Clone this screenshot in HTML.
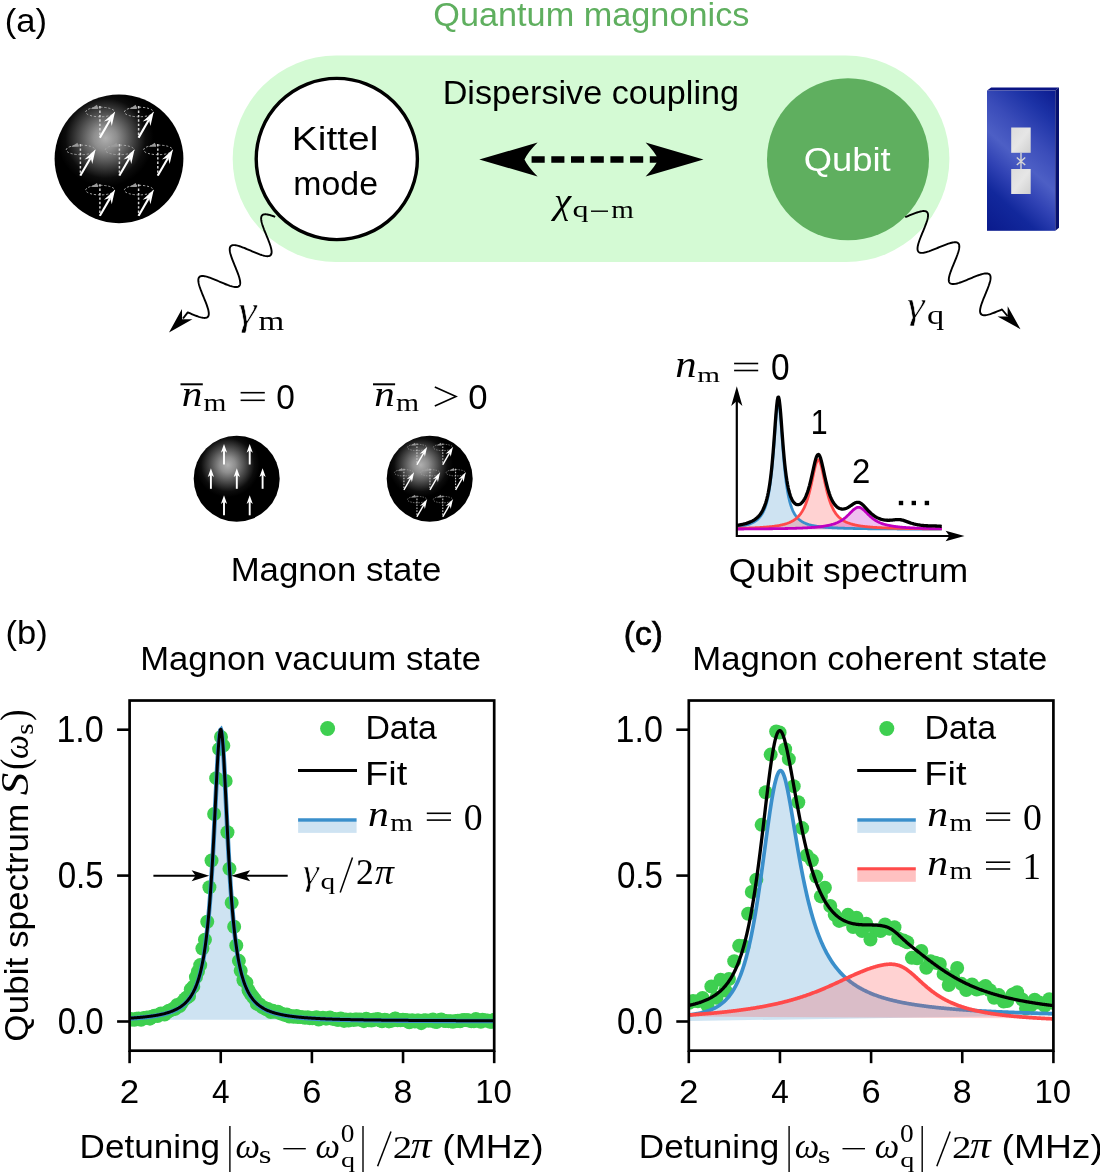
<!DOCTYPE html><html><head><meta charset="utf-8"><title>Quantum magnonics figure</title><style>html,body{margin:0;padding:0;background:#fff;overflow:hidden}svg{display:block}text{font-kerning:none}</style></head><body><svg width="1100" height="1172" viewBox="0 0 1100 1172"><defs><radialGradient id="sph" cx="0.395" cy="0.34" r="0.5" fx="0.395" fy="0.34"><stop offset="0" stop-color="#b0b0b0"/><stop offset="0.18" stop-color="#8e8e8e"/><stop offset="0.42" stop-color="#464646"/><stop offset="0.62" stop-color="#0c0c0c"/><stop offset="0.75" stop-color="#000"/><stop offset="1" stop-color="#000"/></radialGradient><linearGradient id="chip" gradientUnits="userSpaceOnUse" x1="969.6" y1="215.3" x2="1069.7" y2="103.7"><stop offset="0" stop-color="#0a1a8c"/><stop offset="0.22" stop-color="#12289c"/><stop offset="0.36" stop-color="#3042b4"/><stop offset="0.5" stop-color="#4d5fc5"/><stop offset="0.66" stop-color="#3a4cb9"/><stop offset="0.84" stop-color="#1c32a6"/><stop offset="1" stop-color="#0c1c90"/></linearGradient><linearGradient id="pad" x1="0" y1="0" x2="1" y2="1"><stop offset="0" stop-color="#dcdcdc"/><stop offset="0.5" stop-color="#e6e6e6"/><stop offset="1" stop-color="#cfcfcf"/></linearGradient><clipPath id="clipb"><rect x="129.60" y="700.52" width="364.60" height="350.16"/></clipPath><clipPath id="clipc"><rect x="688.80" y="700.52" width="364.60" height="350.16"/></clipPath></defs><rect width="1100" height="1172" fill="#fff"/><rect x="232.7" y="55.6" width="716.7" height="206.4" rx="103.2" ry="103.2" fill="#d4fad4"/>
<circle cx="336.8" cy="159" r="80.6" fill="#fff" stroke="#000" stroke-width="3.4"/>
<circle cx="848" cy="159.3" r="81" fill="#5faf5f"/>
<g><circle cx="119" cy="158.8" r="64.4" fill="url(#sph)"/><ellipse cx="100.20" cy="112.00" rx="14.5" ry="4.8" fill="none" stroke="#a6a6a6" stroke-width="1" stroke-dasharray="2.2 1.8"/><path d="M90.70,108.90 L97.00,104.80 L98.30,108.90 Z" fill="#9a9a9a"/><line x1="99.90" y1="106.10" x2="99.90" y2="137.60" stroke="#d4d4d4" stroke-width="1.5" stroke-dasharray="2.4 2"/><line x1="99.90" y1="137.60" x2="110.08" y2="120.05" stroke="#fff" stroke-width="2.1"/><path d="M115.10,111.40 L103.98,121.60 L110.19,119.87 L111.77,126.11 Z" fill="#fff"/><ellipse cx="138.90" cy="112.00" rx="14.5" ry="4.8" fill="none" stroke="#a6a6a6" stroke-width="1" stroke-dasharray="2.2 1.8"/><path d="M129.40,108.90 L135.70,104.80 L137.00,108.90 Z" fill="#9a9a9a"/><line x1="138.60" y1="106.10" x2="138.60" y2="137.60" stroke="#d4d4d4" stroke-width="1.5" stroke-dasharray="2.4 2"/><line x1="138.60" y1="137.60" x2="148.78" y2="120.05" stroke="#fff" stroke-width="2.1"/><path d="M153.80,111.40 L142.68,121.60 L148.89,119.87 L150.47,126.11 Z" fill="#fff"/><ellipse cx="80.70" cy="149.90" rx="14.5" ry="4.8" fill="none" stroke="#a6a6a6" stroke-width="1" stroke-dasharray="2.2 1.8"/><path d="M71.20,146.80 L77.50,142.70 L78.80,146.80 Z" fill="#9a9a9a"/><line x1="80.40" y1="144.00" x2="80.40" y2="175.50" stroke="#d4d4d4" stroke-width="1.5" stroke-dasharray="2.4 2"/><line x1="80.40" y1="175.50" x2="90.58" y2="157.95" stroke="#fff" stroke-width="2.1"/><path d="M95.60,149.30 L84.48,159.50 L90.69,157.77 L92.27,164.01 Z" fill="#fff"/><ellipse cx="119.70" cy="149.90" rx="14.5" ry="4.8" fill="none" stroke="#a6a6a6" stroke-width="1" stroke-dasharray="2.2 1.8"/><path d="M110.20,146.80 L116.50,142.70 L117.80,146.80 Z" fill="#9a9a9a"/><line x1="119.40" y1="144.00" x2="119.40" y2="175.50" stroke="#d4d4d4" stroke-width="1.5" stroke-dasharray="2.4 2"/><line x1="119.40" y1="175.50" x2="129.58" y2="157.95" stroke="#fff" stroke-width="2.1"/><path d="M134.60,149.30 L123.48,159.50 L129.69,157.77 L131.27,164.01 Z" fill="#fff"/><ellipse cx="158.10" cy="149.90" rx="14.5" ry="4.8" fill="none" stroke="#a6a6a6" stroke-width="1" stroke-dasharray="2.2 1.8"/><path d="M148.60,146.80 L154.90,142.70 L156.20,146.80 Z" fill="#9a9a9a"/><line x1="157.80" y1="144.00" x2="157.80" y2="175.50" stroke="#d4d4d4" stroke-width="1.5" stroke-dasharray="2.4 2"/><line x1="157.80" y1="175.50" x2="167.98" y2="157.95" stroke="#fff" stroke-width="2.1"/><path d="M173.00,149.30 L161.88,159.50 L168.09,157.77 L169.67,164.01 Z" fill="#fff"/><ellipse cx="100.20" cy="190.10" rx="14.5" ry="4.8" fill="none" stroke="#a6a6a6" stroke-width="1" stroke-dasharray="2.2 1.8"/><path d="M90.70,187.00 L97.00,182.90 L98.30,187.00 Z" fill="#9a9a9a"/><line x1="99.90" y1="184.20" x2="99.90" y2="215.70" stroke="#d4d4d4" stroke-width="1.5" stroke-dasharray="2.4 2"/><line x1="99.90" y1="215.70" x2="110.08" y2="198.15" stroke="#fff" stroke-width="2.1"/><path d="M115.10,189.50 L103.98,199.70 L110.19,197.97 L111.77,204.21 Z" fill="#fff"/><ellipse cx="138.90" cy="190.10" rx="14.5" ry="4.8" fill="none" stroke="#a6a6a6" stroke-width="1" stroke-dasharray="2.2 1.8"/><path d="M129.40,187.00 L135.70,182.90 L137.00,187.00 Z" fill="#9a9a9a"/><line x1="138.60" y1="184.20" x2="138.60" y2="215.70" stroke="#d4d4d4" stroke-width="1.5" stroke-dasharray="2.4 2"/><line x1="138.60" y1="215.70" x2="148.78" y2="198.15" stroke="#fff" stroke-width="2.1"/><path d="M153.80,189.50 L142.68,199.70 L148.89,197.97 L150.47,204.21 Z" fill="#fff"/></g>
<g transform="translate(429.7,478.7) scale(0.6677) translate(-119,-158.8)"><circle cx="119" cy="158.8" r="64.4" fill="url(#sph)"/><ellipse cx="100.20" cy="112.00" rx="14.5" ry="4.8" fill="none" stroke="#a6a6a6" stroke-width="1" stroke-dasharray="2.2 1.8"/><path d="M90.70,108.90 L97.00,104.80 L98.30,108.90 Z" fill="#9a9a9a"/><line x1="99.90" y1="106.10" x2="99.90" y2="137.60" stroke="#d4d4d4" stroke-width="1.5" stroke-dasharray="2.4 2"/><line x1="99.90" y1="137.60" x2="110.08" y2="120.05" stroke="#fff" stroke-width="2.1"/><path d="M115.10,111.40 L103.98,121.60 L110.19,119.87 L111.77,126.11 Z" fill="#fff"/><ellipse cx="138.90" cy="112.00" rx="14.5" ry="4.8" fill="none" stroke="#a6a6a6" stroke-width="1" stroke-dasharray="2.2 1.8"/><path d="M129.40,108.90 L135.70,104.80 L137.00,108.90 Z" fill="#9a9a9a"/><line x1="138.60" y1="106.10" x2="138.60" y2="137.60" stroke="#d4d4d4" stroke-width="1.5" stroke-dasharray="2.4 2"/><line x1="138.60" y1="137.60" x2="148.78" y2="120.05" stroke="#fff" stroke-width="2.1"/><path d="M153.80,111.40 L142.68,121.60 L148.89,119.87 L150.47,126.11 Z" fill="#fff"/><ellipse cx="80.70" cy="149.90" rx="14.5" ry="4.8" fill="none" stroke="#a6a6a6" stroke-width="1" stroke-dasharray="2.2 1.8"/><path d="M71.20,146.80 L77.50,142.70 L78.80,146.80 Z" fill="#9a9a9a"/><line x1="80.40" y1="144.00" x2="80.40" y2="175.50" stroke="#d4d4d4" stroke-width="1.5" stroke-dasharray="2.4 2"/><line x1="80.40" y1="175.50" x2="90.58" y2="157.95" stroke="#fff" stroke-width="2.1"/><path d="M95.60,149.30 L84.48,159.50 L90.69,157.77 L92.27,164.01 Z" fill="#fff"/><ellipse cx="119.70" cy="149.90" rx="14.5" ry="4.8" fill="none" stroke="#a6a6a6" stroke-width="1" stroke-dasharray="2.2 1.8"/><path d="M110.20,146.80 L116.50,142.70 L117.80,146.80 Z" fill="#9a9a9a"/><line x1="119.40" y1="144.00" x2="119.40" y2="175.50" stroke="#d4d4d4" stroke-width="1.5" stroke-dasharray="2.4 2"/><line x1="119.40" y1="175.50" x2="129.58" y2="157.95" stroke="#fff" stroke-width="2.1"/><path d="M134.60,149.30 L123.48,159.50 L129.69,157.77 L131.27,164.01 Z" fill="#fff"/><ellipse cx="158.10" cy="149.90" rx="14.5" ry="4.8" fill="none" stroke="#a6a6a6" stroke-width="1" stroke-dasharray="2.2 1.8"/><path d="M148.60,146.80 L154.90,142.70 L156.20,146.80 Z" fill="#9a9a9a"/><line x1="157.80" y1="144.00" x2="157.80" y2="175.50" stroke="#d4d4d4" stroke-width="1.5" stroke-dasharray="2.4 2"/><line x1="157.80" y1="175.50" x2="167.98" y2="157.95" stroke="#fff" stroke-width="2.1"/><path d="M173.00,149.30 L161.88,159.50 L168.09,157.77 L169.67,164.01 Z" fill="#fff"/><ellipse cx="100.20" cy="190.10" rx="14.5" ry="4.8" fill="none" stroke="#a6a6a6" stroke-width="1" stroke-dasharray="2.2 1.8"/><path d="M90.70,187.00 L97.00,182.90 L98.30,187.00 Z" fill="#9a9a9a"/><line x1="99.90" y1="184.20" x2="99.90" y2="215.70" stroke="#d4d4d4" stroke-width="1.5" stroke-dasharray="2.4 2"/><line x1="99.90" y1="215.70" x2="110.08" y2="198.15" stroke="#fff" stroke-width="2.1"/><path d="M115.10,189.50 L103.98,199.70 L110.19,197.97 L111.77,204.21 Z" fill="#fff"/><ellipse cx="138.90" cy="190.10" rx="14.5" ry="4.8" fill="none" stroke="#a6a6a6" stroke-width="1" stroke-dasharray="2.2 1.8"/><path d="M129.40,187.00 L135.70,182.90 L137.00,187.00 Z" fill="#9a9a9a"/><line x1="138.60" y1="184.20" x2="138.60" y2="215.70" stroke="#d4d4d4" stroke-width="1.5" stroke-dasharray="2.4 2"/><line x1="138.60" y1="215.70" x2="148.78" y2="198.15" stroke="#fff" stroke-width="2.1"/><path d="M153.80,189.50 L142.68,199.70 L148.89,197.97 L150.47,204.21 Z" fill="#fff"/></g>
<circle cx="236.7" cy="478.7" r="43" fill="url(#sph)"/>
<line x1="224" y1="464.5" x2="224" y2="450" stroke="#fff" stroke-width="1.9"/>
<path d="M224.00,444.00 L220.90,452.80 L224.00,450.34 L227.10,452.80 Z" fill="#fff"/>
<line x1="249.7" y1="464.5" x2="249.7" y2="450" stroke="#fff" stroke-width="1.9"/>
<path d="M249.70,444.00 L246.60,452.80 L249.70,450.34 L252.80,452.80 Z" fill="#fff"/>
<line x1="210.9" y1="488.8" x2="210.9" y2="474.3" stroke="#fff" stroke-width="1.9"/>
<path d="M210.90,468.30 L207.80,477.10 L210.90,474.64 L214.00,477.10 Z" fill="#fff"/>
<line x1="236.8" y1="488.8" x2="236.8" y2="474.3" stroke="#fff" stroke-width="1.9"/>
<path d="M236.80,468.30 L233.70,477.10 L236.80,474.64 L239.90,477.10 Z" fill="#fff"/>
<line x1="262.6" y1="488.8" x2="262.6" y2="474.3" stroke="#fff" stroke-width="1.9"/>
<path d="M262.60,468.30 L259.50,477.10 L262.60,474.64 L265.70,477.10 Z" fill="#fff"/>
<line x1="224" y1="515.3" x2="224" y2="501.2" stroke="#fff" stroke-width="1.9"/>
<path d="M224.00,495.20 L220.90,504.00 L224.00,501.54 L227.10,504.00 Z" fill="#fff"/>
<line x1="249.7" y1="515.3" x2="249.7" y2="501.2" stroke="#fff" stroke-width="1.9"/>
<path d="M249.70,495.20 L246.60,504.00 L249.70,501.54 L252.80,504.00 Z" fill="#fff"/>
<rect x="987" y="90.6" width="68.3" height="140.2" fill="url(#chip)"/>
<path d="M987,90.6 L991.1,87.4 L1059,87.4 L1055.3,90.6 Z" fill="#0a1484"/>
<path d="M1055.3,90.6 L1059,87.4 L1059,227.8 L1055.3,230.8 Z" fill="#06106e"/>
<rect x="1011.2" y="127.5" width="19.5" height="25.3" fill="url(#pad)"/>
<rect x="1011.2" y="169" width="19.5" height="25" fill="url(#pad)"/>
<path d="M1021,152.8 V169 M1016.8,157.4 L1025.2,165 M1025.2,157.4 L1016.8,165" stroke="#d6d6d6" stroke-width="1.4" fill="none"/>
<line x1="531.6" y1="159.5" x2="660" y2="159.5" stroke="#000" stroke-width="6.5" stroke-dasharray="13.1 6.6"/>
<path d="M479.3,159.5 L537.6,142.5 Q528,152 524.5,159.5 Q528,167 537.6,176.4 Z" fill="#000"/>
<path d="M703.5,159.5 L645.6,142.5 Q655,152 658.2,159.5 Q655,167 645.6,176.4 Z" fill="#000"/>
<path d="M275.19,216.92 L273.97,216.45 L272.78,216.01 L271.63,215.61 L270.53,215.26 L269.47,214.95 L268.46,214.70 L267.51,214.50 L266.61,214.36 L265.78,214.28 L265.01,214.27 L264.30,214.33 L263.67,214.45 L263.10,214.65 L262.61,214.92 L262.19,215.26 L261.84,215.67 L261.56,216.16 L261.35,216.72 L261.21,217.35 L261.14,218.05 L261.14,218.82 L261.20,219.65 L261.32,220.55 L261.50,221.50 L261.73,222.51 L262.02,223.58 L262.35,224.69 L262.73,225.84 L263.15,227.04 L263.60,228.27 L264.07,229.53 L264.58,230.81 L265.10,232.11 L265.63,233.43 L266.17,234.75 L266.72,236.07 L267.26,237.39 L267.79,238.71 L268.30,240.00 L268.80,241.28 L269.27,242.53 L269.71,243.75 L270.12,244.94 L270.49,246.08 L270.81,247.18 L271.08,248.23 L271.30,249.23 L271.47,250.17 L271.58,251.05 L271.62,251.86 L271.60,252.61 L271.51,253.30 L271.35,253.91 L271.13,254.45 L270.83,254.92 L270.46,255.31 L270.02,255.64 L269.50,255.89 L268.92,256.06 L268.27,256.17 L267.55,256.21 L266.76,256.18 L265.91,256.09 L265.00,255.93 L264.03,255.72 L263.01,255.45 L261.94,255.13 L260.82,254.76 L259.66,254.36 L258.46,253.91 L257.23,253.43 L255.98,252.92 L254.70,252.39 L253.40,251.84 L252.09,251.28 L250.78,250.72 L249.46,250.15 L248.15,249.59 L246.85,249.04 L245.57,248.50 L244.31,247.99 L243.08,247.51 L241.87,247.05 L240.71,246.64 L239.58,246.26 L238.50,245.94 L237.47,245.66 L236.49,245.44 L235.57,245.27 L234.71,245.17 L233.92,245.13 L233.18,245.16 L232.52,245.25 L231.93,245.42 L231.40,245.66 L230.95,245.97 L230.57,246.35 L230.26,246.81 L230.02,247.34 L229.85,247.94 L229.75,248.61 L229.72,249.35 L229.75,250.15 L229.85,251.02 L230.01,251.95 L230.22,252.94 L230.48,253.98 L230.80,255.07 L231.16,256.21 L231.56,257.39 L232.00,258.61 L232.46,259.85 L232.96,261.13 L233.47,262.42 L234.00,263.73 L234.54,265.05 L235.08,266.38 L235.62,267.70 L236.16,269.02 L236.68,270.32 L237.19,271.61 L237.67,272.87 L238.12,274.10 L238.55,275.30 L238.93,276.47 L239.27,277.59 L239.57,278.66 L239.81,279.68 L240.00,280.64 L240.13,281.55 L240.20,282.39 L240.21,283.17 L240.15,283.88 L240.02,284.52 L239.82,285.09 L239.55,285.59 L239.22,286.02 L238.80,286.37 L238.32,286.65 L237.77,286.86 L237.14,287.00 L236.45,287.06 L235.69,287.06 L234.87,287.00 L233.99,286.87 L233.04,286.68 L232.04,286.43 L230.99,286.13 L229.89,285.79 L228.75,285.39 L227.56,284.96 L226.35,284.49 L225.10,284.00 L223.83,283.48 L222.54,282.93 L221.24,282.38 L219.92,281.82 L218.61,281.25 L217.30,280.68 L215.99,280.13 L214.70,279.59 L213.43,279.07 L212.18,278.57 L210.97,278.10 L209.78,277.67 L208.64,277.28 L207.54,276.93 L206.49,276.63 L205.49,276.38 L204.54,276.20 L203.66,276.07 L202.84,276.00 L202.08,276.00 L201.38,276.07 L200.76,276.20 L200.21,276.41 L199.72,276.69 L199.31,277.04 L198.97,277.47 L198.70,277.97 L198.51,278.54 L198.38,279.18 L198.32,279.89 L198.32,280.67 L198.39,281.51 L198.53,282.42 L198.71,283.38 L198.96,284.40 L199.25,285.47 L199.59,286.59 L199.98,287.75 L200.40,288.95 L200.85,290.19 L201.34,291.45 L201.84,292.73 L202.37,294.04 L202.90,295.36 L203.44,296.68 L203.99,298.00 L204.52,299.32 L205.05,300.63 L205.57,301.93 L206.06,303.20 L206.53,304.45 L206.96,305.66 L207.36,306.84 L207.72,307.98 L208.04,309.07 L208.31,310.11 L208.52,311.10 L208.67,312.03 L208.77,312.90 L208.80,313.71 L208.77,314.45 L208.67,315.12 L208.51,315.72 L208.27,316.25 L207.96,316.71 L207.58,317.09 L207.13,317.40 L206.60,317.64 L206.01,317.81 L205.34,317.90 L204.61,317.93 L203.82,317.89 L202.96,317.79 L202.04,317.63 L201.06,317.40 L200.03,317.13 L198.95,316.80 L197.83,316.43 L196.66,316.01 L195.46,315.56 L194.22,315.07 L192.96,314.56 L191.68,314.03 L190.38,313.48 L189.07,312.91 L187.75,312.35 L183,318.5" fill="none" stroke="#000" stroke-width="1.9" stroke-linejoin="round"/>
<path d="M169.00,332.40 L192.45,319.32 L182.10,319.22 L181.95,308.88 Z" fill="#000"/>
<path d="M905.25,217.16 L906.60,216.59 L907.95,216.03 L909.30,215.47 L910.64,214.91 L911.97,214.38 L913.27,213.86 L914.55,213.37 L915.80,212.92 L917.00,212.50 L918.16,212.13 L919.28,211.81 L920.34,211.53 L921.34,211.32 L922.29,211.16 L923.17,211.07 L923.98,211.05 L924.72,211.10 L925.39,211.22 L925.99,211.42 L926.51,211.69 L926.96,212.03 L927.32,212.45 L927.62,212.95 L927.83,213.53 L927.98,214.18 L928.05,214.90 L928.05,215.69 L927.98,216.55 L927.84,217.48 L927.65,218.47 L927.40,219.51 L927.09,220.61 L926.73,221.76 L926.33,222.96 L925.89,224.19 L925.41,225.46 L924.91,226.76 L924.38,228.08 L923.83,229.42 L923.28,230.77 L922.72,232.12 L922.15,233.48 L921.60,234.83 L921.06,236.16 L920.54,237.48 L920.04,238.77 L919.57,240.03 L919.14,241.26 L918.75,242.44 L918.40,243.58 L918.11,244.67 L917.87,245.70 L917.69,246.67 L917.57,247.58 L917.52,248.43 L917.53,249.20 L917.62,249.91 L917.78,250.54 L918.02,251.09 L918.33,251.57 L918.72,251.98 L919.18,252.30 L919.72,252.56 L920.33,252.73 L921.02,252.83 L921.78,252.87 L922.61,252.83 L923.51,252.72 L924.47,252.55 L925.48,252.32 L926.56,252.04 L927.69,251.70 L928.86,251.32 L930.07,250.89 L931.33,250.43 L932.61,249.93 L933.92,249.41 L935.25,248.87 L936.60,248.31 L937.95,247.75 L939.30,247.18 L940.65,246.62 L941.99,246.07 L943.32,245.54 L944.62,245.02 L945.90,244.54 L947.14,244.08 L948.34,243.67 L949.50,243.30 L950.61,242.98 L951.67,242.71 L952.67,242.50 L953.61,242.35 L954.49,242.26 L955.29,242.25 L956.03,242.30 L956.70,242.42 L957.29,242.62 L957.81,242.90 L958.25,243.25 L958.61,243.67 L958.90,244.18 L959.11,244.76 L959.25,245.41 L959.31,246.14 L959.31,246.93 L959.24,247.80 L959.10,248.73 L958.90,249.72 L958.64,250.77 L958.33,251.87 L957.97,253.03 L957.57,254.22 L957.12,255.46 L956.65,256.73 L956.14,258.03 L955.61,259.36 L955.07,260.69 L954.51,262.05 L953.95,263.40 L953.38,264.76 L952.83,266.10 L952.29,267.44 L951.77,268.75 L951.27,270.04 L950.81,271.30 L950.38,272.52 L949.99,273.71 L949.65,274.84 L949.35,275.92 L949.12,276.95 L948.94,277.92 L948.83,278.83 L948.78,279.67 L948.80,280.44 L948.89,281.14 L949.06,281.77 L949.30,282.32 L949.62,282.79 L950.01,283.19 L950.48,283.51 L951.02,283.76 L951.64,283.93 L952.33,284.03 L953.10,284.06 L953.93,284.01 L954.83,283.90 L955.79,283.73 L956.82,283.50 L957.89,283.21 L959.02,282.87 L960.20,282.48 L961.42,282.05 L962.67,281.59 L963.96,281.09 L965.27,280.57 L966.60,280.03 L967.95,279.47 L969.30,278.91 L970.65,278.34 L972.00,277.78 L973.34,277.23 L974.67,276.69 L975.97,276.18 L977.24,275.70 L978.48,275.25 L979.68,274.84 L980.84,274.47 L981.94,274.15 L983.00,273.89 L984.00,273.68 L984.93,273.53 L985.80,273.45 L986.61,273.44 L987.34,273.50 L988.00,273.62 L988.59,273.83 L989.10,274.11 L989.54,274.46 L989.90,274.90 L990.18,275.40 L990.39,275.99 L990.52,276.65 L990.58,277.38 L990.57,278.18 L990.50,279.05 L990.35,279.98 L990.15,280.98 L989.89,282.03 L989.58,283.14 L989.21,284.29 L988.81,285.49 L988.36,286.73 L987.88,288.00 L987.37,289.31 L986.84,290.63 L986.30,291.97 L985.74,293.32 L985.18,294.68 L984.62,296.03 L984.06,297.38 L983.52,298.71 L983.00,300.02 L982.51,301.31 L982.04,302.57 L981.62,303.79 L981.23,304.97 L980.89,306.10 L980.60,307.18 L980.37,308.21 L980.20,309.17 L980.09,310.08 L980.04,310.91 L980.07,311.68 L980.17,312.37 L980.34,312.99 L980.58,313.54 L980.90,314.01 L981.30,314.41 L981.77,314.72 L982.32,314.96 L982.95,315.13 L983.64,315.23 L984.41,315.25 L985.25,315.20 L986.15,315.09 L987.12,314.91 L988.15,314.67 L989.23,314.38 L990.36,314.04 L991.54,313.65 L992.76,313.22 L994.02,312.75 L995.31,312.25 L996.62,311.73 L997.95,311.18 L999.30,310.63 L1000.65,310.06 L1002.00,309.50 L1007.5,316" fill="none" stroke="#000" stroke-width="1.9" stroke-linejoin="round"/>
<path d="M1020.50,329.20 L1007.68,306.29 L1007.61,316.38 L997.52,316.51 Z" fill="#000"/>
<text x="4.85" y="32.00" font-family='"Liberation Sans", sans-serif' font-size="33" textLength="42.29" lengthAdjust="spacingAndGlyphs">(a)</text>
<text x="433.28" y="25.80" font-family='"Liberation Sans", sans-serif' font-size="34" textLength="316.16" lengthAdjust="spacingAndGlyphs" fill="#5faf5f">Quantum magnonics</text>
<text x="442.70" y="104.00" font-family='"Liberation Sans", sans-serif' font-size="34" textLength="296.31" lengthAdjust="spacingAndGlyphs">Dispersive coupling</text>
<text x="291.81" y="150.00" font-family='"Liberation Sans", sans-serif' font-size="34" textLength="86.49" lengthAdjust="spacingAndGlyphs">Kittel</text>
<text x="293.35" y="195.00" font-family='"Liberation Sans", sans-serif' font-size="34" textLength="84.65" lengthAdjust="spacingAndGlyphs">mode</text>
<text x="803.67" y="170.90" font-family='"Liberation Sans", sans-serif' font-size="34" textLength="87.09" lengthAdjust="spacingAndGlyphs" fill="#fff">Qubit</text>
<text x="554.11" y="212.55" font-family='"Liberation Serif", serif' font-style="italic" font-size="34.98" textLength="17.09" lengthAdjust="spacingAndGlyphs">χ</text>
<text x="572.43" y="217.44" font-family='"Liberation Serif", serif' font-size="23.78" textLength="16.05" lengthAdjust="spacingAndGlyphs">q</text>
<line x1="591" y1="211.2" x2="608" y2="211.2" stroke="#000" stroke-width="1.4"/>
<text x="611.39" y="217.50" font-family='"Liberation Serif", serif' font-size="24.41" textLength="22.56" lengthAdjust="spacingAndGlyphs">m</text>
<text x="238.22" y="324.04" font-family='"Liberation Serif", serif' font-style="italic" font-size="40.19" textLength="18.21" lengthAdjust="spacingAndGlyphs" stroke="#fff" stroke-width="0.5">γ</text>
<text x="258.51" y="329.60" font-family='"Liberation Serif", serif' font-size="27.8" textLength="25.71" lengthAdjust="spacingAndGlyphs">m</text>
<text x="907.00" y="318.33" font-family='"Liberation Serif", serif' font-style="italic" font-size="38.85" textLength="17.60" lengthAdjust="spacingAndGlyphs" stroke="#fff" stroke-width="0.5">γ</text>
<text x="926.96" y="323.94" font-family='"Liberation Serif", serif' font-size="27.53" textLength="17.16" lengthAdjust="spacingAndGlyphs">q</text>
<line x1="180.5" y1="384.3" x2="202.8" y2="384.3" stroke="#000" stroke-width="2.0"/>
<text x="181.71" y="405.80" font-family='"Liberation Serif", serif' font-style="italic" font-size="35.87" textLength="20.62" lengthAdjust="spacingAndGlyphs">n</text>
<text x="203.58" y="411.00" font-family='"Liberation Serif", serif' font-size="25.47" textLength="22.88" lengthAdjust="spacingAndGlyphs">m</text>
<line x1="240.6" y1="392.7" x2="264.8" y2="392.7" stroke="#000" stroke-width="1.6"/>
<line x1="240.6" y1="400.3" x2="264.8" y2="400.3" stroke="#000" stroke-width="1.6"/>
<text x="276.19" y="409.15" font-family='"Liberation Sans", sans-serif' font-size="35.59" textLength="18.61" lengthAdjust="spacingAndGlyphs">0</text>
<line x1="373" y1="384.3" x2="395.1" y2="384.3" stroke="#000" stroke-width="2.0"/>
<text x="374.37" y="405.70" font-family='"Liberation Serif", serif' font-style="italic" font-size="35.65" textLength="20.50" lengthAdjust="spacingAndGlyphs">n</text>
<text x="395.98" y="410.80" font-family='"Liberation Serif", serif' font-size="25.04" textLength="23.09" lengthAdjust="spacingAndGlyphs">m</text>
<path d="M434.8,387 L456,396.5 L434.8,406" fill="none" stroke="#000" stroke-width="1.6"/>
<text x="468.24" y="408.95" font-family='"Liberation Sans", sans-serif' font-size="35.45" textLength="19.31" lengthAdjust="spacingAndGlyphs">0</text>
<text x="230.65" y="581.30" font-family='"Liberation Sans", sans-serif' font-size="34" textLength="210.70" lengthAdjust="spacingAndGlyphs">Magnon state</text>
<text x="728.83" y="582.00" font-family='"Liberation Sans", sans-serif' font-size="34" textLength="239.40" lengthAdjust="spacingAndGlyphs">Qubit spectrum</text>
<text x="675.25" y="377.10" font-family='"Liberation Serif", serif' font-style="italic" font-size="37.14" textLength="21.36" lengthAdjust="spacingAndGlyphs">n</text>
<text x="697.31" y="381.50" font-family='"Liberation Serif", serif' font-size="21.65" textLength="22.73" lengthAdjust="spacingAndGlyphs">m</text>
<line x1="734.1" y1="363.5" x2="758.2" y2="363.5" stroke="#000" stroke-width="1.6"/>
<line x1="734.1" y1="370.5" x2="758.2" y2="370.5" stroke="#000" stroke-width="1.6"/>
<text x="770.89" y="380.15" font-family='"Liberation Sans", sans-serif' font-size="36.02" textLength="18.61" lengthAdjust="spacingAndGlyphs">0</text>
<text x="810.79" y="433.50" font-family='"Liberation Sans", sans-serif' font-size="35.76" textLength="16.90" lengthAdjust="spacingAndGlyphs">1</text>
<text x="852.04" y="482.80" font-family='"Liberation Sans", sans-serif' font-size="35.23" textLength="18.31" lengthAdjust="spacingAndGlyphs">2</text>
<rect x="898.8" y="500.8" width="4.4" height="4.4" fill="#000"/>
<rect x="911.5999999999999" y="500.8" width="4.4" height="4.4" fill="#000"/>
<rect x="924.6999999999999" y="500.8" width="4.4" height="4.4" fill="#000"/>
<path d="M736.80,529.3 L736.80,526.68 L737.49,526.59 L738.17,526.50 L738.86,526.41 L739.54,526.30 L740.23,526.20 L740.91,526.09 L741.60,525.97 L742.28,525.84 L742.97,525.71 L743.66,525.57 L744.34,525.42 L745.03,525.27 L745.71,525.10 L746.40,524.93 L747.08,524.74 L747.77,524.54 L748.46,524.33 L749.14,524.10 L749.83,523.86 L750.51,523.60 L751.20,523.32 L751.88,523.02 L752.57,522.70 L753.25,522.35 L753.94,521.98 L754.63,521.57 L755.31,521.14 L756.00,520.66 L756.68,520.14 L757.37,519.58 L758.05,518.97 L758.74,518.29 L759.43,517.55 L760.11,516.74 L760.80,515.84 L761.48,514.85 L762.17,513.75 L762.85,512.52 L763.54,511.15 L764.22,509.62 L764.91,507.90 L765.60,505.96 L766.28,503.76 L766.97,501.28 L767.65,498.45 L768.34,495.23 L769.02,491.54 L769.71,487.33 L770.40,482.51 L771.08,477.00 L771.77,470.74 L772.45,463.66 L773.14,455.75 L773.82,447.07 L774.51,437.82 L775.19,428.34 L775.88,419.21 L776.57,411.17 L777.25,405.09 L777.94,401.77 L778.62,401.67 L779.31,404.82 L779.99,410.75 L780.68,418.70 L781.37,427.79 L782.05,437.27 L782.74,446.54 L783.42,455.26 L784.11,463.22 L784.79,470.35 L785.48,476.66 L786.16,482.21 L786.85,487.07 L787.54,491.31 L788.22,495.02 L788.91,498.27 L789.59,501.12 L790.28,503.63 L790.96,505.83 L791.65,507.79 L792.34,509.52 L793.02,511.06 L793.71,512.44 L794.39,513.68 L795.08,514.79 L795.76,515.79 L796.45,516.69 L797.13,517.51 L797.82,518.25 L798.51,518.93 L799.19,519.55 L799.88,520.11 L800.56,520.63 L801.25,521.11 L801.93,521.55 L802.62,521.96 L803.31,522.33 L803.99,522.68 L804.68,523.00 L805.36,523.30 L806.05,523.58 L806.73,523.84 L807.42,524.09 L808.10,524.31 L808.79,524.53 L809.48,524.73 L810.16,524.92 L810.85,525.09 L811.53,525.26 L812.22,525.42 L812.90,525.56 L813.59,525.70 L814.27,525.84 L814.96,525.96 L815.65,526.08 L816.33,526.19 L817.02,526.30 L817.70,526.40 L818.39,526.50 L819.07,526.59 L819.76,526.67 L820.45,526.76 L821.13,526.84 L821.82,526.91 L822.50,526.98 L823.19,527.05 L823.87,527.12 L824.56,527.18 L825.24,527.24 L825.93,527.30 L826.62,527.36 L827.30,527.41 L827.99,527.46 L828.67,527.51 L829.36,527.56 L830.04,527.60 L830.73,527.65 L831.42,527.69 L832.10,527.73 L832.79,527.77 L833.47,527.80 L834.16,527.84 L834.84,527.87 L835.53,527.91 L836.21,527.94 L836.90,527.97 L837.59,528.00 L838.27,528.03 L838.96,528.06 L839.64,528.09 L840.33,528.11 L841.01,528.14 L841.70,528.16 L842.39,528.19 L843.07,528.21 L843.76,528.23 L844.44,528.26 L845.13,528.28 L845.81,528.30 L846.50,528.32 L847.18,528.34 L847.87,528.35 L848.56,528.37 L849.24,528.39 L849.93,528.41 L850.61,528.42 L851.30,528.44 L851.98,528.46 L852.67,528.47 L853.36,528.49 L854.04,528.50 L854.73,528.52 L855.41,528.53 L856.10,528.54 L856.78,528.56 L857.47,528.57 L858.15,528.58 L858.84,528.59 L859.53,528.61 L860.21,528.62 L860.90,528.63 L861.58,528.64 L862.27,528.65 L862.95,528.66 L863.64,528.67 L864.33,528.68 L865.01,528.69 L865.70,528.70 L866.38,528.71 L867.07,528.72 L867.75,528.73 L868.44,528.74 L869.12,528.74 L869.81,528.75 L870.50,528.76 L871.18,528.77 L871.87,528.78 L872.55,528.78 L873.24,528.79 L873.92,528.80 L874.61,528.81 L875.29,528.81 L875.98,528.82 L876.67,528.83 L877.35,528.83 L878.04,528.84 L878.72,528.84 L879.41,528.85 L880.09,528.86 L880.78,528.86 L881.47,528.87 L882.15,528.87 L882.84,528.88 L883.52,528.89 L884.21,528.89 L884.89,528.90 L885.58,528.90 L886.26,528.91 L886.95,528.91 L887.64,528.92 L888.32,528.92 L889.01,528.93 L889.69,528.93 L890.38,528.93 L891.06,528.94 L891.75,528.94 L892.44,528.95 L893.12,528.95 L893.81,528.96 L894.49,528.96 L895.18,528.96 L895.86,528.97 L896.55,528.97 L897.23,528.98 L897.92,528.98 L898.61,528.98 L899.29,528.99 L899.98,528.99 L900.66,528.99 L901.35,529.00 L902.03,529.00 L902.72,529.00 L903.41,529.01 L904.09,529.01 L904.78,529.01 L905.46,529.02 L906.15,529.02 L906.83,529.02 L907.52,529.02 L908.20,529.03 L908.89,529.03 L909.58,529.03 L910.26,529.04 L910.95,529.04 L911.63,529.04 L912.32,529.04 L913.00,529.05 L913.69,529.05 L914.38,529.05 L915.06,529.05 L915.75,529.06 L916.43,529.06 L917.12,529.06 L917.80,529.06 L918.49,529.07 L919.17,529.07 L919.86,529.07 L920.55,529.07 L921.23,529.07 L921.92,529.08 L922.60,529.08 L923.29,529.08 L923.97,529.08 L924.66,529.09 L925.35,529.09 L926.03,529.09 L926.72,529.09 L927.40,529.09 L928.09,529.09 L928.77,529.10 L929.46,529.10 L930.14,529.10 L930.83,529.10 L931.52,529.10 L932.20,529.11 L932.89,529.11 L933.57,529.11 L934.26,529.11 L934.94,529.11 L935.63,529.11 L936.32,529.12 L937.00,529.12 L937.69,529.12 L938.37,529.12 L939.06,529.12 L939.74,529.12 L940.43,529.12 L941.11,529.13 L941.80,529.13 L941.80,529.3 Z" fill="#3a8fcb" fill-opacity="0.25"/>
<path d="M736.80,529.3 L736.80,528.37 L737.49,528.35 L738.17,528.34 L738.86,528.32 L739.54,528.30 L740.23,528.29 L740.91,528.27 L741.60,528.25 L742.28,528.23 L742.97,528.21 L743.66,528.19 L744.34,528.17 L745.03,528.15 L745.71,528.13 L746.40,528.11 L747.08,528.08 L747.77,528.06 L748.46,528.04 L749.14,528.01 L749.83,527.99 L750.51,527.96 L751.20,527.93 L751.88,527.91 L752.57,527.88 L753.25,527.85 L753.94,527.82 L754.63,527.79 L755.31,527.75 L756.00,527.72 L756.68,527.69 L757.37,527.65 L758.05,527.61 L758.74,527.58 L759.43,527.54 L760.11,527.50 L760.80,527.45 L761.48,527.41 L762.17,527.36 L762.85,527.32 L763.54,527.27 L764.22,527.22 L764.91,527.17 L765.60,527.11 L766.28,527.06 L766.97,527.00 L767.65,526.94 L768.34,526.87 L769.02,526.81 L769.71,526.74 L770.40,526.67 L771.08,526.60 L771.77,526.52 L772.45,526.44 L773.14,526.36 L773.82,526.27 L774.51,526.18 L775.19,526.08 L775.88,525.98 L776.57,525.88 L777.25,525.77 L777.94,525.65 L778.62,525.53 L779.31,525.41 L779.99,525.27 L780.68,525.13 L781.37,524.99 L782.05,524.83 L782.74,524.67 L783.42,524.50 L784.11,524.32 L784.79,524.13 L785.48,523.93 L786.16,523.71 L786.85,523.49 L787.54,523.25 L788.22,523.00 L788.91,522.73 L789.59,522.44 L790.28,522.14 L790.96,521.81 L791.65,521.46 L792.34,521.09 L793.02,520.70 L793.71,520.28 L794.39,519.82 L795.08,519.34 L795.76,518.81 L796.45,518.25 L797.13,517.65 L797.82,516.99 L798.51,516.29 L799.19,515.53 L799.88,514.70 L800.56,513.81 L801.25,512.84 L801.93,511.78 L802.62,510.64 L803.31,509.39 L803.99,508.04 L804.68,506.56 L805.36,504.95 L806.05,503.21 L806.73,501.30 L807.42,499.24 L808.10,497.00 L808.79,494.59 L809.48,491.99 L810.16,489.22 L810.85,486.28 L811.53,483.20 L812.22,480.00 L812.90,476.75 L813.59,473.52 L814.27,470.38 L814.96,467.44 L815.65,464.83 L816.33,462.66 L817.02,461.04 L817.70,460.07 L818.39,459.81 L819.07,460.26 L819.76,461.40 L820.45,463.17 L821.13,465.47 L821.82,468.18 L822.50,471.17 L823.19,474.35 L823.87,477.60 L824.56,480.84 L825.24,484.01 L825.93,487.05 L826.62,489.95 L827.30,492.68 L827.99,495.23 L828.67,497.60 L829.36,499.79 L830.04,501.81 L830.73,503.67 L831.42,505.38 L832.10,506.96 L832.79,508.40 L833.47,509.73 L834.16,510.94 L834.84,512.07 L835.53,513.10 L836.21,514.05 L836.90,514.92 L837.59,515.73 L838.27,516.48 L838.96,517.17 L839.64,517.81 L840.33,518.40 L841.01,518.95 L841.70,519.47 L842.39,519.94 L843.07,520.39 L843.76,520.80 L844.44,521.19 L845.13,521.56 L845.81,521.90 L846.50,522.22 L847.18,522.52 L847.87,522.80 L848.56,523.06 L849.24,523.31 L849.93,523.55 L850.61,523.77 L851.30,523.98 L851.98,524.18 L852.67,524.37 L853.36,524.55 L854.04,524.71 L854.73,524.87 L855.41,525.03 L856.10,525.17 L856.78,525.31 L857.47,525.44 L858.15,525.56 L858.84,525.68 L859.53,525.80 L860.21,525.90 L860.90,526.01 L861.58,526.11 L862.27,526.20 L862.95,526.29 L863.64,526.38 L864.33,526.46 L865.01,526.54 L865.70,526.62 L866.38,526.69 L867.07,526.76 L867.75,526.83 L868.44,526.89 L869.12,526.95 L869.81,527.01 L870.50,527.07 L871.18,527.13 L871.87,527.18 L872.55,527.23 L873.24,527.28 L873.92,527.33 L874.61,527.38 L875.29,527.42 L875.98,527.46 L876.67,527.51 L877.35,527.55 L878.04,527.59 L878.72,527.62 L879.41,527.66 L880.09,527.70 L880.78,527.73 L881.47,527.76 L882.15,527.79 L882.84,527.83 L883.52,527.86 L884.21,527.89 L884.89,527.91 L885.58,527.94 L886.26,527.97 L886.95,527.99 L887.64,528.02 L888.32,528.04 L889.01,528.07 L889.69,528.09 L890.38,528.11 L891.06,528.14 L891.75,528.16 L892.44,528.18 L893.12,528.20 L893.81,528.22 L894.49,528.24 L895.18,528.25 L895.86,528.27 L896.55,528.29 L897.23,528.31 L897.92,528.32 L898.61,528.34 L899.29,528.36 L899.98,528.37 L900.66,528.39 L901.35,528.40 L902.03,528.42 L902.72,528.43 L903.41,528.44 L904.09,528.46 L904.78,528.47 L905.46,528.48 L906.15,528.50 L906.83,528.51 L907.52,528.52 L908.20,528.53 L908.89,528.54 L909.58,528.56 L910.26,528.57 L910.95,528.58 L911.63,528.59 L912.32,528.60 L913.00,528.61 L913.69,528.62 L914.38,528.63 L915.06,528.64 L915.75,528.65 L916.43,528.65 L917.12,528.66 L917.80,528.67 L918.49,528.68 L919.17,528.69 L919.86,528.70 L920.55,528.71 L921.23,528.71 L921.92,528.72 L922.60,528.73 L923.29,528.74 L923.97,528.74 L924.66,528.75 L925.35,528.76 L926.03,528.76 L926.72,528.77 L927.40,528.78 L928.09,528.78 L928.77,528.79 L929.46,528.80 L930.14,528.80 L930.83,528.81 L931.52,528.81 L932.20,528.82 L932.89,528.83 L933.57,528.83 L934.26,528.84 L934.94,528.84 L935.63,528.85 L936.32,528.85 L937.00,528.86 L937.69,528.86 L938.37,528.87 L939.06,528.87 L939.74,528.88 L940.43,528.88 L941.11,528.89 L941.80,528.89 L941.80,529.3 Z" fill="#ff4a4a" fill-opacity="0.25"/>
<path d="M736.80,529.3 L736.80,529.01 L737.49,529.01 L738.17,529.01 L738.86,529.00 L739.54,529.00 L740.23,529.00 L740.91,528.99 L741.60,528.99 L742.28,528.99 L742.97,528.98 L743.66,528.98 L744.34,528.97 L745.03,528.97 L745.71,528.97 L746.40,528.96 L747.08,528.96 L747.77,528.95 L748.46,528.95 L749.14,528.95 L749.83,528.94 L750.51,528.94 L751.20,528.93 L751.88,528.93 L752.57,528.92 L753.25,528.92 L753.94,528.91 L754.63,528.91 L755.31,528.90 L756.00,528.90 L756.68,528.89 L757.37,528.89 L758.05,528.88 L758.74,528.88 L759.43,528.87 L760.11,528.86 L760.80,528.86 L761.48,528.85 L762.17,528.84 L762.85,528.84 L763.54,528.83 L764.22,528.83 L764.91,528.82 L765.60,528.81 L766.28,528.80 L766.97,528.80 L767.65,528.79 L768.34,528.78 L769.02,528.77 L769.71,528.77 L770.40,528.76 L771.08,528.75 L771.77,528.74 L772.45,528.73 L773.14,528.72 L773.82,528.71 L774.51,528.71 L775.19,528.70 L775.88,528.69 L776.57,528.68 L777.25,528.67 L777.94,528.66 L778.62,528.64 L779.31,528.63 L779.99,528.62 L780.68,528.61 L781.37,528.60 L782.05,528.59 L782.74,528.57 L783.42,528.56 L784.11,528.55 L784.79,528.53 L785.48,528.52 L786.16,528.51 L786.85,528.49 L787.54,528.48 L788.22,528.46 L788.91,528.44 L789.59,528.43 L790.28,528.41 L790.96,528.39 L791.65,528.38 L792.34,528.36 L793.02,528.34 L793.71,528.32 L794.39,528.30 L795.08,528.28 L795.76,528.26 L796.45,528.23 L797.13,528.21 L797.82,528.19 L798.51,528.16 L799.19,528.14 L799.88,528.11 L800.56,528.09 L801.25,528.06 L801.93,528.03 L802.62,528.00 L803.31,527.97 L803.99,527.94 L804.68,527.91 L805.36,527.87 L806.05,527.84 L806.73,527.80 L807.42,527.76 L808.10,527.72 L808.79,527.68 L809.48,527.64 L810.16,527.60 L810.85,527.55 L811.53,527.50 L812.22,527.46 L812.90,527.40 L813.59,527.35 L814.27,527.30 L814.96,527.24 L815.65,527.18 L816.33,527.12 L817.02,527.05 L817.70,526.98 L818.39,526.91 L819.07,526.84 L819.76,526.76 L820.45,526.68 L821.13,526.59 L821.82,526.50 L822.50,526.41 L823.19,526.31 L823.87,526.21 L824.56,526.10 L825.24,525.99 L825.93,525.87 L826.62,525.74 L827.30,525.61 L827.99,525.47 L828.67,525.33 L829.36,525.17 L830.04,525.01 L830.73,524.84 L831.42,524.66 L832.10,524.47 L832.79,524.27 L833.47,524.06 L834.16,523.83 L834.84,523.59 L835.53,523.34 L836.21,523.07 L836.90,522.79 L837.59,522.49 L838.27,522.17 L838.96,521.84 L839.64,521.48 L840.33,521.11 L841.01,520.71 L841.70,520.28 L842.39,519.84 L843.07,519.37 L843.76,518.87 L844.44,518.35 L845.13,517.80 L845.81,517.22 L846.50,516.62 L847.18,515.99 L847.87,515.34 L848.56,514.68 L849.24,513.99 L849.93,513.30 L850.61,512.60 L851.30,511.90 L851.98,511.22 L852.67,510.55 L853.36,509.92 L854.04,509.33 L854.73,508.79 L855.41,508.32 L856.10,507.93 L856.78,507.63 L857.47,507.42 L858.15,507.31 L858.84,507.31 L859.53,507.42 L860.21,507.62 L860.90,507.93 L861.58,508.32 L862.27,508.79 L862.95,509.32 L863.64,509.91 L864.33,510.55 L865.01,511.21 L865.70,511.90 L866.38,512.59 L867.07,513.29 L867.75,513.99 L868.44,514.67 L869.12,515.34 L869.81,515.99 L870.50,516.61 L871.18,517.22 L871.87,517.79 L872.55,518.34 L873.24,518.86 L873.92,519.36 L874.61,519.83 L875.29,520.28 L875.98,520.70 L876.67,521.10 L877.35,521.48 L878.04,521.84 L878.72,522.17 L879.41,522.49 L880.09,522.79 L880.78,523.07 L881.47,523.34 L882.15,523.59 L882.84,523.83 L883.52,524.06 L884.21,524.27 L884.89,524.47 L885.58,524.66 L886.26,524.84 L886.95,525.01 L887.64,525.17 L888.32,525.33 L889.01,525.47 L889.69,525.61 L890.38,525.74 L891.06,525.87 L891.75,525.99 L892.44,526.10 L893.12,526.21 L893.81,526.31 L894.49,526.41 L895.18,526.50 L895.86,526.59 L896.55,526.68 L897.23,526.76 L897.92,526.84 L898.61,526.91 L899.29,526.98 L899.98,527.05 L900.66,527.12 L901.35,527.18 L902.03,527.24 L902.72,527.30 L903.41,527.35 L904.09,527.40 L904.78,527.46 L905.46,527.50 L906.15,527.55 L906.83,527.60 L907.52,527.64 L908.20,527.68 L908.89,527.72 L909.58,527.76 L910.26,527.80 L910.95,527.84 L911.63,527.87 L912.32,527.91 L913.00,527.94 L913.69,527.97 L914.38,528.00 L915.06,528.03 L915.75,528.06 L916.43,528.09 L917.12,528.11 L917.80,528.14 L918.49,528.16 L919.17,528.19 L919.86,528.21 L920.55,528.23 L921.23,528.26 L921.92,528.28 L922.60,528.30 L923.29,528.32 L923.97,528.34 L924.66,528.36 L925.35,528.38 L926.03,528.39 L926.72,528.41 L927.40,528.43 L928.09,528.44 L928.77,528.46 L929.46,528.48 L930.14,528.49 L930.83,528.51 L931.52,528.52 L932.20,528.53 L932.89,528.55 L933.57,528.56 L934.26,528.57 L934.94,528.59 L935.63,528.60 L936.32,528.61 L937.00,528.62 L937.69,528.63 L938.37,528.64 L939.06,528.66 L939.74,528.67 L940.43,528.68 L941.11,528.69 L941.80,528.70 L941.80,529.3 Z" fill="#c000c0" fill-opacity="0.25"/>
<path d="M736.80,526.68 L737.49,526.59 L738.17,526.50 L738.86,526.41 L739.54,526.30 L740.23,526.20 L740.91,526.09 L741.60,525.97 L742.28,525.84 L742.97,525.71 L743.66,525.57 L744.34,525.42 L745.03,525.27 L745.71,525.10 L746.40,524.93 L747.08,524.74 L747.77,524.54 L748.46,524.33 L749.14,524.10 L749.83,523.86 L750.51,523.60 L751.20,523.32 L751.88,523.02 L752.57,522.70 L753.25,522.35 L753.94,521.98 L754.63,521.57 L755.31,521.14 L756.00,520.66 L756.68,520.14 L757.37,519.58 L758.05,518.97 L758.74,518.29 L759.43,517.55 L760.11,516.74 L760.80,515.84 L761.48,514.85 L762.17,513.75 L762.85,512.52 L763.54,511.15 L764.22,509.62 L764.91,507.90 L765.60,505.96 L766.28,503.76 L766.97,501.28 L767.65,498.45 L768.34,495.23 L769.02,491.54 L769.71,487.33 L770.40,482.51 L771.08,477.00 L771.77,470.74 L772.45,463.66 L773.14,455.75 L773.82,447.07 L774.51,437.82 L775.19,428.34 L775.88,419.21 L776.57,411.17 L777.25,405.09 L777.94,401.77 L778.62,401.67 L779.31,404.82 L779.99,410.75 L780.68,418.70 L781.37,427.79 L782.05,437.27 L782.74,446.54 L783.42,455.26 L784.11,463.22 L784.79,470.35 L785.48,476.66 L786.16,482.21 L786.85,487.07 L787.54,491.31 L788.22,495.02 L788.91,498.27 L789.59,501.12 L790.28,503.63 L790.96,505.83 L791.65,507.79 L792.34,509.52 L793.02,511.06 L793.71,512.44 L794.39,513.68 L795.08,514.79 L795.76,515.79 L796.45,516.69 L797.13,517.51 L797.82,518.25 L798.51,518.93 L799.19,519.55 L799.88,520.11 L800.56,520.63 L801.25,521.11 L801.93,521.55 L802.62,521.96 L803.31,522.33 L803.99,522.68 L804.68,523.00 L805.36,523.30 L806.05,523.58 L806.73,523.84 L807.42,524.09 L808.10,524.31 L808.79,524.53 L809.48,524.73 L810.16,524.92 L810.85,525.09 L811.53,525.26 L812.22,525.42 L812.90,525.56 L813.59,525.70 L814.27,525.84 L814.96,525.96 L815.65,526.08 L816.33,526.19 L817.02,526.30 L817.70,526.40 L818.39,526.50 L819.07,526.59 L819.76,526.67 L820.45,526.76 L821.13,526.84 L821.82,526.91 L822.50,526.98 L823.19,527.05 L823.87,527.12 L824.56,527.18 L825.24,527.24 L825.93,527.30 L826.62,527.36 L827.30,527.41 L827.99,527.46 L828.67,527.51 L829.36,527.56 L830.04,527.60 L830.73,527.65 L831.42,527.69 L832.10,527.73 L832.79,527.77 L833.47,527.80 L834.16,527.84 L834.84,527.87 L835.53,527.91 L836.21,527.94 L836.90,527.97 L837.59,528.00 L838.27,528.03 L838.96,528.06 L839.64,528.09 L840.33,528.11 L841.01,528.14 L841.70,528.16 L842.39,528.19 L843.07,528.21 L843.76,528.23 L844.44,528.26 L845.13,528.28 L845.81,528.30 L846.50,528.32 L847.18,528.34 L847.87,528.35 L848.56,528.37 L849.24,528.39 L849.93,528.41 L850.61,528.42 L851.30,528.44 L851.98,528.46 L852.67,528.47 L853.36,528.49 L854.04,528.50 L854.73,528.52 L855.41,528.53 L856.10,528.54 L856.78,528.56 L857.47,528.57 L858.15,528.58 L858.84,528.59 L859.53,528.61 L860.21,528.62 L860.90,528.63 L861.58,528.64 L862.27,528.65 L862.95,528.66 L863.64,528.67 L864.33,528.68 L865.01,528.69 L865.70,528.70 L866.38,528.71 L867.07,528.72 L867.75,528.73 L868.44,528.74 L869.12,528.74 L869.81,528.75 L870.50,528.76 L871.18,528.77 L871.87,528.78 L872.55,528.78 L873.24,528.79 L873.92,528.80 L874.61,528.81 L875.29,528.81 L875.98,528.82 L876.67,528.83 L877.35,528.83 L878.04,528.84 L878.72,528.84 L879.41,528.85 L880.09,528.86 L880.78,528.86 L881.47,528.87 L882.15,528.87 L882.84,528.88 L883.52,528.89 L884.21,528.89 L884.89,528.90 L885.58,528.90 L886.26,528.91 L886.95,528.91 L887.64,528.92 L888.32,528.92 L889.01,528.93 L889.69,528.93 L890.38,528.93 L891.06,528.94 L891.75,528.94 L892.44,528.95 L893.12,528.95 L893.81,528.96 L894.49,528.96 L895.18,528.96 L895.86,528.97 L896.55,528.97 L897.23,528.98 L897.92,528.98 L898.61,528.98 L899.29,528.99 L899.98,528.99 L900.66,528.99 L901.35,529.00 L902.03,529.00 L902.72,529.00 L903.41,529.01 L904.09,529.01 L904.78,529.01 L905.46,529.02 L906.15,529.02 L906.83,529.02 L907.52,529.02 L908.20,529.03 L908.89,529.03 L909.58,529.03 L910.26,529.04 L910.95,529.04 L911.63,529.04 L912.32,529.04 L913.00,529.05 L913.69,529.05 L914.38,529.05 L915.06,529.05 L915.75,529.06 L916.43,529.06 L917.12,529.06 L917.80,529.06 L918.49,529.07 L919.17,529.07 L919.86,529.07 L920.55,529.07 L921.23,529.07 L921.92,529.08 L922.60,529.08 L923.29,529.08 L923.97,529.08 L924.66,529.09 L925.35,529.09 L926.03,529.09 L926.72,529.09 L927.40,529.09 L928.09,529.09 L928.77,529.10 L929.46,529.10 L930.14,529.10 L930.83,529.10 L931.52,529.10 L932.20,529.11 L932.89,529.11 L933.57,529.11 L934.26,529.11 L934.94,529.11 L935.63,529.11 L936.32,529.12 L937.00,529.12 L937.69,529.12 L938.37,529.12 L939.06,529.12 L939.74,529.12 L940.43,529.12 L941.11,529.13 L941.80,529.13" fill="none" stroke="#3a8fcb" stroke-width="2.8"/>
<path d="M736.80,528.37 L737.49,528.35 L738.17,528.34 L738.86,528.32 L739.54,528.30 L740.23,528.29 L740.91,528.27 L741.60,528.25 L742.28,528.23 L742.97,528.21 L743.66,528.19 L744.34,528.17 L745.03,528.15 L745.71,528.13 L746.40,528.11 L747.08,528.08 L747.77,528.06 L748.46,528.04 L749.14,528.01 L749.83,527.99 L750.51,527.96 L751.20,527.93 L751.88,527.91 L752.57,527.88 L753.25,527.85 L753.94,527.82 L754.63,527.79 L755.31,527.75 L756.00,527.72 L756.68,527.69 L757.37,527.65 L758.05,527.61 L758.74,527.58 L759.43,527.54 L760.11,527.50 L760.80,527.45 L761.48,527.41 L762.17,527.36 L762.85,527.32 L763.54,527.27 L764.22,527.22 L764.91,527.17 L765.60,527.11 L766.28,527.06 L766.97,527.00 L767.65,526.94 L768.34,526.87 L769.02,526.81 L769.71,526.74 L770.40,526.67 L771.08,526.60 L771.77,526.52 L772.45,526.44 L773.14,526.36 L773.82,526.27 L774.51,526.18 L775.19,526.08 L775.88,525.98 L776.57,525.88 L777.25,525.77 L777.94,525.65 L778.62,525.53 L779.31,525.41 L779.99,525.27 L780.68,525.13 L781.37,524.99 L782.05,524.83 L782.74,524.67 L783.42,524.50 L784.11,524.32 L784.79,524.13 L785.48,523.93 L786.16,523.71 L786.85,523.49 L787.54,523.25 L788.22,523.00 L788.91,522.73 L789.59,522.44 L790.28,522.14 L790.96,521.81 L791.65,521.46 L792.34,521.09 L793.02,520.70 L793.71,520.28 L794.39,519.82 L795.08,519.34 L795.76,518.81 L796.45,518.25 L797.13,517.65 L797.82,516.99 L798.51,516.29 L799.19,515.53 L799.88,514.70 L800.56,513.81 L801.25,512.84 L801.93,511.78 L802.62,510.64 L803.31,509.39 L803.99,508.04 L804.68,506.56 L805.36,504.95 L806.05,503.21 L806.73,501.30 L807.42,499.24 L808.10,497.00 L808.79,494.59 L809.48,491.99 L810.16,489.22 L810.85,486.28 L811.53,483.20 L812.22,480.00 L812.90,476.75 L813.59,473.52 L814.27,470.38 L814.96,467.44 L815.65,464.83 L816.33,462.66 L817.02,461.04 L817.70,460.07 L818.39,459.81 L819.07,460.26 L819.76,461.40 L820.45,463.17 L821.13,465.47 L821.82,468.18 L822.50,471.17 L823.19,474.35 L823.87,477.60 L824.56,480.84 L825.24,484.01 L825.93,487.05 L826.62,489.95 L827.30,492.68 L827.99,495.23 L828.67,497.60 L829.36,499.79 L830.04,501.81 L830.73,503.67 L831.42,505.38 L832.10,506.96 L832.79,508.40 L833.47,509.73 L834.16,510.94 L834.84,512.07 L835.53,513.10 L836.21,514.05 L836.90,514.92 L837.59,515.73 L838.27,516.48 L838.96,517.17 L839.64,517.81 L840.33,518.40 L841.01,518.95 L841.70,519.47 L842.39,519.94 L843.07,520.39 L843.76,520.80 L844.44,521.19 L845.13,521.56 L845.81,521.90 L846.50,522.22 L847.18,522.52 L847.87,522.80 L848.56,523.06 L849.24,523.31 L849.93,523.55 L850.61,523.77 L851.30,523.98 L851.98,524.18 L852.67,524.37 L853.36,524.55 L854.04,524.71 L854.73,524.87 L855.41,525.03 L856.10,525.17 L856.78,525.31 L857.47,525.44 L858.15,525.56 L858.84,525.68 L859.53,525.80 L860.21,525.90 L860.90,526.01 L861.58,526.11 L862.27,526.20 L862.95,526.29 L863.64,526.38 L864.33,526.46 L865.01,526.54 L865.70,526.62 L866.38,526.69 L867.07,526.76 L867.75,526.83 L868.44,526.89 L869.12,526.95 L869.81,527.01 L870.50,527.07 L871.18,527.13 L871.87,527.18 L872.55,527.23 L873.24,527.28 L873.92,527.33 L874.61,527.38 L875.29,527.42 L875.98,527.46 L876.67,527.51 L877.35,527.55 L878.04,527.59 L878.72,527.62 L879.41,527.66 L880.09,527.70 L880.78,527.73 L881.47,527.76 L882.15,527.79 L882.84,527.83 L883.52,527.86 L884.21,527.89 L884.89,527.91 L885.58,527.94 L886.26,527.97 L886.95,527.99 L887.64,528.02 L888.32,528.04 L889.01,528.07 L889.69,528.09 L890.38,528.11 L891.06,528.14 L891.75,528.16 L892.44,528.18 L893.12,528.20 L893.81,528.22 L894.49,528.24 L895.18,528.25 L895.86,528.27 L896.55,528.29 L897.23,528.31 L897.92,528.32 L898.61,528.34 L899.29,528.36 L899.98,528.37 L900.66,528.39 L901.35,528.40 L902.03,528.42 L902.72,528.43 L903.41,528.44 L904.09,528.46 L904.78,528.47 L905.46,528.48 L906.15,528.50 L906.83,528.51 L907.52,528.52 L908.20,528.53 L908.89,528.54 L909.58,528.56 L910.26,528.57 L910.95,528.58 L911.63,528.59 L912.32,528.60 L913.00,528.61 L913.69,528.62 L914.38,528.63 L915.06,528.64 L915.75,528.65 L916.43,528.65 L917.12,528.66 L917.80,528.67 L918.49,528.68 L919.17,528.69 L919.86,528.70 L920.55,528.71 L921.23,528.71 L921.92,528.72 L922.60,528.73 L923.29,528.74 L923.97,528.74 L924.66,528.75 L925.35,528.76 L926.03,528.76 L926.72,528.77 L927.40,528.78 L928.09,528.78 L928.77,528.79 L929.46,528.80 L930.14,528.80 L930.83,528.81 L931.52,528.81 L932.20,528.82 L932.89,528.83 L933.57,528.83 L934.26,528.84 L934.94,528.84 L935.63,528.85 L936.32,528.85 L937.00,528.86 L937.69,528.86 L938.37,528.87 L939.06,528.87 L939.74,528.88 L940.43,528.88 L941.11,528.89 L941.80,528.89" fill="none" stroke="#ff4a4a" stroke-width="2.8"/>
<path d="M736.80,529.01 L737.49,529.01 L738.17,529.01 L738.86,529.00 L739.54,529.00 L740.23,529.00 L740.91,528.99 L741.60,528.99 L742.28,528.99 L742.97,528.98 L743.66,528.98 L744.34,528.97 L745.03,528.97 L745.71,528.97 L746.40,528.96 L747.08,528.96 L747.77,528.95 L748.46,528.95 L749.14,528.95 L749.83,528.94 L750.51,528.94 L751.20,528.93 L751.88,528.93 L752.57,528.92 L753.25,528.92 L753.94,528.91 L754.63,528.91 L755.31,528.90 L756.00,528.90 L756.68,528.89 L757.37,528.89 L758.05,528.88 L758.74,528.88 L759.43,528.87 L760.11,528.86 L760.80,528.86 L761.48,528.85 L762.17,528.84 L762.85,528.84 L763.54,528.83 L764.22,528.83 L764.91,528.82 L765.60,528.81 L766.28,528.80 L766.97,528.80 L767.65,528.79 L768.34,528.78 L769.02,528.77 L769.71,528.77 L770.40,528.76 L771.08,528.75 L771.77,528.74 L772.45,528.73 L773.14,528.72 L773.82,528.71 L774.51,528.71 L775.19,528.70 L775.88,528.69 L776.57,528.68 L777.25,528.67 L777.94,528.66 L778.62,528.64 L779.31,528.63 L779.99,528.62 L780.68,528.61 L781.37,528.60 L782.05,528.59 L782.74,528.57 L783.42,528.56 L784.11,528.55 L784.79,528.53 L785.48,528.52 L786.16,528.51 L786.85,528.49 L787.54,528.48 L788.22,528.46 L788.91,528.44 L789.59,528.43 L790.28,528.41 L790.96,528.39 L791.65,528.38 L792.34,528.36 L793.02,528.34 L793.71,528.32 L794.39,528.30 L795.08,528.28 L795.76,528.26 L796.45,528.23 L797.13,528.21 L797.82,528.19 L798.51,528.16 L799.19,528.14 L799.88,528.11 L800.56,528.09 L801.25,528.06 L801.93,528.03 L802.62,528.00 L803.31,527.97 L803.99,527.94 L804.68,527.91 L805.36,527.87 L806.05,527.84 L806.73,527.80 L807.42,527.76 L808.10,527.72 L808.79,527.68 L809.48,527.64 L810.16,527.60 L810.85,527.55 L811.53,527.50 L812.22,527.46 L812.90,527.40 L813.59,527.35 L814.27,527.30 L814.96,527.24 L815.65,527.18 L816.33,527.12 L817.02,527.05 L817.70,526.98 L818.39,526.91 L819.07,526.84 L819.76,526.76 L820.45,526.68 L821.13,526.59 L821.82,526.50 L822.50,526.41 L823.19,526.31 L823.87,526.21 L824.56,526.10 L825.24,525.99 L825.93,525.87 L826.62,525.74 L827.30,525.61 L827.99,525.47 L828.67,525.33 L829.36,525.17 L830.04,525.01 L830.73,524.84 L831.42,524.66 L832.10,524.47 L832.79,524.27 L833.47,524.06 L834.16,523.83 L834.84,523.59 L835.53,523.34 L836.21,523.07 L836.90,522.79 L837.59,522.49 L838.27,522.17 L838.96,521.84 L839.64,521.48 L840.33,521.11 L841.01,520.71 L841.70,520.28 L842.39,519.84 L843.07,519.37 L843.76,518.87 L844.44,518.35 L845.13,517.80 L845.81,517.22 L846.50,516.62 L847.18,515.99 L847.87,515.34 L848.56,514.68 L849.24,513.99 L849.93,513.30 L850.61,512.60 L851.30,511.90 L851.98,511.22 L852.67,510.55 L853.36,509.92 L854.04,509.33 L854.73,508.79 L855.41,508.32 L856.10,507.93 L856.78,507.63 L857.47,507.42 L858.15,507.31 L858.84,507.31 L859.53,507.42 L860.21,507.62 L860.90,507.93 L861.58,508.32 L862.27,508.79 L862.95,509.32 L863.64,509.91 L864.33,510.55 L865.01,511.21 L865.70,511.90 L866.38,512.59 L867.07,513.29 L867.75,513.99 L868.44,514.67 L869.12,515.34 L869.81,515.99 L870.50,516.61 L871.18,517.22 L871.87,517.79 L872.55,518.34 L873.24,518.86 L873.92,519.36 L874.61,519.83 L875.29,520.28 L875.98,520.70 L876.67,521.10 L877.35,521.48 L878.04,521.84 L878.72,522.17 L879.41,522.49 L880.09,522.79 L880.78,523.07 L881.47,523.34 L882.15,523.59 L882.84,523.83 L883.52,524.06 L884.21,524.27 L884.89,524.47 L885.58,524.66 L886.26,524.84 L886.95,525.01 L887.64,525.17 L888.32,525.33 L889.01,525.47 L889.69,525.61 L890.38,525.74 L891.06,525.87 L891.75,525.99 L892.44,526.10 L893.12,526.21 L893.81,526.31 L894.49,526.41 L895.18,526.50 L895.86,526.59 L896.55,526.68 L897.23,526.76 L897.92,526.84 L898.61,526.91 L899.29,526.98 L899.98,527.05 L900.66,527.12 L901.35,527.18 L902.03,527.24 L902.72,527.30 L903.41,527.35 L904.09,527.40 L904.78,527.46 L905.46,527.50 L906.15,527.55 L906.83,527.60 L907.52,527.64 L908.20,527.68 L908.89,527.72 L909.58,527.76 L910.26,527.80 L910.95,527.84 L911.63,527.87 L912.32,527.91 L913.00,527.94 L913.69,527.97 L914.38,528.00 L915.06,528.03 L915.75,528.06 L916.43,528.09 L917.12,528.11 L917.80,528.14 L918.49,528.16 L919.17,528.19 L919.86,528.21 L920.55,528.23 L921.23,528.26 L921.92,528.28 L922.60,528.30 L923.29,528.32 L923.97,528.34 L924.66,528.36 L925.35,528.38 L926.03,528.39 L926.72,528.41 L927.40,528.43 L928.09,528.44 L928.77,528.46 L929.46,528.48 L930.14,528.49 L930.83,528.51 L931.52,528.52 L932.20,528.53 L932.89,528.55 L933.57,528.56 L934.26,528.57 L934.94,528.59 L935.63,528.60 L936.32,528.61 L937.00,528.62 L937.69,528.63 L938.37,528.64 L939.06,528.66 L939.74,528.67 L940.43,528.68 L941.11,528.69 L941.80,528.70" fill="none" stroke="#c000c0" stroke-width="2.8"/>
<path d="M736.80,525.42 L737.49,525.31 L738.17,525.20 L738.86,525.08 L739.54,524.96 L740.23,524.83 L740.91,524.70 L741.60,524.56 L742.28,524.41 L742.97,524.26 L743.66,524.09 L744.34,523.92 L745.03,523.74 L745.71,523.55 L746.40,523.35 L747.08,523.13 L747.77,522.91 L748.46,522.66 L749.14,522.41 L749.83,522.13 L750.51,521.84 L751.20,521.53 L751.88,521.20 L752.57,520.85 L753.25,520.46 L753.94,520.05 L754.63,519.61 L755.31,519.14 L756.00,518.62 L756.68,518.07 L757.37,517.46 L758.05,516.80 L758.74,516.08 L759.43,515.30 L760.11,514.44 L760.80,513.49 L761.48,512.45 L762.17,511.29 L762.85,510.01 L763.54,508.59 L764.22,507.00 L764.91,505.22 L765.60,503.22 L766.28,500.96 L766.97,498.41 L767.65,495.51 L768.34,492.22 L769.02,488.46 L769.71,484.17 L770.40,479.27 L771.08,473.68 L771.77,467.33 L772.45,460.16 L773.14,452.15 L773.82,443.38 L774.51,434.03 L775.19,424.45 L775.88,415.20 L776.57,407.04 L777.25,400.85 L777.94,397.40 L778.62,397.17 L779.31,400.18 L779.99,405.96 L780.68,413.76 L781.37,422.70 L782.05,432.00 L782.74,441.11 L783.42,449.64 L784.11,457.40 L784.79,464.32 L785.48,470.42 L786.16,475.74 L786.85,480.36 L787.54,484.35 L788.22,487.79 L788.91,490.75 L789.59,493.30 L790.28,495.48 L790.96,497.34 L791.65,498.93 L792.34,500.28 L793.02,501.40 L793.71,502.34 L794.39,503.10 L795.08,503.70 L795.76,504.15 L796.45,504.47 L797.13,504.66 L797.82,504.72 L798.51,504.67 L799.19,504.50 L799.88,504.21 L800.56,503.81 L801.25,503.29 L801.93,502.65 L802.62,501.88 L803.31,500.98 L803.99,499.93 L804.68,498.75 L805.36,497.40 L806.05,495.90 L806.73,494.22 L807.42,492.36 L808.10,490.31 L808.79,488.06 L809.48,485.62 L810.16,482.99 L810.85,480.18 L811.53,477.22 L812.22,474.13 L812.90,470.98 L813.59,467.82 L814.27,464.76 L814.96,461.89 L815.65,459.33 L816.33,457.21 L817.02,455.63 L817.70,454.69 L818.39,454.45 L819.07,454.91 L819.76,456.06 L820.45,457.83 L821.13,460.12 L821.82,462.81 L822.50,465.78 L823.19,468.93 L823.87,472.14 L824.56,475.33 L825.24,478.44 L825.93,481.42 L826.62,484.25 L827.30,486.89 L827.99,489.35 L828.67,491.62 L829.36,493.70 L830.04,495.60 L830.73,497.33 L831.42,498.90 L832.10,500.32 L832.79,501.60 L833.47,502.74 L834.16,503.77 L834.84,504.68 L835.53,505.49 L836.21,506.20 L836.90,506.82 L837.59,507.35 L838.27,507.80 L838.96,508.18 L839.64,508.49 L840.33,508.72 L841.01,508.89 L841.70,509.00 L842.39,509.05 L843.07,509.04 L843.76,508.97 L844.44,508.85 L845.13,508.68 L845.81,508.46 L846.50,508.19 L847.18,507.87 L847.87,507.52 L848.56,507.12 L849.24,506.70 L849.93,506.25 L850.61,505.77 L851.30,505.29 L851.98,504.81 L852.67,504.34 L853.36,503.88 L854.04,503.46 L854.73,503.09 L855.41,502.77 L856.10,502.52 L856.78,502.35 L857.47,502.28 L858.15,502.29 L858.84,502.41 L859.53,502.62 L860.21,502.92 L860.90,503.32 L861.58,503.80 L862.27,504.36 L862.95,504.97 L863.64,505.64 L864.33,506.34 L865.01,507.07 L865.70,507.81 L866.38,508.56 L867.07,509.31 L867.75,510.05 L868.44,510.78 L869.12,511.48 L869.81,512.16 L870.50,512.82 L871.18,513.44 L871.87,514.04 L872.55,514.60 L873.24,515.13 L873.92,515.64 L874.61,516.11 L875.29,516.55 L875.98,516.96 L876.67,517.35 L877.35,517.71 L878.04,518.04 L878.72,518.34 L879.41,518.62 L880.09,518.88 L880.78,519.11 L881.47,519.32 L882.15,519.50 L882.84,519.67 L883.52,519.81 L884.21,519.94 L884.89,520.04 L885.58,520.13 L886.26,520.19 L886.95,520.24 L887.64,520.26 L888.32,520.28 L889.01,520.27 L889.69,520.25 L890.38,520.21 L891.06,520.16 L891.75,520.10 L892.44,520.03 L893.12,519.95 L893.81,519.87 L894.49,519.80 L895.18,519.72 L895.86,519.65 L896.55,519.60 L897.23,519.56 L897.92,519.55 L898.61,519.56 L899.29,519.59 L899.98,519.66 L900.66,519.75 L901.35,519.87 L902.03,520.03 L902.72,520.20 L903.41,520.40 L904.09,520.62 L904.78,520.86 L905.46,521.10 L906.15,521.35 L906.83,521.61 L907.52,521.86 L908.20,522.12 L908.89,522.37 L909.58,522.61 L910.26,522.84 L910.95,523.07 L911.63,523.28 L912.32,523.49 L913.00,523.68 L913.69,523.87 L914.38,524.04 L915.06,524.21 L915.75,524.36 L916.43,524.50 L917.12,524.64 L917.80,524.77 L918.49,524.88 L919.17,524.99 L919.86,525.09 L920.55,525.19 L921.23,525.27 L921.92,525.35 L922.60,525.43 L923.29,525.49 L923.97,525.55 L924.66,525.61 L925.35,525.65 L926.03,525.70 L926.72,525.74 L927.40,525.77 L928.09,525.80 L928.77,525.82 L929.46,525.85 L930.14,525.86 L930.83,525.88 L931.52,525.90 L932.20,525.91 L932.89,525.92 L933.57,525.94 L934.26,525.95 L934.94,525.97 L935.63,525.99 L936.32,526.02 L937.00,526.04 L937.69,526.08 L938.37,526.12 L939.06,526.16 L939.74,526.21 L940.43,526.26 L941.11,526.31 L941.80,526.37" fill="none" stroke="#000" stroke-width="3.3" stroke-linejoin="round"/>
<path d="M736.8,537.1 V400 M735.7,536 H950" stroke="#000" stroke-width="2.2" fill="none"/>
<path d="M736.80,386.30 L731.20,406.00 L736.80,401.07 L742.40,406.00 Z" fill="#000"/>
<path d="M964.50,536.00 L945.60,530.80 L949.38,536.00 L945.60,541.20 Z" fill="#000"/>
<g clip-path="url(#clipb)"><path d="M129.60,1019.7492 L129.60,1018.17 L130.12,1018.14 L130.64,1018.11 L131.16,1018.07 L131.69,1018.04 L132.21,1018.00 L132.73,1017.97 L133.25,1017.93 L133.77,1017.89 L134.29,1017.85 L134.82,1017.82 L135.34,1017.78 L135.86,1017.74 L136.38,1017.70 L136.90,1017.65 L137.42,1017.61 L137.95,1017.57 L138.47,1017.52 L138.99,1017.48 L139.51,1017.43 L140.03,1017.39 L140.55,1017.34 L141.08,1017.29 L141.60,1017.24 L142.12,1017.19 L142.64,1017.14 L143.16,1017.09 L143.68,1017.04 L144.20,1016.98 L144.73,1016.93 L145.25,1016.87 L145.77,1016.81 L146.29,1016.75 L146.81,1016.69 L147.33,1016.63 L147.86,1016.57 L148.38,1016.51 L148.90,1016.44 L149.42,1016.37 L149.94,1016.31 L150.46,1016.24 L150.99,1016.16 L151.51,1016.09 L152.03,1016.02 L152.55,1015.94 L153.07,1015.86 L153.59,1015.78 L154.12,1015.70 L154.64,1015.62 L155.16,1015.53 L155.68,1015.45 L156.20,1015.36 L156.72,1015.27 L157.24,1015.17 L157.77,1015.08 L158.29,1014.98 L158.81,1014.88 L159.33,1014.77 L159.85,1014.67 L160.37,1014.56 L160.90,1014.45 L161.42,1014.33 L161.94,1014.22 L162.46,1014.10 L162.98,1013.97 L163.50,1013.85 L164.03,1013.72 L164.55,1013.58 L165.07,1013.45 L165.59,1013.31 L166.11,1013.16 L166.63,1013.01 L167.16,1012.86 L167.68,1012.70 L168.20,1012.54 L168.72,1012.37 L169.24,1012.20 L169.76,1012.03 L170.28,1011.84 L170.81,1011.66 L171.33,1011.46 L171.85,1011.26 L172.37,1011.06 L172.89,1010.85 L173.41,1010.63 L173.94,1010.40 L174.46,1010.17 L174.98,1009.93 L175.50,1009.68 L176.02,1009.43 L176.54,1009.16 L177.07,1008.89 L177.59,1008.60 L178.11,1008.31 L178.63,1008.01 L179.15,1007.69 L179.67,1007.37 L180.20,1007.03 L180.72,1006.68 L181.24,1006.32 L181.76,1005.94 L182.28,1005.55 L182.80,1005.14 L183.33,1004.72 L183.85,1004.28 L184.37,1003.83 L184.89,1003.35 L185.41,1002.86 L185.93,1002.35 L186.45,1001.81 L186.98,1001.25 L187.50,1000.67 L188.02,1000.06 L188.54,999.43 L189.06,998.76 L189.58,998.07 L190.11,997.34 L190.63,996.58 L191.15,995.79 L191.67,994.96 L192.19,994.08 L192.71,993.17 L193.24,992.21 L193.76,991.19 L194.28,990.13 L194.80,989.01 L195.32,987.84 L195.84,986.60 L196.37,985.29 L196.89,983.91 L197.41,982.45 L197.93,980.91 L198.45,979.28 L198.97,977.56 L199.49,975.74 L200.02,973.80 L200.54,971.75 L201.06,969.57 L201.58,967.25 L202.10,964.79 L202.62,962.16 L203.15,959.37 L203.67,956.39 L204.19,953.22 L204.71,949.83 L205.23,946.21 L205.75,942.34 L206.28,938.20 L206.80,933.78 L207.32,929.05 L207.84,923.99 L208.36,918.57 L208.88,912.78 L209.41,906.59 L209.93,899.98 L210.45,892.93 L210.97,885.42 L211.49,877.44 L212.01,868.98 L212.53,860.05 L213.06,850.66 L213.58,840.84 L214.10,830.63 L214.62,820.11 L215.14,809.37 L215.66,798.53 L216.19,787.76 L216.71,777.22 L217.23,767.15 L217.75,757.77 L218.27,749.34 L218.79,742.11 L219.32,736.31 L219.84,732.16 L220.36,729.80 L220.88,729.32 L221.40,730.75 L221.92,734.02 L222.45,739.02 L222.97,745.56 L223.49,753.42 L224.01,762.36 L224.53,772.11 L225.05,782.45 L225.57,793.13 L226.10,803.96 L226.62,814.76 L227.14,825.41 L227.66,835.78 L228.18,845.80 L228.70,855.41 L229.23,864.58 L229.75,873.27 L230.27,881.49 L230.79,889.23 L231.31,896.51 L231.83,903.34 L232.36,909.74 L232.88,915.73 L233.40,921.33 L233.92,926.56 L234.44,931.46 L234.96,936.03 L235.49,940.31 L236.01,944.31 L236.53,948.05 L237.05,951.55 L237.57,954.83 L238.09,957.91 L238.61,960.79 L239.14,963.50 L239.66,966.04 L240.18,968.43 L240.70,970.67 L241.22,972.79 L241.74,974.78 L242.27,976.66 L242.79,978.44 L243.31,980.11 L243.83,981.69 L244.35,983.19 L244.87,984.61 L245.40,985.95 L245.92,987.22 L246.44,988.43 L246.96,989.58 L247.48,990.67 L248.00,991.71 L248.53,992.69 L249.05,993.63 L249.57,994.53 L250.09,995.38 L250.61,996.19 L251.13,996.97 L251.65,997.71 L252.18,998.42 L252.70,999.10 L253.22,999.75 L253.74,1000.37 L254.26,1000.96 L254.78,1001.53 L255.31,1002.08 L255.83,1002.61 L256.35,1003.11 L256.87,1003.59 L257.39,1004.06 L257.91,1004.51 L258.44,1004.94 L258.96,1005.35 L259.48,1005.75 L260.00,1006.13 L260.52,1006.50 L261.04,1006.86 L261.57,1007.20 L262.09,1007.53 L262.61,1007.85 L263.13,1008.16 L263.65,1008.46 L264.17,1008.75 L264.69,1009.03 L265.22,1009.30 L265.74,1009.56 L266.26,1009.81 L266.78,1010.05 L267.30,1010.29 L267.82,1010.52 L268.35,1010.74 L268.87,1010.95 L269.39,1011.16 L269.91,1011.36 L270.43,1011.56 L270.95,1011.75 L271.48,1011.94 L272.00,1012.11 L272.52,1012.29 L273.04,1012.46 L273.56,1012.62 L274.08,1012.78 L274.61,1012.94 L275.13,1013.09 L275.65,1013.23 L276.17,1013.38 L276.69,1013.52 L277.21,1013.65 L277.74,1013.78 L278.26,1013.91 L278.78,1014.04 L279.30,1014.16 L279.82,1014.28 L280.34,1014.39 L280.86,1014.50 L281.39,1014.61 L281.91,1014.72 L282.43,1014.83 L282.95,1014.93 L283.47,1015.03 L283.99,1015.12 L284.52,1015.22 L285.04,1015.31 L285.56,1015.40 L286.08,1015.49 L286.60,1015.58 L287.12,1015.66 L287.65,1015.74 L288.17,1015.82 L288.69,1015.90 L289.21,1015.98 L289.73,1016.05 L290.25,1016.13 L290.78,1016.20 L291.30,1016.27 L291.82,1016.34 L292.34,1016.41 L292.86,1016.47 L293.38,1016.54 L293.90,1016.60 L294.43,1016.66 L294.95,1016.72 L295.47,1016.78 L295.99,1016.84 L296.51,1016.90 L297.03,1016.95 L297.56,1017.01 L298.08,1017.06 L298.60,1017.12 L299.12,1017.17 L299.64,1017.22 L300.16,1017.27 L300.69,1017.32 L301.21,1017.36 L301.73,1017.41 L302.25,1017.46 L302.77,1017.50 L303.29,1017.55 L303.82,1017.59 L304.34,1017.63 L304.86,1017.68 L305.38,1017.72 L305.90,1017.76 L306.42,1017.80 L306.94,1017.84 L307.47,1017.87 L307.99,1017.91 L308.51,1017.95 L309.03,1017.98 L309.55,1018.02 L310.07,1018.06 L310.60,1018.09 L311.12,1018.12 L311.64,1018.16 L312.16,1018.19 L312.68,1018.22 L313.20,1018.25 L313.73,1018.28 L314.25,1018.32 L314.77,1018.35 L315.29,1018.37 L315.81,1018.40 L316.33,1018.43 L316.86,1018.46 L317.38,1018.49 L317.90,1018.52 L318.42,1018.54 L318.94,1018.57 L319.46,1018.60 L319.98,1018.62 L320.51,1018.65 L321.03,1018.67 L321.55,1018.70 L322.07,1018.72 L322.59,1018.74 L323.11,1018.77 L323.64,1018.79 L324.16,1018.81 L324.68,1018.83 L325.20,1018.86 L325.72,1018.88 L326.24,1018.90 L326.77,1018.92 L327.29,1018.94 L327.81,1018.96 L328.33,1018.98 L328.85,1019.00 L329.37,1019.02 L329.90,1019.04 L330.42,1019.06 L330.94,1019.08 L331.46,1019.10 L331.98,1019.12 L332.50,1019.13 L333.02,1019.15 L333.55,1019.17 L334.07,1019.19 L334.59,1019.20 L335.11,1019.22 L335.63,1019.24 L336.15,1019.25 L336.68,1019.27 L337.20,1019.29 L337.72,1019.30 L338.24,1019.32 L338.76,1019.33 L339.28,1019.35 L339.81,1019.36 L340.33,1019.38 L340.85,1019.39 L341.37,1019.41 L341.89,1019.42 L342.41,1019.43 L342.94,1019.45 L343.46,1019.46 L343.98,1019.47 L344.50,1019.49 L345.02,1019.50 L345.54,1019.51 L346.06,1019.53 L346.59,1019.54 L347.11,1019.55 L347.63,1019.56 L348.15,1019.58 L348.67,1019.59 L349.19,1019.60 L349.72,1019.61 L350.24,1019.62 L350.76,1019.63 L351.28,1019.65 L351.80,1019.66 L352.32,1019.67 L352.85,1019.68 L353.37,1019.69 L353.89,1019.70 L354.41,1019.71 L354.93,1019.72 L355.45,1019.73 L355.98,1019.74 L356.50,1019.75 L357.02,1019.76 L357.54,1019.77 L358.06,1019.78 L358.58,1019.79 L359.11,1019.80 L359.63,1019.81 L360.15,1019.82 L360.67,1019.83 L361.19,1019.84 L361.71,1019.85 L362.23,1019.86 L362.76,1019.87 L363.28,1019.87 L363.80,1019.88 L364.32,1019.89 L364.84,1019.90 L365.36,1019.91 L365.89,1019.92 L366.41,1019.92 L366.93,1019.93 L367.45,1019.94 L367.97,1019.95 L368.49,1019.96 L369.02,1019.96 L369.54,1019.97 L370.06,1019.98 L370.58,1019.99 L371.10,1019.99 L371.62,1020.00 L372.15,1020.01 L372.67,1020.02 L373.19,1020.02 L373.71,1020.03 L374.23,1020.04 L374.75,1020.04 L375.27,1020.05 L375.80,1020.06 L376.32,1020.06 L376.84,1020.07 L377.36,1020.08 L377.88,1020.08 L378.40,1020.09 L378.93,1020.10 L379.45,1020.10 L379.97,1020.11 L380.49,1020.12 L381.01,1020.12 L381.53,1020.13 L382.06,1020.13 L382.58,1020.14 L383.10,1020.15 L383.62,1020.15 L384.14,1020.16 L384.66,1020.16 L385.19,1020.17 L385.71,1020.17 L386.23,1020.18 L386.75,1020.19 L387.27,1020.19 L387.79,1020.20 L388.31,1020.20 L388.84,1020.21 L389.36,1020.21 L389.88,1020.22 L390.40,1020.22 L390.92,1020.23 L391.44,1020.23 L391.97,1020.24 L392.49,1020.24 L393.01,1020.25 L393.53,1020.25 L394.05,1020.26 L394.57,1020.26 L395.10,1020.27 L395.62,1020.27 L396.14,1020.28 L396.66,1020.28 L397.18,1020.29 L397.70,1020.29 L398.23,1020.29 L398.75,1020.30 L399.27,1020.30 L399.79,1020.31 L400.31,1020.31 L400.83,1020.32 L401.35,1020.32 L401.88,1020.33 L402.40,1020.33 L402.92,1020.33 L403.44,1020.34 L403.96,1020.34 L404.48,1020.35 L405.01,1020.35 L405.53,1020.35 L406.05,1020.36 L406.57,1020.36 L407.09,1020.37 L407.61,1020.37 L408.14,1020.37 L408.66,1020.38 L409.18,1020.38 L409.70,1020.38 L410.22,1020.39 L410.74,1020.39 L411.27,1020.40 L411.79,1020.40 L412.31,1020.40 L412.83,1020.41 L413.35,1020.41 L413.87,1020.41 L414.39,1020.42 L414.92,1020.42 L415.44,1020.42 L415.96,1020.43 L416.48,1020.43 L417.00,1020.43 L417.52,1020.44 L418.05,1020.44 L418.57,1020.44 L419.09,1020.45 L419.61,1020.45 L420.13,1020.45 L420.65,1020.46 L421.18,1020.46 L421.70,1020.46 L422.22,1020.47 L422.74,1020.47 L423.26,1020.47 L423.78,1020.48 L424.31,1020.48 L424.83,1020.48 L425.35,1020.48 L425.87,1020.49 L426.39,1020.49 L426.91,1020.49 L427.43,1020.50 L427.96,1020.50 L428.48,1020.50 L429.00,1020.50 L429.52,1020.51 L430.04,1020.51 L430.56,1020.51 L431.09,1020.52 L431.61,1020.52 L432.13,1020.52 L432.65,1020.52 L433.17,1020.53 L433.69,1020.53 L434.22,1020.53 L434.74,1020.53 L435.26,1020.54 L435.78,1020.54 L436.30,1020.54 L436.82,1020.54 L437.35,1020.55 L437.87,1020.55 L438.39,1020.55 L438.91,1020.55 L439.43,1020.56 L439.95,1020.56 L440.47,1020.56 L441.00,1020.56 L441.52,1020.57 L442.04,1020.57 L442.56,1020.57 L443.08,1020.57 L443.60,1020.57 L444.13,1020.58 L444.65,1020.58 L445.17,1020.58 L445.69,1020.58 L446.21,1020.59 L446.73,1020.59 L447.26,1020.59 L447.78,1020.59 L448.30,1020.59 L448.82,1020.60 L449.34,1020.60 L449.86,1020.60 L450.39,1020.60 L450.91,1020.61 L451.43,1020.61 L451.95,1020.61 L452.47,1020.61 L452.99,1020.61 L453.52,1020.62 L454.04,1020.62 L454.56,1020.62 L455.08,1020.62 L455.60,1020.62 L456.12,1020.63 L456.64,1020.63 L457.17,1020.63 L457.69,1020.63 L458.21,1020.63 L458.73,1020.63 L459.25,1020.64 L459.77,1020.64 L460.30,1020.64 L460.82,1020.64 L461.34,1020.64 L461.86,1020.65 L462.38,1020.65 L462.90,1020.65 L463.43,1020.65 L463.95,1020.65 L464.47,1020.65 L464.99,1020.66 L465.51,1020.66 L466.03,1020.66 L466.56,1020.66 L467.08,1020.66 L467.60,1020.66 L468.12,1020.67 L468.64,1020.67 L469.16,1020.67 L469.68,1020.67 L470.21,1020.67 L470.73,1020.67 L471.25,1020.68 L471.77,1020.68 L472.29,1020.68 L472.81,1020.68 L473.34,1020.68 L473.86,1020.68 L474.38,1020.69 L474.90,1020.69 L475.42,1020.69 L475.94,1020.69 L476.47,1020.69 L476.99,1020.69 L477.51,1020.70 L478.03,1020.70 L478.55,1020.70 L479.07,1020.70 L479.60,1020.70 L480.12,1020.70 L480.64,1020.70 L481.16,1020.71 L481.68,1020.71 L482.20,1020.71 L482.72,1020.71 L483.25,1020.71 L483.77,1020.71 L484.29,1020.71 L484.81,1020.72 L485.33,1020.72 L485.85,1020.72 L486.38,1020.72 L486.90,1020.72 L487.42,1020.72 L487.94,1020.72 L488.46,1020.72 L488.98,1020.73 L489.51,1020.73 L490.03,1020.73 L490.55,1020.73 L491.07,1020.73 L491.59,1020.73 L492.11,1020.73 L492.64,1020.73 L493.16,1020.74 L493.68,1020.74 L494.20,1020.74 L494.20,1019.7492 Z" fill="#3a8fcb" fill-opacity="0.25"/><circle cx="129.61" cy="1018.70" r="7" fill="#3ecf50"/><circle cx="131.88" cy="1019.57" r="7" fill="#3ecf50"/><circle cx="134.53" cy="1019.74" r="7" fill="#3ecf50"/><circle cx="136.37" cy="1018.76" r="7" fill="#3ecf50"/><circle cx="138.63" cy="1018.46" r="7" fill="#3ecf50"/><circle cx="141.04" cy="1019.71" r="7" fill="#3ecf50"/><circle cx="143.87" cy="1018.11" r="7" fill="#3ecf50"/><circle cx="146.29" cy="1017.65" r="7" fill="#3ecf50"/><circle cx="147.68" cy="1017.57" r="7" fill="#3ecf50"/><circle cx="149.96" cy="1018.64" r="7" fill="#3ecf50"/><circle cx="151.79" cy="1016.78" r="7" fill="#3ecf50"/><circle cx="154.42" cy="1015.73" r="7" fill="#3ecf50"/><circle cx="157.59" cy="1015.94" r="7" fill="#3ecf50"/><circle cx="159.16" cy="1014.66" r="7" fill="#3ecf50"/><circle cx="160.88" cy="1013.56" r="7" fill="#3ecf50"/><circle cx="164.60" cy="1014.58" r="7" fill="#3ecf50"/><circle cx="166.76" cy="1012.18" r="7" fill="#3ecf50"/><circle cx="168.43" cy="1011.08" r="7" fill="#3ecf50"/><circle cx="170.09" cy="1010.50" r="7" fill="#3ecf50"/><circle cx="173.33" cy="1008.70" r="7" fill="#3ecf50"/><circle cx="175.14" cy="1008.88" r="7" fill="#3ecf50"/><circle cx="177.13" cy="1004.94" r="7" fill="#3ecf50"/><circle cx="179.62" cy="1006.09" r="7" fill="#3ecf50"/><circle cx="181.91" cy="1002.70" r="7" fill="#3ecf50"/><circle cx="184.84" cy="999.16" r="7" fill="#3ecf50"/><circle cx="186.84" cy="997.46" r="7" fill="#3ecf50"/><circle cx="189.09" cy="995.94" r="7" fill="#3ecf50"/><circle cx="190.79" cy="989.36" r="7" fill="#3ecf50"/><circle cx="193.30" cy="986.66" r="7" fill="#3ecf50"/><circle cx="195.93" cy="977.10" r="7" fill="#3ecf50"/><circle cx="197.96" cy="971.47" r="7" fill="#3ecf50"/><circle cx="200.22" cy="965.08" r="7" fill="#3ecf50"/><circle cx="202.40" cy="948.47" r="7" fill="#3ecf50"/><circle cx="204.94" cy="939.81" r="7" fill="#3ecf50"/><circle cx="207.25" cy="921.81" r="7" fill="#3ecf50"/><circle cx="209.41" cy="887.25" r="7" fill="#3ecf50"/><circle cx="211.53" cy="860.56" r="7" fill="#3ecf50"/><circle cx="214.12" cy="813.99" r="7" fill="#3ecf50"/><circle cx="216.20" cy="778.15" r="7" fill="#3ecf50"/><circle cx="219.11" cy="749.10" r="7" fill="#3ecf50"/><circle cx="220.98" cy="737.01" r="7" fill="#3ecf50"/><circle cx="223.31" cy="745.67" r="7" fill="#3ecf50"/><circle cx="225.66" cy="780.90" r="7" fill="#3ecf50"/><circle cx="227.45" cy="832.19" r="7" fill="#3ecf50"/><circle cx="229.47" cy="868.71" r="7" fill="#3ecf50"/><circle cx="231.66" cy="902.76" r="7" fill="#3ecf50"/><circle cx="234.16" cy="926.77" r="7" fill="#3ecf50"/><circle cx="236.29" cy="945.50" r="7" fill="#3ecf50"/><circle cx="238.88" cy="960.85" r="7" fill="#3ecf50"/><circle cx="240.70" cy="970.71" r="7" fill="#3ecf50"/><circle cx="243.47" cy="980.21" r="7" fill="#3ecf50"/><circle cx="246.44" cy="982.64" r="7" fill="#3ecf50"/><circle cx="248.53" cy="990.31" r="7" fill="#3ecf50"/><circle cx="250.52" cy="993.78" r="7" fill="#3ecf50"/><circle cx="252.83" cy="996.76" r="7" fill="#3ecf50"/><circle cx="255.14" cy="999.62" r="7" fill="#3ecf50"/><circle cx="256.91" cy="1003.92" r="7" fill="#3ecf50"/><circle cx="259.84" cy="1004.40" r="7" fill="#3ecf50"/><circle cx="262.12" cy="1007.10" r="7" fill="#3ecf50"/><circle cx="264.29" cy="1007.71" r="7" fill="#3ecf50"/><circle cx="266.43" cy="1009.20" r="7" fill="#3ecf50"/><circle cx="267.93" cy="1008.90" r="7" fill="#3ecf50"/><circle cx="270.79" cy="1011.94" r="7" fill="#3ecf50"/><circle cx="272.89" cy="1010.72" r="7" fill="#3ecf50"/><circle cx="274.69" cy="1011.78" r="7" fill="#3ecf50"/><circle cx="277.95" cy="1011.82" r="7" fill="#3ecf50"/><circle cx="279.38" cy="1012.90" r="7" fill="#3ecf50"/><circle cx="281.79" cy="1013.68" r="7" fill="#3ecf50"/><circle cx="284.66" cy="1014.91" r="7" fill="#3ecf50"/><circle cx="286.77" cy="1014.53" r="7" fill="#3ecf50"/><circle cx="289.33" cy="1016.59" r="7" fill="#3ecf50"/><circle cx="291.18" cy="1016.07" r="7" fill="#3ecf50"/><circle cx="293.60" cy="1016.71" r="7" fill="#3ecf50"/><circle cx="296.58" cy="1015.94" r="7" fill="#3ecf50"/><circle cx="297.85" cy="1016.97" r="7" fill="#3ecf50"/><circle cx="300.24" cy="1016.88" r="7" fill="#3ecf50"/><circle cx="302.74" cy="1017.17" r="7" fill="#3ecf50"/><circle cx="305.10" cy="1017.76" r="7" fill="#3ecf50"/><circle cx="307.76" cy="1017.13" r="7" fill="#3ecf50"/><circle cx="309.72" cy="1018.13" r="7" fill="#3ecf50"/><circle cx="312.36" cy="1018.22" r="7" fill="#3ecf50"/><circle cx="313.75" cy="1018.00" r="7" fill="#3ecf50"/><circle cx="316.42" cy="1017.14" r="7" fill="#3ecf50"/><circle cx="318.65" cy="1019.59" r="7" fill="#3ecf50"/><circle cx="321.04" cy="1018.60" r="7" fill="#3ecf50"/><circle cx="322.93" cy="1017.76" r="7" fill="#3ecf50"/><circle cx="326.03" cy="1018.66" r="7" fill="#3ecf50"/><circle cx="327.99" cy="1018.19" r="7" fill="#3ecf50"/><circle cx="329.94" cy="1017.60" r="7" fill="#3ecf50"/><circle cx="332.64" cy="1018.73" r="7" fill="#3ecf50"/><circle cx="334.87" cy="1018.98" r="7" fill="#3ecf50"/><circle cx="337.31" cy="1019.73" r="7" fill="#3ecf50"/><circle cx="338.40" cy="1019.72" r="7" fill="#3ecf50"/><circle cx="340.75" cy="1018.51" r="7" fill="#3ecf50"/><circle cx="344.08" cy="1020.90" r="7" fill="#3ecf50"/><circle cx="345.68" cy="1019.45" r="7" fill="#3ecf50"/><circle cx="348.54" cy="1020.59" r="7" fill="#3ecf50"/><circle cx="350.29" cy="1019.48" r="7" fill="#3ecf50"/><circle cx="353.59" cy="1019.89" r="7" fill="#3ecf50"/><circle cx="354.98" cy="1019.53" r="7" fill="#3ecf50"/><circle cx="356.90" cy="1019.38" r="7" fill="#3ecf50"/><circle cx="359.70" cy="1019.44" r="7" fill="#3ecf50"/><circle cx="361.58" cy="1019.76" r="7" fill="#3ecf50"/><circle cx="363.87" cy="1021.13" r="7" fill="#3ecf50"/><circle cx="366.27" cy="1018.64" r="7" fill="#3ecf50"/><circle cx="368.65" cy="1020.30" r="7" fill="#3ecf50"/><circle cx="371.38" cy="1020.56" r="7" fill="#3ecf50"/><circle cx="373.00" cy="1019.77" r="7" fill="#3ecf50"/><circle cx="375.11" cy="1019.45" r="7" fill="#3ecf50"/><circle cx="377.90" cy="1018.95" r="7" fill="#3ecf50"/><circle cx="380.01" cy="1020.25" r="7" fill="#3ecf50"/><circle cx="382.02" cy="1021.23" r="7" fill="#3ecf50"/><circle cx="384.78" cy="1019.79" r="7" fill="#3ecf50"/><circle cx="386.71" cy="1020.18" r="7" fill="#3ecf50"/><circle cx="388.97" cy="1021.40" r="7" fill="#3ecf50"/><circle cx="391.94" cy="1020.67" r="7" fill="#3ecf50"/><circle cx="394.90" cy="1018.75" r="7" fill="#3ecf50"/><circle cx="395.38" cy="1018.48" r="7" fill="#3ecf50"/><circle cx="397.65" cy="1020.30" r="7" fill="#3ecf50"/><circle cx="400.48" cy="1020.19" r="7" fill="#3ecf50"/><circle cx="402.87" cy="1019.70" r="7" fill="#3ecf50"/><circle cx="405.04" cy="1020.11" r="7" fill="#3ecf50"/><circle cx="407.40" cy="1020.23" r="7" fill="#3ecf50"/><circle cx="409.30" cy="1022.25" r="7" fill="#3ecf50"/><circle cx="412.16" cy="1020.20" r="7" fill="#3ecf50"/><circle cx="414.87" cy="1021.43" r="7" fill="#3ecf50"/><circle cx="417.06" cy="1020.38" r="7" fill="#3ecf50"/><circle cx="418.66" cy="1020.44" r="7" fill="#3ecf50"/><circle cx="421.25" cy="1023.14" r="7" fill="#3ecf50"/><circle cx="423.51" cy="1020.57" r="7" fill="#3ecf50"/><circle cx="425.51" cy="1020.28" r="7" fill="#3ecf50"/><circle cx="428.47" cy="1020.73" r="7" fill="#3ecf50"/><circle cx="430.96" cy="1020.42" r="7" fill="#3ecf50"/><circle cx="432.96" cy="1019.53" r="7" fill="#3ecf50"/><circle cx="435.00" cy="1021.74" r="7" fill="#3ecf50"/><circle cx="436.97" cy="1021.90" r="7" fill="#3ecf50"/><circle cx="439.87" cy="1019.92" r="7" fill="#3ecf50"/><circle cx="441.23" cy="1019.39" r="7" fill="#3ecf50"/><circle cx="443.93" cy="1020.64" r="7" fill="#3ecf50"/><circle cx="445.34" cy="1021.08" r="7" fill="#3ecf50"/><circle cx="448.73" cy="1021.16" r="7" fill="#3ecf50"/><circle cx="450.77" cy="1021.23" r="7" fill="#3ecf50"/><circle cx="452.93" cy="1021.86" r="7" fill="#3ecf50"/><circle cx="455.79" cy="1020.93" r="7" fill="#3ecf50"/><circle cx="457.91" cy="1020.68" r="7" fill="#3ecf50"/><circle cx="460.15" cy="1021.30" r="7" fill="#3ecf50"/><circle cx="462.14" cy="1020.34" r="7" fill="#3ecf50"/><circle cx="464.27" cy="1019.90" r="7" fill="#3ecf50"/><circle cx="467.14" cy="1020.17" r="7" fill="#3ecf50"/><circle cx="468.11" cy="1020.24" r="7" fill="#3ecf50"/><circle cx="471.37" cy="1021.18" r="7" fill="#3ecf50"/><circle cx="473.94" cy="1021.29" r="7" fill="#3ecf50"/><circle cx="475.86" cy="1019.03" r="7" fill="#3ecf50"/><circle cx="478.12" cy="1020.39" r="7" fill="#3ecf50"/><circle cx="480.79" cy="1021.87" r="7" fill="#3ecf50"/><circle cx="482.50" cy="1019.74" r="7" fill="#3ecf50"/><circle cx="485.28" cy="1020.61" r="7" fill="#3ecf50"/><circle cx="487.43" cy="1020.60" r="7" fill="#3ecf50"/><circle cx="490.07" cy="1021.72" r="7" fill="#3ecf50"/><circle cx="491.56" cy="1021.73" r="7" fill="#3ecf50"/><circle cx="494.12" cy="1019.76" r="7" fill="#3ecf50"/><path d="M129.60,1018.47 L130.12,1018.44 L130.64,1018.41 L131.16,1018.37 L131.69,1018.34 L132.21,1018.30 L132.73,1018.27 L133.25,1018.23 L133.77,1018.19 L134.29,1018.15 L134.82,1018.12 L135.34,1018.08 L135.86,1018.04 L136.38,1018.00 L136.90,1017.95 L137.42,1017.91 L137.95,1017.87 L138.47,1017.82 L138.99,1017.78 L139.51,1017.73 L140.03,1017.69 L140.55,1017.64 L141.08,1017.59 L141.60,1017.54 L142.12,1017.49 L142.64,1017.44 L143.16,1017.39 L143.68,1017.34 L144.20,1017.28 L144.73,1017.23 L145.25,1017.17 L145.77,1017.11 L146.29,1017.05 L146.81,1016.99 L147.33,1016.93 L147.86,1016.87 L148.38,1016.81 L148.90,1016.74 L149.42,1016.67 L149.94,1016.61 L150.46,1016.54 L150.99,1016.46 L151.51,1016.39 L152.03,1016.32 L152.55,1016.24 L153.07,1016.16 L153.59,1016.08 L154.12,1016.00 L154.64,1015.92 L155.16,1015.83 L155.68,1015.75 L156.20,1015.66 L156.72,1015.57 L157.24,1015.47 L157.77,1015.38 L158.29,1015.28 L158.81,1015.18 L159.33,1015.07 L159.85,1014.97 L160.37,1014.86 L160.90,1014.75 L161.42,1014.63 L161.94,1014.52 L162.46,1014.40 L162.98,1014.27 L163.50,1014.15 L164.03,1014.02 L164.55,1013.88 L165.07,1013.75 L165.59,1013.61 L166.11,1013.46 L166.63,1013.31 L167.16,1013.16 L167.68,1013.00 L168.20,1012.84 L168.72,1012.67 L169.24,1012.50 L169.76,1012.33 L170.28,1012.14 L170.81,1011.96 L171.33,1011.76 L171.85,1011.56 L172.37,1011.36 L172.89,1011.15 L173.41,1010.93 L173.94,1010.70 L174.46,1010.47 L174.98,1010.23 L175.50,1009.98 L176.02,1009.73 L176.54,1009.46 L177.07,1009.19 L177.59,1008.90 L178.11,1008.61 L178.63,1008.31 L179.15,1007.99 L179.67,1007.67 L180.20,1007.33 L180.72,1006.98 L181.24,1006.62 L181.76,1006.24 L182.28,1005.85 L182.80,1005.44 L183.33,1005.02 L183.85,1004.58 L184.37,1004.13 L184.89,1003.65 L185.41,1003.16 L185.93,1002.65 L186.45,1002.11 L186.98,1001.55 L187.50,1000.97 L188.02,1000.36 L188.54,999.73 L189.06,999.06 L189.58,998.37 L190.11,997.64 L190.63,996.88 L191.15,996.09 L191.67,995.26 L192.19,994.38 L192.71,993.47 L193.24,992.51 L193.76,991.49 L194.28,990.43 L194.80,989.31 L195.32,988.14 L195.84,986.90 L196.37,985.59 L196.89,984.21 L197.41,982.75 L197.93,981.21 L198.45,979.58 L198.97,977.86 L199.49,976.04 L200.02,974.10 L200.54,972.05 L201.06,969.87 L201.58,967.55 L202.10,965.09 L202.62,962.46 L203.15,959.67 L203.67,956.69 L204.19,953.52 L204.71,950.13 L205.23,946.51 L205.75,942.64 L206.28,938.50 L206.80,934.08 L207.32,929.35 L207.84,924.29 L208.36,918.87 L208.88,913.08 L209.41,906.89 L209.93,900.28 L210.45,893.23 L210.97,885.72 L211.49,877.74 L212.01,869.28 L212.53,860.35 L213.06,850.96 L213.58,841.14 L214.10,830.93 L214.62,820.41 L215.14,809.67 L215.66,798.83 L216.19,788.06 L216.71,777.52 L217.23,767.45 L217.75,758.07 L218.27,749.64 L218.79,742.41 L219.32,736.61 L219.84,732.46 L220.36,730.10 L220.88,729.62 L221.40,731.05 L221.92,734.32 L222.45,739.32 L222.97,745.86 L223.49,753.72 L224.01,762.66 L224.53,772.41 L225.05,782.75 L225.57,793.43 L226.10,804.26 L226.62,815.06 L227.14,825.71 L227.66,836.08 L228.18,846.10 L228.70,855.71 L229.23,864.88 L229.75,873.57 L230.27,881.79 L230.79,889.53 L231.31,896.81 L231.83,903.64 L232.36,910.04 L232.88,916.03 L233.40,921.63 L233.92,926.86 L234.44,931.76 L234.96,936.33 L235.49,940.61 L236.01,944.61 L236.53,948.35 L237.05,951.85 L237.57,955.13 L238.09,958.21 L238.61,961.09 L239.14,963.80 L239.66,966.34 L240.18,968.73 L240.70,970.97 L241.22,973.09 L241.74,975.08 L242.27,976.96 L242.79,978.74 L243.31,980.41 L243.83,981.99 L244.35,983.49 L244.87,984.91 L245.40,986.25 L245.92,987.52 L246.44,988.73 L246.96,989.88 L247.48,990.97 L248.00,992.01 L248.53,992.99 L249.05,993.93 L249.57,994.83 L250.09,995.68 L250.61,996.49 L251.13,997.27 L251.65,998.01 L252.18,998.72 L252.70,999.40 L253.22,1000.05 L253.74,1000.67 L254.26,1001.26 L254.78,1001.83 L255.31,1002.38 L255.83,1002.91 L256.35,1003.41 L256.87,1003.89 L257.39,1004.36 L257.91,1004.81 L258.44,1005.24 L258.96,1005.65 L259.48,1006.05 L260.00,1006.43 L260.52,1006.80 L261.04,1007.16 L261.57,1007.50 L262.09,1007.83 L262.61,1008.15 L263.13,1008.46 L263.65,1008.76 L264.17,1009.05 L264.69,1009.33 L265.22,1009.60 L265.74,1009.86 L266.26,1010.11 L266.78,1010.35 L267.30,1010.59 L267.82,1010.82 L268.35,1011.04 L268.87,1011.25 L269.39,1011.46 L269.91,1011.66 L270.43,1011.86 L270.95,1012.05 L271.48,1012.24 L272.00,1012.41 L272.52,1012.59 L273.04,1012.76 L273.56,1012.92 L274.08,1013.08 L274.61,1013.24 L275.13,1013.39 L275.65,1013.53 L276.17,1013.68 L276.69,1013.82 L277.21,1013.95 L277.74,1014.08 L278.26,1014.21 L278.78,1014.34 L279.30,1014.46 L279.82,1014.58 L280.34,1014.69 L280.86,1014.80 L281.39,1014.91 L281.91,1015.02 L282.43,1015.13 L282.95,1015.23 L283.47,1015.33 L283.99,1015.42 L284.52,1015.52 L285.04,1015.61 L285.56,1015.70 L286.08,1015.79 L286.60,1015.88 L287.12,1015.96 L287.65,1016.04 L288.17,1016.12 L288.69,1016.20 L289.21,1016.28 L289.73,1016.35 L290.25,1016.43 L290.78,1016.50 L291.30,1016.57 L291.82,1016.64 L292.34,1016.71 L292.86,1016.77 L293.38,1016.84 L293.90,1016.90 L294.43,1016.96 L294.95,1017.02 L295.47,1017.08 L295.99,1017.14 L296.51,1017.20 L297.03,1017.25 L297.56,1017.31 L298.08,1017.36 L298.60,1017.42 L299.12,1017.47 L299.64,1017.52 L300.16,1017.57 L300.69,1017.62 L301.21,1017.66 L301.73,1017.71 L302.25,1017.76 L302.77,1017.80 L303.29,1017.85 L303.82,1017.89 L304.34,1017.93 L304.86,1017.98 L305.38,1018.02 L305.90,1018.06 L306.42,1018.10 L306.94,1018.14 L307.47,1018.17 L307.99,1018.21 L308.51,1018.25 L309.03,1018.28 L309.55,1018.32 L310.07,1018.36 L310.60,1018.39 L311.12,1018.42 L311.64,1018.46 L312.16,1018.49 L312.68,1018.52 L313.20,1018.55 L313.73,1018.58 L314.25,1018.62 L314.77,1018.65 L315.29,1018.67 L315.81,1018.70 L316.33,1018.73 L316.86,1018.76 L317.38,1018.79 L317.90,1018.82 L318.42,1018.84 L318.94,1018.87 L319.46,1018.90 L319.98,1018.92 L320.51,1018.95 L321.03,1018.97 L321.55,1019.00 L322.07,1019.02 L322.59,1019.04 L323.11,1019.07 L323.64,1019.09 L324.16,1019.11 L324.68,1019.13 L325.20,1019.16 L325.72,1019.18 L326.24,1019.20 L326.77,1019.22 L327.29,1019.24 L327.81,1019.26 L328.33,1019.28 L328.85,1019.30 L329.37,1019.32 L329.90,1019.34 L330.42,1019.36 L330.94,1019.38 L331.46,1019.40 L331.98,1019.42 L332.50,1019.43 L333.02,1019.45 L333.55,1019.47 L334.07,1019.49 L334.59,1019.50 L335.11,1019.52 L335.63,1019.54 L336.15,1019.55 L336.68,1019.57 L337.20,1019.59 L337.72,1019.60 L338.24,1019.62 L338.76,1019.63 L339.28,1019.65 L339.81,1019.66 L340.33,1019.68 L340.85,1019.69 L341.37,1019.71 L341.89,1019.72 L342.41,1019.73 L342.94,1019.75 L343.46,1019.76 L343.98,1019.77 L344.50,1019.79 L345.02,1019.80 L345.54,1019.81 L346.06,1019.83 L346.59,1019.84 L347.11,1019.85 L347.63,1019.86 L348.15,1019.88 L348.67,1019.89 L349.19,1019.90 L349.72,1019.91 L350.24,1019.92 L350.76,1019.93 L351.28,1019.95 L351.80,1019.96 L352.32,1019.97 L352.85,1019.98 L353.37,1019.99 L353.89,1020.00 L354.41,1020.01 L354.93,1020.02 L355.45,1020.03 L355.98,1020.04 L356.50,1020.05 L357.02,1020.06 L357.54,1020.07 L358.06,1020.08 L358.58,1020.09 L359.11,1020.10 L359.63,1020.11 L360.15,1020.12 L360.67,1020.13 L361.19,1020.14 L361.71,1020.15 L362.23,1020.16 L362.76,1020.17 L363.28,1020.17 L363.80,1020.18 L364.32,1020.19 L364.84,1020.20 L365.36,1020.21 L365.89,1020.22 L366.41,1020.22 L366.93,1020.23 L367.45,1020.24 L367.97,1020.25 L368.49,1020.26 L369.02,1020.26 L369.54,1020.27 L370.06,1020.28 L370.58,1020.29 L371.10,1020.29 L371.62,1020.30 L372.15,1020.31 L372.67,1020.32 L373.19,1020.32 L373.71,1020.33 L374.23,1020.34 L374.75,1020.34 L375.27,1020.35 L375.80,1020.36 L376.32,1020.36 L376.84,1020.37 L377.36,1020.38 L377.88,1020.38 L378.40,1020.39 L378.93,1020.40 L379.45,1020.40 L379.97,1020.41 L380.49,1020.42 L381.01,1020.42 L381.53,1020.43 L382.06,1020.43 L382.58,1020.44 L383.10,1020.45 L383.62,1020.45 L384.14,1020.46 L384.66,1020.46 L385.19,1020.47 L385.71,1020.47 L386.23,1020.48 L386.75,1020.49 L387.27,1020.49 L387.79,1020.50 L388.31,1020.50 L388.84,1020.51 L389.36,1020.51 L389.88,1020.52 L390.40,1020.52 L390.92,1020.53 L391.44,1020.53 L391.97,1020.54 L392.49,1020.54 L393.01,1020.55 L393.53,1020.55 L394.05,1020.56 L394.57,1020.56 L395.10,1020.57 L395.62,1020.57 L396.14,1020.58 L396.66,1020.58 L397.18,1020.59 L397.70,1020.59 L398.23,1020.59 L398.75,1020.60 L399.27,1020.60 L399.79,1020.61 L400.31,1020.61 L400.83,1020.62 L401.35,1020.62 L401.88,1020.63 L402.40,1020.63 L402.92,1020.63 L403.44,1020.64 L403.96,1020.64 L404.48,1020.65 L405.01,1020.65 L405.53,1020.65 L406.05,1020.66 L406.57,1020.66 L407.09,1020.67 L407.61,1020.67 L408.14,1020.67 L408.66,1020.68 L409.18,1020.68 L409.70,1020.68 L410.22,1020.69 L410.74,1020.69 L411.27,1020.70 L411.79,1020.70 L412.31,1020.70 L412.83,1020.71 L413.35,1020.71 L413.87,1020.71 L414.39,1020.72 L414.92,1020.72 L415.44,1020.72 L415.96,1020.73 L416.48,1020.73 L417.00,1020.73 L417.52,1020.74 L418.05,1020.74 L418.57,1020.74 L419.09,1020.75 L419.61,1020.75 L420.13,1020.75 L420.65,1020.76 L421.18,1020.76 L421.70,1020.76 L422.22,1020.77 L422.74,1020.77 L423.26,1020.77 L423.78,1020.78 L424.31,1020.78 L424.83,1020.78 L425.35,1020.78 L425.87,1020.79 L426.39,1020.79 L426.91,1020.79 L427.43,1020.80 L427.96,1020.80 L428.48,1020.80 L429.00,1020.80 L429.52,1020.81 L430.04,1020.81 L430.56,1020.81 L431.09,1020.82 L431.61,1020.82 L432.13,1020.82 L432.65,1020.82 L433.17,1020.83 L433.69,1020.83 L434.22,1020.83 L434.74,1020.83 L435.26,1020.84 L435.78,1020.84 L436.30,1020.84 L436.82,1020.84 L437.35,1020.85 L437.87,1020.85 L438.39,1020.85 L438.91,1020.85 L439.43,1020.86 L439.95,1020.86 L440.47,1020.86 L441.00,1020.86 L441.52,1020.87 L442.04,1020.87 L442.56,1020.87 L443.08,1020.87 L443.60,1020.87 L444.13,1020.88 L444.65,1020.88 L445.17,1020.88 L445.69,1020.88 L446.21,1020.89 L446.73,1020.89 L447.26,1020.89 L447.78,1020.89 L448.30,1020.89 L448.82,1020.90 L449.34,1020.90 L449.86,1020.90 L450.39,1020.90 L450.91,1020.91 L451.43,1020.91 L451.95,1020.91 L452.47,1020.91 L452.99,1020.91 L453.52,1020.92 L454.04,1020.92 L454.56,1020.92 L455.08,1020.92 L455.60,1020.92 L456.12,1020.93 L456.64,1020.93 L457.17,1020.93 L457.69,1020.93 L458.21,1020.93 L458.73,1020.93 L459.25,1020.94 L459.77,1020.94 L460.30,1020.94 L460.82,1020.94 L461.34,1020.94 L461.86,1020.95 L462.38,1020.95 L462.90,1020.95 L463.43,1020.95 L463.95,1020.95 L464.47,1020.95 L464.99,1020.96 L465.51,1020.96 L466.03,1020.96 L466.56,1020.96 L467.08,1020.96 L467.60,1020.96 L468.12,1020.97 L468.64,1020.97 L469.16,1020.97 L469.68,1020.97 L470.21,1020.97 L470.73,1020.97 L471.25,1020.98 L471.77,1020.98 L472.29,1020.98 L472.81,1020.98 L473.34,1020.98 L473.86,1020.98 L474.38,1020.99 L474.90,1020.99 L475.42,1020.99 L475.94,1020.99 L476.47,1020.99 L476.99,1020.99 L477.51,1021.00 L478.03,1021.00 L478.55,1021.00 L479.07,1021.00 L479.60,1021.00 L480.12,1021.00 L480.64,1021.00 L481.16,1021.01 L481.68,1021.01 L482.20,1021.01 L482.72,1021.01 L483.25,1021.01 L483.77,1021.01 L484.29,1021.01 L484.81,1021.02 L485.33,1021.02 L485.85,1021.02 L486.38,1021.02 L486.90,1021.02 L487.42,1021.02 L487.94,1021.02 L488.46,1021.02 L488.98,1021.03 L489.51,1021.03 L490.03,1021.03 L490.55,1021.03 L491.07,1021.03 L491.59,1021.03 L492.11,1021.03 L492.64,1021.03 L493.16,1021.04 L493.68,1021.04 L494.20,1021.04" fill="none" stroke="#3a8fcb" stroke-width="4.6"/><path d="M129.60,1018.17 L130.12,1018.14 L130.64,1018.11 L131.16,1018.07 L131.69,1018.04 L132.21,1018.00 L132.73,1017.97 L133.25,1017.93 L133.77,1017.89 L134.29,1017.85 L134.82,1017.82 L135.34,1017.78 L135.86,1017.74 L136.38,1017.70 L136.90,1017.65 L137.42,1017.61 L137.95,1017.57 L138.47,1017.52 L138.99,1017.48 L139.51,1017.43 L140.03,1017.39 L140.55,1017.34 L141.08,1017.29 L141.60,1017.24 L142.12,1017.19 L142.64,1017.14 L143.16,1017.09 L143.68,1017.04 L144.20,1016.98 L144.73,1016.93 L145.25,1016.87 L145.77,1016.81 L146.29,1016.75 L146.81,1016.69 L147.33,1016.63 L147.86,1016.57 L148.38,1016.51 L148.90,1016.44 L149.42,1016.37 L149.94,1016.31 L150.46,1016.24 L150.99,1016.16 L151.51,1016.09 L152.03,1016.02 L152.55,1015.94 L153.07,1015.86 L153.59,1015.78 L154.12,1015.70 L154.64,1015.62 L155.16,1015.53 L155.68,1015.45 L156.20,1015.36 L156.72,1015.27 L157.24,1015.17 L157.77,1015.08 L158.29,1014.98 L158.81,1014.88 L159.33,1014.77 L159.85,1014.67 L160.37,1014.56 L160.90,1014.45 L161.42,1014.33 L161.94,1014.22 L162.46,1014.10 L162.98,1013.97 L163.50,1013.85 L164.03,1013.72 L164.55,1013.58 L165.07,1013.45 L165.59,1013.31 L166.11,1013.16 L166.63,1013.01 L167.16,1012.86 L167.68,1012.70 L168.20,1012.54 L168.72,1012.37 L169.24,1012.20 L169.76,1012.03 L170.28,1011.84 L170.81,1011.66 L171.33,1011.46 L171.85,1011.26 L172.37,1011.06 L172.89,1010.85 L173.41,1010.63 L173.94,1010.40 L174.46,1010.17 L174.98,1009.93 L175.50,1009.68 L176.02,1009.43 L176.54,1009.16 L177.07,1008.89 L177.59,1008.60 L178.11,1008.31 L178.63,1008.01 L179.15,1007.69 L179.67,1007.37 L180.20,1007.03 L180.72,1006.68 L181.24,1006.32 L181.76,1005.94 L182.28,1005.55 L182.80,1005.14 L183.33,1004.72 L183.85,1004.28 L184.37,1003.83 L184.89,1003.35 L185.41,1002.86 L185.93,1002.35 L186.45,1001.81 L186.98,1001.25 L187.50,1000.67 L188.02,1000.06 L188.54,999.43 L189.06,998.76 L189.58,998.07 L190.11,997.34 L190.63,996.58 L191.15,995.79 L191.67,994.96 L192.19,994.08 L192.71,993.17 L193.24,992.21 L193.76,991.19 L194.28,990.13 L194.80,989.01 L195.32,987.84 L195.84,986.60 L196.37,985.29 L196.89,983.91 L197.41,982.45 L197.93,980.91 L198.45,979.28 L198.97,977.56 L199.49,975.74 L200.02,973.80 L200.54,971.75 L201.06,969.57 L201.58,967.25 L202.10,964.79 L202.62,962.16 L203.15,959.37 L203.67,956.39 L204.19,953.22 L204.71,949.83 L205.23,946.21 L205.75,942.34 L206.28,938.20 L206.80,933.78 L207.32,929.05 L207.84,923.99 L208.36,918.57 L208.88,912.78 L209.41,906.59 L209.93,899.98 L210.45,892.93 L210.97,885.42 L211.49,877.44 L212.01,868.98 L212.53,860.05 L213.06,850.66 L213.58,840.84 L214.10,830.63 L214.62,820.11 L215.14,809.37 L215.66,798.53 L216.19,787.76 L216.71,777.22 L217.23,767.15 L217.75,757.77 L218.27,749.34 L218.79,742.11 L219.32,736.31 L219.84,732.16 L220.36,729.80 L220.88,729.32 L221.40,730.75 L221.92,734.02 L222.45,739.02 L222.97,745.56 L223.49,753.42 L224.01,762.36 L224.53,772.11 L225.05,782.45 L225.57,793.13 L226.10,803.96 L226.62,814.76 L227.14,825.41 L227.66,835.78 L228.18,845.80 L228.70,855.41 L229.23,864.58 L229.75,873.27 L230.27,881.49 L230.79,889.23 L231.31,896.51 L231.83,903.34 L232.36,909.74 L232.88,915.73 L233.40,921.33 L233.92,926.56 L234.44,931.46 L234.96,936.03 L235.49,940.31 L236.01,944.31 L236.53,948.05 L237.05,951.55 L237.57,954.83 L238.09,957.91 L238.61,960.79 L239.14,963.50 L239.66,966.04 L240.18,968.43 L240.70,970.67 L241.22,972.79 L241.74,974.78 L242.27,976.66 L242.79,978.44 L243.31,980.11 L243.83,981.69 L244.35,983.19 L244.87,984.61 L245.40,985.95 L245.92,987.22 L246.44,988.43 L246.96,989.58 L247.48,990.67 L248.00,991.71 L248.53,992.69 L249.05,993.63 L249.57,994.53 L250.09,995.38 L250.61,996.19 L251.13,996.97 L251.65,997.71 L252.18,998.42 L252.70,999.10 L253.22,999.75 L253.74,1000.37 L254.26,1000.96 L254.78,1001.53 L255.31,1002.08 L255.83,1002.61 L256.35,1003.11 L256.87,1003.59 L257.39,1004.06 L257.91,1004.51 L258.44,1004.94 L258.96,1005.35 L259.48,1005.75 L260.00,1006.13 L260.52,1006.50 L261.04,1006.86 L261.57,1007.20 L262.09,1007.53 L262.61,1007.85 L263.13,1008.16 L263.65,1008.46 L264.17,1008.75 L264.69,1009.03 L265.22,1009.30 L265.74,1009.56 L266.26,1009.81 L266.78,1010.05 L267.30,1010.29 L267.82,1010.52 L268.35,1010.74 L268.87,1010.95 L269.39,1011.16 L269.91,1011.36 L270.43,1011.56 L270.95,1011.75 L271.48,1011.94 L272.00,1012.11 L272.52,1012.29 L273.04,1012.46 L273.56,1012.62 L274.08,1012.78 L274.61,1012.94 L275.13,1013.09 L275.65,1013.23 L276.17,1013.38 L276.69,1013.52 L277.21,1013.65 L277.74,1013.78 L278.26,1013.91 L278.78,1014.04 L279.30,1014.16 L279.82,1014.28 L280.34,1014.39 L280.86,1014.50 L281.39,1014.61 L281.91,1014.72 L282.43,1014.83 L282.95,1014.93 L283.47,1015.03 L283.99,1015.12 L284.52,1015.22 L285.04,1015.31 L285.56,1015.40 L286.08,1015.49 L286.60,1015.58 L287.12,1015.66 L287.65,1015.74 L288.17,1015.82 L288.69,1015.90 L289.21,1015.98 L289.73,1016.05 L290.25,1016.13 L290.78,1016.20 L291.30,1016.27 L291.82,1016.34 L292.34,1016.41 L292.86,1016.47 L293.38,1016.54 L293.90,1016.60 L294.43,1016.66 L294.95,1016.72 L295.47,1016.78 L295.99,1016.84 L296.51,1016.90 L297.03,1016.95 L297.56,1017.01 L298.08,1017.06 L298.60,1017.12 L299.12,1017.17 L299.64,1017.22 L300.16,1017.27 L300.69,1017.32 L301.21,1017.36 L301.73,1017.41 L302.25,1017.46 L302.77,1017.50 L303.29,1017.55 L303.82,1017.59 L304.34,1017.63 L304.86,1017.68 L305.38,1017.72 L305.90,1017.76 L306.42,1017.80 L306.94,1017.84 L307.47,1017.87 L307.99,1017.91 L308.51,1017.95 L309.03,1017.98 L309.55,1018.02 L310.07,1018.06 L310.60,1018.09 L311.12,1018.12 L311.64,1018.16 L312.16,1018.19 L312.68,1018.22 L313.20,1018.25 L313.73,1018.28 L314.25,1018.32 L314.77,1018.35 L315.29,1018.37 L315.81,1018.40 L316.33,1018.43 L316.86,1018.46 L317.38,1018.49 L317.90,1018.52 L318.42,1018.54 L318.94,1018.57 L319.46,1018.60 L319.98,1018.62 L320.51,1018.65 L321.03,1018.67 L321.55,1018.70 L322.07,1018.72 L322.59,1018.74 L323.11,1018.77 L323.64,1018.79 L324.16,1018.81 L324.68,1018.83 L325.20,1018.86 L325.72,1018.88 L326.24,1018.90 L326.77,1018.92 L327.29,1018.94 L327.81,1018.96 L328.33,1018.98 L328.85,1019.00 L329.37,1019.02 L329.90,1019.04 L330.42,1019.06 L330.94,1019.08 L331.46,1019.10 L331.98,1019.12 L332.50,1019.13 L333.02,1019.15 L333.55,1019.17 L334.07,1019.19 L334.59,1019.20 L335.11,1019.22 L335.63,1019.24 L336.15,1019.25 L336.68,1019.27 L337.20,1019.29 L337.72,1019.30 L338.24,1019.32 L338.76,1019.33 L339.28,1019.35 L339.81,1019.36 L340.33,1019.38 L340.85,1019.39 L341.37,1019.41 L341.89,1019.42 L342.41,1019.43 L342.94,1019.45 L343.46,1019.46 L343.98,1019.47 L344.50,1019.49 L345.02,1019.50 L345.54,1019.51 L346.06,1019.53 L346.59,1019.54 L347.11,1019.55 L347.63,1019.56 L348.15,1019.58 L348.67,1019.59 L349.19,1019.60 L349.72,1019.61 L350.24,1019.62 L350.76,1019.63 L351.28,1019.65 L351.80,1019.66 L352.32,1019.67 L352.85,1019.68 L353.37,1019.69 L353.89,1019.70 L354.41,1019.71 L354.93,1019.72 L355.45,1019.73 L355.98,1019.74 L356.50,1019.75 L357.02,1019.76 L357.54,1019.77 L358.06,1019.78 L358.58,1019.79 L359.11,1019.80 L359.63,1019.81 L360.15,1019.82 L360.67,1019.83 L361.19,1019.84 L361.71,1019.85 L362.23,1019.86 L362.76,1019.87 L363.28,1019.87 L363.80,1019.88 L364.32,1019.89 L364.84,1019.90 L365.36,1019.91 L365.89,1019.92 L366.41,1019.92 L366.93,1019.93 L367.45,1019.94 L367.97,1019.95 L368.49,1019.96 L369.02,1019.96 L369.54,1019.97 L370.06,1019.98 L370.58,1019.99 L371.10,1019.99 L371.62,1020.00 L372.15,1020.01 L372.67,1020.02 L373.19,1020.02 L373.71,1020.03 L374.23,1020.04 L374.75,1020.04 L375.27,1020.05 L375.80,1020.06 L376.32,1020.06 L376.84,1020.07 L377.36,1020.08 L377.88,1020.08 L378.40,1020.09 L378.93,1020.10 L379.45,1020.10 L379.97,1020.11 L380.49,1020.12 L381.01,1020.12 L381.53,1020.13 L382.06,1020.13 L382.58,1020.14 L383.10,1020.15 L383.62,1020.15 L384.14,1020.16 L384.66,1020.16 L385.19,1020.17 L385.71,1020.17 L386.23,1020.18 L386.75,1020.19 L387.27,1020.19 L387.79,1020.20 L388.31,1020.20 L388.84,1020.21 L389.36,1020.21 L389.88,1020.22 L390.40,1020.22 L390.92,1020.23 L391.44,1020.23 L391.97,1020.24 L392.49,1020.24 L393.01,1020.25 L393.53,1020.25 L394.05,1020.26 L394.57,1020.26 L395.10,1020.27 L395.62,1020.27 L396.14,1020.28 L396.66,1020.28 L397.18,1020.29 L397.70,1020.29 L398.23,1020.29 L398.75,1020.30 L399.27,1020.30 L399.79,1020.31 L400.31,1020.31 L400.83,1020.32 L401.35,1020.32 L401.88,1020.33 L402.40,1020.33 L402.92,1020.33 L403.44,1020.34 L403.96,1020.34 L404.48,1020.35 L405.01,1020.35 L405.53,1020.35 L406.05,1020.36 L406.57,1020.36 L407.09,1020.37 L407.61,1020.37 L408.14,1020.37 L408.66,1020.38 L409.18,1020.38 L409.70,1020.38 L410.22,1020.39 L410.74,1020.39 L411.27,1020.40 L411.79,1020.40 L412.31,1020.40 L412.83,1020.41 L413.35,1020.41 L413.87,1020.41 L414.39,1020.42 L414.92,1020.42 L415.44,1020.42 L415.96,1020.43 L416.48,1020.43 L417.00,1020.43 L417.52,1020.44 L418.05,1020.44 L418.57,1020.44 L419.09,1020.45 L419.61,1020.45 L420.13,1020.45 L420.65,1020.46 L421.18,1020.46 L421.70,1020.46 L422.22,1020.47 L422.74,1020.47 L423.26,1020.47 L423.78,1020.48 L424.31,1020.48 L424.83,1020.48 L425.35,1020.48 L425.87,1020.49 L426.39,1020.49 L426.91,1020.49 L427.43,1020.50 L427.96,1020.50 L428.48,1020.50 L429.00,1020.50 L429.52,1020.51 L430.04,1020.51 L430.56,1020.51 L431.09,1020.52 L431.61,1020.52 L432.13,1020.52 L432.65,1020.52 L433.17,1020.53 L433.69,1020.53 L434.22,1020.53 L434.74,1020.53 L435.26,1020.54 L435.78,1020.54 L436.30,1020.54 L436.82,1020.54 L437.35,1020.55 L437.87,1020.55 L438.39,1020.55 L438.91,1020.55 L439.43,1020.56 L439.95,1020.56 L440.47,1020.56 L441.00,1020.56 L441.52,1020.57 L442.04,1020.57 L442.56,1020.57 L443.08,1020.57 L443.60,1020.57 L444.13,1020.58 L444.65,1020.58 L445.17,1020.58 L445.69,1020.58 L446.21,1020.59 L446.73,1020.59 L447.26,1020.59 L447.78,1020.59 L448.30,1020.59 L448.82,1020.60 L449.34,1020.60 L449.86,1020.60 L450.39,1020.60 L450.91,1020.61 L451.43,1020.61 L451.95,1020.61 L452.47,1020.61 L452.99,1020.61 L453.52,1020.62 L454.04,1020.62 L454.56,1020.62 L455.08,1020.62 L455.60,1020.62 L456.12,1020.63 L456.64,1020.63 L457.17,1020.63 L457.69,1020.63 L458.21,1020.63 L458.73,1020.63 L459.25,1020.64 L459.77,1020.64 L460.30,1020.64 L460.82,1020.64 L461.34,1020.64 L461.86,1020.65 L462.38,1020.65 L462.90,1020.65 L463.43,1020.65 L463.95,1020.65 L464.47,1020.65 L464.99,1020.66 L465.51,1020.66 L466.03,1020.66 L466.56,1020.66 L467.08,1020.66 L467.60,1020.66 L468.12,1020.67 L468.64,1020.67 L469.16,1020.67 L469.68,1020.67 L470.21,1020.67 L470.73,1020.67 L471.25,1020.68 L471.77,1020.68 L472.29,1020.68 L472.81,1020.68 L473.34,1020.68 L473.86,1020.68 L474.38,1020.69 L474.90,1020.69 L475.42,1020.69 L475.94,1020.69 L476.47,1020.69 L476.99,1020.69 L477.51,1020.70 L478.03,1020.70 L478.55,1020.70 L479.07,1020.70 L479.60,1020.70 L480.12,1020.70 L480.64,1020.70 L481.16,1020.71 L481.68,1020.71 L482.20,1020.71 L482.72,1020.71 L483.25,1020.71 L483.77,1020.71 L484.29,1020.71 L484.81,1020.72 L485.33,1020.72 L485.85,1020.72 L486.38,1020.72 L486.90,1020.72 L487.42,1020.72 L487.94,1020.72 L488.46,1020.72 L488.98,1020.73 L489.51,1020.73 L490.03,1020.73 L490.55,1020.73 L491.07,1020.73 L491.59,1020.73 L492.11,1020.73 L492.64,1020.73 L493.16,1020.74 L493.68,1020.74 L494.20,1020.74" fill="none" stroke="#000" stroke-width="3.0" stroke-linejoin="round"/></g>
<rect x="129.60" y="700.52" width="364.60" height="350.16" fill="none" stroke="#000" stroke-width="2.7" stroke-linejoin="miter"/><line x1="129.60" y1="1050.68" x2="129.60" y2="1063.18" stroke="#000" stroke-width="2.6"/><line x1="220.75" y1="1050.68" x2="220.75" y2="1063.18" stroke="#000" stroke-width="2.6"/><line x1="311.90" y1="1050.68" x2="311.90" y2="1063.18" stroke="#000" stroke-width="2.6"/><line x1="403.05" y1="1050.68" x2="403.05" y2="1063.18" stroke="#000" stroke-width="2.6"/><line x1="494.20" y1="1050.68" x2="494.20" y2="1063.18" stroke="#000" stroke-width="2.6"/><line x1="117.10" y1="1021.50" x2="129.60" y2="1021.50" stroke="#000" stroke-width="2.6"/><line x1="117.10" y1="875.60" x2="129.60" y2="875.60" stroke="#000" stroke-width="2.6"/><line x1="117.10" y1="729.70" x2="129.60" y2="729.70" stroke="#000" stroke-width="2.6"/>
<text x="119.89" y="1103.20" font-family='"Liberation Sans", sans-serif' font-size="32.94" textLength="19.41" lengthAdjust="spacingAndGlyphs">2</text><text x="212.08" y="1103.20" font-family='"Liberation Sans", sans-serif' font-size="33.43" textLength="17.55" lengthAdjust="spacingAndGlyphs">4</text><text x="302.20" y="1102.88" font-family='"Liberation Sans", sans-serif' font-size="32.49" textLength="19.16" lengthAdjust="spacingAndGlyphs">6</text><text x="393.63" y="1102.88" font-family='"Liberation Sans", sans-serif' font-size="32.49" textLength="18.85" lengthAdjust="spacingAndGlyphs">8</text><text x="475.24" y="1102.88" font-family='"Liberation Sans", sans-serif' font-size="32.49" textLength="36.70" lengthAdjust="spacingAndGlyphs">10</text><text x="56.41" y="741.95" font-family='"Liberation Sans", sans-serif' font-size="36.02" textLength="47.32" lengthAdjust="spacingAndGlyphs">1.0</text><text x="57.70" y="887.85" font-family='"Liberation Sans", sans-serif' font-size="36.02" textLength="46.09" lengthAdjust="spacingAndGlyphs">0.5</text><text x="57.71" y="1033.75" font-family='"Liberation Sans", sans-serif' font-size="36.02" textLength="45.98" lengthAdjust="spacingAndGlyphs">0.0</text>
<text x="79.62" y="1157.80" font-family='"Liberation Sans", sans-serif' font-size="34" textLength="140.34" lengthAdjust="spacingAndGlyphs">Detuning</text><line x1="229.90" y1="1125.9" x2="229.90" y2="1172" stroke="#000" stroke-width="1.4"/><text x="235.55" y="1158.26" font-family='"Liberation Serif", serif' font-style="italic" font-size="34.9" textLength="24.47" lengthAdjust="spacingAndGlyphs">ω</text><text x="258.66" y="1163.45" font-family='"Liberation Serif", serif' font-size="25.57" textLength="12.72" lengthAdjust="spacingAndGlyphs">s</text><line x1="283.30" y1="1148.7" x2="305.80" y2="1148.7" stroke="#000" stroke-width="1.4"/><text x="315.55" y="1158.26" font-family='"Liberation Serif", serif' font-style="italic" font-size="34.9" textLength="24.47" lengthAdjust="spacingAndGlyphs">ω</text><text x="340.86" y="1142.35" font-family='"Liberation Serif", serif' font-size="25.79" textLength="13.68" lengthAdjust="spacingAndGlyphs">0</text><text x="341.09" y="1167.25" font-family='"Liberation Serif", serif' font-size="20.9" textLength="14.11" lengthAdjust="spacingAndGlyphs">q</text><line x1="363.00" y1="1126" x2="363.00" y2="1172" stroke="#000" stroke-width="1.4"/><line x1="377.60" y1="1166.3" x2="391.00" y2="1131.5" stroke="#000" stroke-width="1.5"/><text x="392.79" y="1158.20" font-family='"Liberation Serif", serif' font-size="31.26" textLength="19.46" lengthAdjust="spacingAndGlyphs">2</text><text x="410.78" y="1158.13" font-family='"Liberation Serif", serif' font-style="italic" font-size="37.55" textLength="20.77" lengthAdjust="spacingAndGlyphs">π</text><text x="442.29" y="1158.20" font-family='"Liberation Sans", sans-serif' font-size="34" textLength="101.32" lengthAdjust="spacingAndGlyphs">(MHz)</text>
<circle cx="327.60" cy="728.5" r="7.5" fill="#3ecf50"/><text x="365.42" y="739.20" font-family='"Liberation Sans", sans-serif' font-size="34" textLength="71.48" lengthAdjust="spacingAndGlyphs">Data</text><line x1="298.00" y1="770.6" x2="357.00" y2="770.6" stroke="#000" stroke-width="3.0"/><text x="365.08" y="784.80" font-family='"Liberation Sans", sans-serif' font-size="34" textLength="42.19" lengthAdjust="spacingAndGlyphs">Fit</text><rect x="298.10" y="821.80" width="58.5" height="11.1" fill="#3a8fcb" fill-opacity="0.25"/><line x1="298.10" y1="820.00" x2="356.60" y2="820.00" stroke="#3a8fcb" stroke-width="3.4"/><text x="368.04" y="826.30" font-family='"Liberation Serif", serif' font-style="italic" font-size="36.29" textLength="20.87" lengthAdjust="spacingAndGlyphs">n</text><text x="390.39" y="830.50" font-family='"Liberation Serif", serif' font-size="25.26" textLength="22.67" lengthAdjust="spacingAndGlyphs">m</text><line x1="426.80" y1="813.3" x2="451.00" y2="813.3" stroke="#000" stroke-width="1.6"/><line x1="426.80" y1="820.1" x2="451.00" y2="820.1" stroke="#000" stroke-width="1.6"/><text x="463.76" y="829.53" font-family='"Liberation Serif", serif' font-size="37.64" textLength="18.88" lengthAdjust="spacingAndGlyphs">0</text>
<g transform="rotate(-90)"><text x="-1041.66" y="27.80" font-family='"Liberation Sans", sans-serif' font-size="34" textLength="237.87" lengthAdjust="spacingAndGlyphs">Qubit spectrum</text><text x="-795.23" y="27.81" font-family='"Liberation Serif", serif' font-style="italic" font-size="40.04" textLength="22.56" lengthAdjust="spacingAndGlyphs">S</text><text x="-769.77" y="28.08" font-family='"Liberation Serif", serif' font-size="40.47" textLength="11.15" lengthAdjust="spacingAndGlyphs">(</text><text x="-759.12" y="27.85" font-family='"Liberation Serif", serif' font-style="italic" font-size="35.74" textLength="23.91" lengthAdjust="spacingAndGlyphs">ω</text><text x="-734.88" y="32.55" font-family='"Liberation Serif", serif' font-size="25.57" textLength="11.23" lengthAdjust="spacingAndGlyphs">s</text><text x="-720.78" y="28.08" font-family='"Liberation Serif", serif' font-size="40.47" textLength="11.15" lengthAdjust="spacingAndGlyphs">)</text></g>
<text x="140.26" y="669.90" font-family='"Liberation Sans", sans-serif' font-size="34" textLength="340.78" lengthAdjust="spacingAndGlyphs">Magnon vacuum state</text>
<text x="5.46" y="644.20" font-family='"Liberation Sans", sans-serif' font-size="33" textLength="42.18" lengthAdjust="spacingAndGlyphs">(b)</text>
<line x1="153.4" y1="875.7" x2="200" y2="875.7" stroke="#000" stroke-width="2"/>
<path d="M209.30,875.70 L191.60,870.20 L195.67,875.70 L191.60,881.20 Z" fill="#000"/>
<line x1="287.7" y1="875.7" x2="240" y2="875.7" stroke="#000" stroke-width="2"/>
<path d="M231.10,875.70 L250.20,881.20 L246.19,875.70 L250.20,870.20 Z" fill="#000"/>
<text x="302.91" y="884.09" font-family='"Liberation Serif", serif' font-style="italic" font-size="34.83" textLength="15.78" lengthAdjust="spacingAndGlyphs" stroke="#fff" stroke-width="0.5">γ</text>
<text x="320.44" y="889.28" font-family='"Liberation Serif", serif' font-size="24.07" textLength="14.69" lengthAdjust="spacingAndGlyphs">q</text>
<line x1="340.2" y1="892.6" x2="352.5" y2="857.6" stroke="#000" stroke-width="1.5"/>
<text x="355.93" y="883.90" font-family='"Liberation Serif", serif' font-size="36.1" textLength="17.84" lengthAdjust="spacingAndGlyphs">2</text>
<text x="375.00" y="884.45" font-family='"Liberation Serif", serif' font-style="italic" font-size="35.63" textLength="18.94" lengthAdjust="spacingAndGlyphs">π</text>
<g clip-path="url(#clipc)"><path d="M689.1,1021 L689.10,1014.90 L689.71,1014.83 L690.32,1014.75 L690.93,1014.67 L691.53,1014.58 L692.14,1014.49 L692.75,1014.40 L693.36,1014.31 L693.97,1014.22 L694.58,1014.12 L695.19,1014.02 L695.80,1013.91 L696.40,1013.80 L697.01,1013.69 L697.62,1013.57 L698.23,1013.45 L698.84,1013.33 L699.45,1013.20 L700.06,1013.07 L700.66,1012.93 L701.27,1012.79 L701.88,1012.65 L702.49,1012.50 L703.10,1012.34 L703.71,1012.18 L704.32,1012.01 L704.93,1011.84 L705.53,1011.66 L706.14,1011.47 L706.75,1011.28 L707.36,1011.08 L707.97,1010.88 L708.58,1010.67 L709.19,1010.44 L709.80,1010.22 L710.40,1009.98 L711.01,1009.73 L711.62,1009.48 L712.23,1009.22 L712.84,1008.94 L713.45,1008.66 L714.06,1008.37 L714.66,1008.06 L715.27,1007.75 L715.88,1007.42 L716.49,1007.08 L717.10,1006.73 L717.71,1006.36 L718.32,1005.98 L718.93,1005.59 L719.53,1005.18 L720.14,1004.75 L720.75,1004.31 L721.36,1003.86 L721.97,1003.38 L722.58,1002.89 L723.19,1002.37 L723.79,1001.84 L724.40,1001.28 L725.01,1000.71 L725.62,1000.11 L726.23,999.49 L726.84,998.84 L727.45,998.17 L728.06,997.47 L728.66,996.74 L729.27,995.99 L729.88,995.20 L730.49,994.38 L731.10,993.53 L731.71,992.65 L732.32,991.73 L732.93,990.77 L733.53,989.78 L734.14,988.74 L734.75,987.67 L735.36,986.55 L735.97,985.39 L736.58,984.18 L737.19,982.92 L737.79,981.61 L738.40,980.25 L739.01,978.84 L739.62,977.37 L740.23,975.85 L740.84,974.26 L741.45,972.61 L742.06,970.90 L742.66,969.12 L743.27,967.27 L743.88,965.36 L744.49,963.37 L745.10,961.30 L745.71,959.16 L746.32,956.94 L746.92,954.64 L747.53,952.26 L748.14,949.79 L748.75,947.24 L749.36,944.60 L749.97,941.87 L750.58,939.04 L751.19,936.13 L751.79,933.12 L752.40,930.01 L753.01,926.81 L753.62,923.52 L754.23,920.13 L754.84,916.65 L755.45,913.07 L756.05,909.40 L756.66,905.64 L757.27,901.79 L757.88,897.86 L758.49,893.84 L759.10,889.74 L759.71,885.57 L760.32,881.33 L760.92,877.02 L761.53,872.66 L762.14,868.24 L762.75,863.79 L763.36,859.30 L763.97,854.79 L764.58,850.26 L765.19,845.73 L765.79,841.21 L766.40,836.70 L767.01,832.23 L767.62,827.81 L768.23,823.44 L768.84,819.15 L769.45,814.94 L770.05,810.84 L770.66,806.85 L771.27,803.00 L771.88,799.29 L772.49,795.74 L773.10,792.37 L773.71,789.19 L774.32,786.22 L774.92,783.47 L775.53,780.95 L776.14,778.68 L776.75,776.67 L777.36,774.93 L777.97,773.47 L778.58,772.31 L779.18,771.45 L779.79,770.90 L780.40,770.66 L781.01,770.75 L781.62,771.14 L782.23,771.85 L782.84,772.87 L783.45,774.18 L784.05,775.79 L784.66,777.66 L785.27,779.78 L785.88,782.14 L786.49,784.72 L787.10,787.49 L787.71,790.43 L788.32,793.52 L788.92,796.74 L789.53,800.08 L790.14,803.51 L790.75,807.02 L791.36,810.58 L791.97,814.19 L792.58,817.84 L793.18,821.50 L793.79,825.17 L794.40,828.85 L795.01,832.51 L795.62,836.16 L796.23,839.79 L796.84,843.38 L797.45,846.94 L798.05,850.46 L798.66,853.93 L799.27,857.36 L799.88,860.73 L800.49,864.05 L801.10,867.31 L801.71,870.51 L802.31,873.66 L802.92,876.74 L803.53,879.75 L804.14,882.71 L804.75,885.60 L805.36,888.42 L805.97,891.18 L806.58,893.88 L807.18,896.51 L807.79,899.08 L808.40,901.58 L809.01,904.03 L809.62,906.41 L810.23,908.73 L810.84,911.00 L811.44,913.20 L812.05,915.35 L812.66,917.45 L813.27,919.48 L813.88,921.47 L814.49,923.40 L815.10,925.28 L815.71,927.12 L816.31,928.90 L816.92,930.64 L817.53,932.33 L818.14,933.98 L818.75,935.58 L819.36,937.14 L819.97,938.66 L820.58,940.15 L821.18,941.59 L821.79,942.99 L822.40,944.36 L823.01,945.69 L823.62,946.99 L824.23,948.26 L824.84,949.49 L825.44,950.69 L826.05,951.87 L826.66,953.01 L827.27,954.12 L827.88,955.21 L828.49,956.27 L829.10,957.30 L829.71,958.31 L830.31,959.29 L830.92,960.25 L831.53,961.19 L832.14,962.10 L832.75,962.99 L833.36,963.86 L833.97,964.71 L834.57,965.54 L835.18,966.35 L835.79,967.15 L836.40,967.92 L837.01,968.68 L837.62,969.41 L838.23,970.14 L838.84,970.84 L839.44,971.53 L840.05,972.21 L840.66,972.87 L841.27,973.52 L841.88,974.15 L842.49,974.77 L843.10,975.37 L843.71,975.96 L844.31,976.54 L844.92,977.11 L845.53,977.67 L846.14,978.21 L846.75,978.74 L847.36,979.26 L847.97,979.77 L848.57,980.28 L849.18,980.77 L849.79,981.25 L850.40,981.72 L851.01,982.18 L851.62,982.63 L852.23,983.08 L852.84,983.51 L853.44,983.94 L854.05,984.36 L854.66,984.77 L855.27,985.17 L855.88,985.57 L856.49,985.96 L857.10,986.34 L857.70,986.71 L858.31,987.08 L858.92,987.44 L859.53,987.79 L860.14,988.14 L860.75,988.48 L861.36,988.82 L861.97,989.15 L862.57,989.47 L863.18,989.79 L863.79,990.10 L864.40,990.41 L865.01,990.71 L865.62,991.00 L866.23,991.29 L866.83,991.58 L867.44,991.86 L868.05,992.14 L868.66,992.41 L869.27,992.68 L869.88,992.94 L870.49,993.20 L871.10,993.46 L871.70,993.71 L872.31,993.95 L872.92,994.20 L873.53,994.44 L874.14,994.67 L874.75,994.90 L875.36,995.13 L875.97,995.35 L876.57,995.58 L877.18,995.79 L877.79,996.01 L878.40,996.22 L879.01,996.42 L879.62,996.63 L880.23,996.83 L880.83,997.03 L881.44,997.22 L882.05,997.42 L882.66,997.61 L883.27,997.79 L883.88,997.98 L884.49,998.16 L885.10,998.34 L885.70,998.52 L886.31,998.69 L886.92,998.86 L887.53,999.03 L888.14,999.20 L888.75,999.36 L889.36,999.52 L889.96,999.68 L890.57,999.84 L891.18,1000.00 L891.79,1000.15 L892.40,1000.30 L893.01,1000.45 L893.62,1000.60 L894.23,1000.74 L894.83,1000.89 L895.44,1001.03 L896.05,1001.17 L896.66,1001.30 L897.27,1001.44 L897.88,1001.57 L898.49,1001.71 L899.09,1001.84 L899.70,1001.97 L900.31,1002.09 L900.92,1002.22 L901.53,1002.34 L902.14,1002.47 L902.75,1002.59 L903.36,1002.71 L903.96,1002.83 L904.57,1002.94 L905.18,1003.06 L905.79,1003.17 L906.40,1003.28 L907.01,1003.40 L907.62,1003.50 L908.23,1003.61 L908.83,1003.72 L909.44,1003.83 L910.05,1003.93 L910.66,1004.03 L911.27,1004.14 L911.88,1004.24 L912.49,1004.34 L913.09,1004.44 L913.70,1004.53 L914.31,1004.63 L914.92,1004.72 L915.53,1004.82 L916.14,1004.91 L916.75,1005.00 L917.36,1005.09 L917.96,1005.18 L918.57,1005.27 L919.18,1005.36 L919.79,1005.45 L920.40,1005.53 L921.01,1005.62 L921.62,1005.70 L922.22,1005.79 L922.83,1005.87 L923.44,1005.95 L924.05,1006.03 L924.66,1006.11 L925.27,1006.19 L925.88,1006.27 L926.49,1006.34 L927.09,1006.42 L927.70,1006.50 L928.31,1006.57 L928.92,1006.65 L929.53,1006.72 L930.14,1006.79 L930.75,1006.86 L931.36,1006.93 L931.96,1007.00 L932.57,1007.07 L933.18,1007.14 L933.79,1007.21 L934.40,1007.28 L935.01,1007.34 L935.62,1007.41 L936.22,1007.48 L936.83,1007.54 L937.44,1007.60 L938.05,1007.67 L938.66,1007.73 L939.27,1007.79 L939.88,1007.85 L940.49,1007.92 L941.09,1007.98 L941.70,1008.04 L942.31,1008.09 L942.92,1008.15 L943.53,1008.21 L944.14,1008.27 L944.75,1008.33 L945.35,1008.38 L945.96,1008.44 L946.57,1008.49 L947.18,1008.55 L947.79,1008.60 L948.40,1008.66 L949.01,1008.71 L949.62,1008.76 L950.22,1008.82 L950.83,1008.87 L951.44,1008.92 L952.05,1008.97 L952.66,1009.02 L953.27,1009.07 L953.88,1009.12 L954.48,1009.17 L955.09,1009.22 L955.70,1009.27 L956.31,1009.31 L956.92,1009.36 L957.53,1009.41 L958.14,1009.45 L958.75,1009.50 L959.35,1009.55 L959.96,1009.59 L960.57,1009.64 L961.18,1009.68 L961.79,1009.73 L962.40,1009.77 L963.01,1009.81 L963.62,1009.86 L964.22,1009.90 L964.83,1009.94 L965.44,1009.98 L966.05,1010.02 L966.66,1010.07 L967.27,1010.11 L967.88,1010.15 L968.48,1010.19 L969.09,1010.23 L969.70,1010.27 L970.31,1010.31 L970.92,1010.34 L971.53,1010.38 L972.14,1010.42 L972.75,1010.46 L973.35,1010.50 L973.96,1010.53 L974.57,1010.57 L975.18,1010.61 L975.79,1010.64 L976.40,1010.68 L977.01,1010.72 L977.61,1010.75 L978.22,1010.79 L978.83,1010.82 L979.44,1010.86 L980.05,1010.89 L980.66,1010.93 L981.27,1010.96 L981.88,1010.99 L982.48,1011.03 L983.09,1011.06 L983.70,1011.09 L984.31,1011.12 L984.92,1011.16 L985.53,1011.19 L986.14,1011.22 L986.75,1011.25 L987.35,1011.28 L987.96,1011.31 L988.57,1011.35 L989.18,1011.38 L989.79,1011.41 L990.40,1011.44 L991.01,1011.47 L991.61,1011.50 L992.22,1011.53 L992.83,1011.56 L993.44,1011.58 L994.05,1011.61 L994.66,1011.64 L995.27,1011.67 L995.88,1011.70 L996.48,1011.73 L997.09,1011.75 L997.70,1011.78 L998.31,1011.81 L998.92,1011.84 L999.53,1011.86 L1000.14,1011.89 L1000.74,1011.92 L1001.35,1011.94 L1001.96,1011.97 L1002.57,1012.00 L1003.18,1012.02 L1003.79,1012.05 L1004.40,1012.07 L1005.01,1012.10 L1005.61,1012.12 L1006.22,1012.15 L1006.83,1012.17 L1007.44,1012.20 L1008.05,1012.22 L1008.66,1012.25 L1009.27,1012.27 L1009.87,1012.30 L1010.48,1012.32 L1011.09,1012.34 L1011.70,1012.37 L1012.31,1012.39 L1012.92,1012.41 L1013.53,1012.44 L1014.14,1012.46 L1014.74,1012.48 L1015.35,1012.50 L1015.96,1012.53 L1016.57,1012.55 L1017.18,1012.57 L1017.79,1012.59 L1018.40,1012.61 L1019.01,1012.64 L1019.61,1012.66 L1020.22,1012.68 L1020.83,1012.70 L1021.44,1012.72 L1022.05,1012.74 L1022.66,1012.76 L1023.27,1012.78 L1023.87,1012.80 L1024.48,1012.82 L1025.09,1012.84 L1025.70,1012.86 L1026.31,1012.88 L1026.92,1012.90 L1027.53,1012.92 L1028.14,1012.94 L1028.74,1012.96 L1029.35,1012.98 L1029.96,1013.00 L1030.57,1013.02 L1031.18,1013.04 L1031.79,1013.06 L1032.40,1013.08 L1033.00,1013.10 L1033.61,1013.12 L1034.22,1013.13 L1034.83,1013.15 L1035.44,1013.17 L1036.05,1013.19 L1036.66,1013.21 L1037.27,1013.22 L1037.87,1013.24 L1038.48,1013.26 L1039.09,1013.28 L1039.70,1013.29 L1040.31,1013.31 L1040.92,1013.33 L1041.53,1013.35 L1042.14,1013.36 L1042.74,1013.38 L1043.35,1013.40 L1043.96,1013.41 L1044.57,1013.43 L1045.18,1013.45 L1045.79,1013.46 L1046.40,1013.48 L1047.00,1013.50 L1047.61,1013.51 L1048.22,1013.53 L1048.83,1013.54 L1049.44,1013.56 L1050.05,1013.57 L1050.66,1013.59 L1051.27,1013.61 L1051.87,1013.62 L1052.48,1013.64 L1053.09,1013.65 L1053.70,1013.67 L1053.7,1015.5 Z" fill="#3a8fcb" fill-opacity="0.25"/><circle cx="689.25" cy="1002.84" r="7" fill="#3ecf50"/><circle cx="693.06" cy="1001.12" r="7" fill="#3ecf50"/><circle cx="697.85" cy="1001.21" r="7" fill="#3ecf50"/><circle cx="702.54" cy="997.91" r="7" fill="#3ecf50"/><circle cx="707.38" cy="1005.44" r="7" fill="#3ecf50"/><circle cx="711.36" cy="986.56" r="7" fill="#3ecf50"/><circle cx="716.47" cy="997.76" r="7" fill="#3ecf50"/><circle cx="720.63" cy="979.73" r="7" fill="#3ecf50"/><circle cx="725.38" cy="990.50" r="7" fill="#3ecf50"/><circle cx="728.96" cy="979.04" r="7" fill="#3ecf50"/><circle cx="734.23" cy="961.13" r="7" fill="#3ecf50"/><circle cx="739.16" cy="945.83" r="7" fill="#3ecf50"/><circle cx="743.63" cy="946.02" r="7" fill="#3ecf50"/><circle cx="748.13" cy="913.79" r="7" fill="#3ecf50"/><circle cx="751.79" cy="891.91" r="7" fill="#3ecf50"/><circle cx="756.32" cy="879.80" r="7" fill="#3ecf50"/><circle cx="761.61" cy="824.84" r="7" fill="#3ecf50"/><circle cx="765.69" cy="792.27" r="7" fill="#3ecf50"/><circle cx="770.68" cy="754.60" r="7" fill="#3ecf50"/><circle cx="776.16" cy="731.48" r="7" fill="#3ecf50"/><circle cx="779.59" cy="732.45" r="7" fill="#3ecf50"/><circle cx="785.17" cy="749.27" r="7" fill="#3ecf50"/><circle cx="788.84" cy="759.10" r="7" fill="#3ecf50"/><circle cx="793.69" cy="786.13" r="7" fill="#3ecf50"/><circle cx="798.30" cy="802.21" r="7" fill="#3ecf50"/><circle cx="802.16" cy="828.11" r="7" fill="#3ecf50"/><circle cx="806.76" cy="855.41" r="7" fill="#3ecf50"/><circle cx="811.87" cy="860.37" r="7" fill="#3ecf50"/><circle cx="816.26" cy="876.62" r="7" fill="#3ecf50"/><circle cx="820.91" cy="896.41" r="7" fill="#3ecf50"/><circle cx="824.87" cy="887.78" r="7" fill="#3ecf50"/><circle cx="830.24" cy="905.95" r="7" fill="#3ecf50"/><circle cx="834.71" cy="914.85" r="7" fill="#3ecf50"/><circle cx="839.11" cy="920.92" r="7" fill="#3ecf50"/><circle cx="843.35" cy="919.53" r="7" fill="#3ecf50"/><circle cx="847.93" cy="914.86" r="7" fill="#3ecf50"/><circle cx="853.15" cy="927.03" r="7" fill="#3ecf50"/><circle cx="856.54" cy="917.73" r="7" fill="#3ecf50"/><circle cx="862.12" cy="931.01" r="7" fill="#3ecf50"/><circle cx="866.24" cy="923.82" r="7" fill="#3ecf50"/><circle cx="870.46" cy="939.60" r="7" fill="#3ecf50"/><circle cx="875.87" cy="930.33" r="7" fill="#3ecf50"/><circle cx="880.51" cy="930.98" r="7" fill="#3ecf50"/><circle cx="885.05" cy="924.50" r="7" fill="#3ecf50"/><circle cx="889.67" cy="928.74" r="7" fill="#3ecf50"/><circle cx="894.48" cy="927.14" r="7" fill="#3ecf50"/><circle cx="898.20" cy="938.49" r="7" fill="#3ecf50"/><circle cx="903.59" cy="940.48" r="7" fill="#3ecf50"/><circle cx="907.24" cy="942.18" r="7" fill="#3ecf50"/><circle cx="911.89" cy="957.83" r="7" fill="#3ecf50"/><circle cx="917.08" cy="958.30" r="7" fill="#3ecf50"/><circle cx="921.37" cy="951.04" r="7" fill="#3ecf50"/><circle cx="926.32" cy="967.77" r="7" fill="#3ecf50"/><circle cx="930.61" cy="961.23" r="7" fill="#3ecf50"/><circle cx="935.40" cy="962.73" r="7" fill="#3ecf50"/><circle cx="939.81" cy="963.88" r="7" fill="#3ecf50"/><circle cx="943.58" cy="973.90" r="7" fill="#3ecf50"/><circle cx="948.73" cy="985.03" r="7" fill="#3ecf50"/><circle cx="953.01" cy="976.64" r="7" fill="#3ecf50"/><circle cx="957.17" cy="967.96" r="7" fill="#3ecf50"/><circle cx="961.44" cy="983.85" r="7" fill="#3ecf50"/><circle cx="966.27" cy="990.12" r="7" fill="#3ecf50"/><circle cx="972.01" cy="984.50" r="7" fill="#3ecf50"/><circle cx="976.68" cy="989.44" r="7" fill="#3ecf50"/><circle cx="980.99" cy="988.46" r="7" fill="#3ecf50"/><circle cx="985.47" cy="985.89" r="7" fill="#3ecf50"/><circle cx="989.88" cy="990.18" r="7" fill="#3ecf50"/><circle cx="994.09" cy="997.85" r="7" fill="#3ecf50"/><circle cx="998.79" cy="995.08" r="7" fill="#3ecf50"/><circle cx="1003.60" cy="1001.48" r="7" fill="#3ecf50"/><circle cx="1007.19" cy="1000.94" r="7" fill="#3ecf50"/><circle cx="1012.69" cy="994.56" r="7" fill="#3ecf50"/><circle cx="1017.12" cy="992.16" r="7" fill="#3ecf50"/><circle cx="1022.15" cy="999.50" r="7" fill="#3ecf50"/><circle cx="1026.02" cy="1008.59" r="7" fill="#3ecf50"/><circle cx="1030.55" cy="1005.88" r="7" fill="#3ecf50"/><circle cx="1034.69" cy="999.74" r="7" fill="#3ecf50"/><circle cx="1039.09" cy="1002.52" r="7" fill="#3ecf50"/><circle cx="1044.75" cy="1005.84" r="7" fill="#3ecf50"/><circle cx="1049.25" cy="999.14" r="7" fill="#3ecf50"/><circle cx="1053.00" cy="1002.88" r="7" fill="#3ecf50"/><path d="M689.10,1014.90 L689.71,1014.83 L690.32,1014.75 L690.93,1014.67 L691.53,1014.58 L692.14,1014.49 L692.75,1014.40 L693.36,1014.31 L693.97,1014.22 L694.58,1014.12 L695.19,1014.02 L695.80,1013.91 L696.40,1013.80 L697.01,1013.69 L697.62,1013.57 L698.23,1013.45 L698.84,1013.33 L699.45,1013.20 L700.06,1013.07 L700.66,1012.93 L701.27,1012.79 L701.88,1012.65 L702.49,1012.50 L703.10,1012.34 L703.71,1012.18 L704.32,1012.01 L704.93,1011.84 L705.53,1011.66 L706.14,1011.47 L706.75,1011.28 L707.36,1011.08 L707.97,1010.88 L708.58,1010.67 L709.19,1010.44 L709.80,1010.22 L710.40,1009.98 L711.01,1009.73 L711.62,1009.48 L712.23,1009.22 L712.84,1008.94 L713.45,1008.66 L714.06,1008.37 L714.66,1008.06 L715.27,1007.75 L715.88,1007.42 L716.49,1007.08 L717.10,1006.73 L717.71,1006.36 L718.32,1005.98 L718.93,1005.59 L719.53,1005.18 L720.14,1004.75 L720.75,1004.31 L721.36,1003.86 L721.97,1003.38 L722.58,1002.89 L723.19,1002.37 L723.79,1001.84 L724.40,1001.28 L725.01,1000.71 L725.62,1000.11 L726.23,999.49 L726.84,998.84 L727.45,998.17 L728.06,997.47 L728.66,996.74 L729.27,995.99 L729.88,995.20 L730.49,994.38 L731.10,993.53 L731.71,992.65 L732.32,991.73 L732.93,990.77 L733.53,989.78 L734.14,988.74 L734.75,987.67 L735.36,986.55 L735.97,985.39 L736.58,984.18 L737.19,982.92 L737.79,981.61 L738.40,980.25 L739.01,978.84 L739.62,977.37 L740.23,975.85 L740.84,974.26 L741.45,972.61 L742.06,970.90 L742.66,969.12 L743.27,967.27 L743.88,965.36 L744.49,963.37 L745.10,961.30 L745.71,959.16 L746.32,956.94 L746.92,954.64 L747.53,952.26 L748.14,949.79 L748.75,947.24 L749.36,944.60 L749.97,941.87 L750.58,939.04 L751.19,936.13 L751.79,933.12 L752.40,930.01 L753.01,926.81 L753.62,923.52 L754.23,920.13 L754.84,916.65 L755.45,913.07 L756.05,909.40 L756.66,905.64 L757.27,901.79 L757.88,897.86 L758.49,893.84 L759.10,889.74 L759.71,885.57 L760.32,881.33 L760.92,877.02 L761.53,872.66 L762.14,868.24 L762.75,863.79 L763.36,859.30 L763.97,854.79 L764.58,850.26 L765.19,845.73 L765.79,841.21 L766.40,836.70 L767.01,832.23 L767.62,827.81 L768.23,823.44 L768.84,819.15 L769.45,814.94 L770.05,810.84 L770.66,806.85 L771.27,803.00 L771.88,799.29 L772.49,795.74 L773.10,792.37 L773.71,789.19 L774.32,786.22 L774.92,783.47 L775.53,780.95 L776.14,778.68 L776.75,776.67 L777.36,774.93 L777.97,773.47 L778.58,772.31 L779.18,771.45 L779.79,770.90 L780.40,770.66 L781.01,770.75 L781.62,771.14 L782.23,771.85 L782.84,772.87 L783.45,774.18 L784.05,775.79 L784.66,777.66 L785.27,779.78 L785.88,782.14 L786.49,784.72 L787.10,787.49 L787.71,790.43 L788.32,793.52 L788.92,796.74 L789.53,800.08 L790.14,803.51 L790.75,807.02 L791.36,810.58 L791.97,814.19 L792.58,817.84 L793.18,821.50 L793.79,825.17 L794.40,828.85 L795.01,832.51 L795.62,836.16 L796.23,839.79 L796.84,843.38 L797.45,846.94 L798.05,850.46 L798.66,853.93 L799.27,857.36 L799.88,860.73 L800.49,864.05 L801.10,867.31 L801.71,870.51 L802.31,873.66 L802.92,876.74 L803.53,879.75 L804.14,882.71 L804.75,885.60 L805.36,888.42 L805.97,891.18 L806.58,893.88 L807.18,896.51 L807.79,899.08 L808.40,901.58 L809.01,904.03 L809.62,906.41 L810.23,908.73 L810.84,911.00 L811.44,913.20 L812.05,915.35 L812.66,917.45 L813.27,919.48 L813.88,921.47 L814.49,923.40 L815.10,925.28 L815.71,927.12 L816.31,928.90 L816.92,930.64 L817.53,932.33 L818.14,933.98 L818.75,935.58 L819.36,937.14 L819.97,938.66 L820.58,940.15 L821.18,941.59 L821.79,942.99 L822.40,944.36 L823.01,945.69 L823.62,946.99 L824.23,948.26 L824.84,949.49 L825.44,950.69 L826.05,951.87 L826.66,953.01 L827.27,954.12 L827.88,955.21 L828.49,956.27 L829.10,957.30 L829.71,958.31 L830.31,959.29 L830.92,960.25 L831.53,961.19 L832.14,962.10 L832.75,962.99 L833.36,963.86 L833.97,964.71 L834.57,965.54 L835.18,966.35 L835.79,967.15 L836.40,967.92 L837.01,968.68 L837.62,969.41 L838.23,970.14 L838.84,970.84 L839.44,971.53 L840.05,972.21 L840.66,972.87 L841.27,973.52 L841.88,974.15 L842.49,974.77 L843.10,975.37 L843.71,975.96 L844.31,976.54 L844.92,977.11 L845.53,977.67 L846.14,978.21 L846.75,978.74 L847.36,979.26 L847.97,979.77 L848.57,980.28 L849.18,980.77 L849.79,981.25 L850.40,981.72 L851.01,982.18 L851.62,982.63 L852.23,983.08 L852.84,983.51 L853.44,983.94 L854.05,984.36 L854.66,984.77 L855.27,985.17 L855.88,985.57 L856.49,985.96 L857.10,986.34 L857.70,986.71 L858.31,987.08 L858.92,987.44 L859.53,987.79 L860.14,988.14 L860.75,988.48 L861.36,988.82 L861.97,989.15 L862.57,989.47 L863.18,989.79 L863.79,990.10 L864.40,990.41 L865.01,990.71 L865.62,991.00 L866.23,991.29 L866.83,991.58 L867.44,991.86 L868.05,992.14 L868.66,992.41 L869.27,992.68 L869.88,992.94 L870.49,993.20 L871.10,993.46 L871.70,993.71 L872.31,993.95 L872.92,994.20 L873.53,994.44 L874.14,994.67 L874.75,994.90 L875.36,995.13 L875.97,995.35 L876.57,995.58 L877.18,995.79 L877.79,996.01 L878.40,996.22 L879.01,996.42 L879.62,996.63 L880.23,996.83 L880.83,997.03 L881.44,997.22 L882.05,997.42 L882.66,997.61 L883.27,997.79 L883.88,997.98 L884.49,998.16 L885.10,998.34 L885.70,998.52 L886.31,998.69 L886.92,998.86 L887.53,999.03 L888.14,999.20 L888.75,999.36 L889.36,999.52 L889.96,999.68 L890.57,999.84 L891.18,1000.00 L891.79,1000.15 L892.40,1000.30 L893.01,1000.45 L893.62,1000.60 L894.23,1000.74 L894.83,1000.89 L895.44,1001.03 L896.05,1001.17 L896.66,1001.30 L897.27,1001.44 L897.88,1001.57 L898.49,1001.71 L899.09,1001.84 L899.70,1001.97 L900.31,1002.09 L900.92,1002.22 L901.53,1002.34 L902.14,1002.47 L902.75,1002.59 L903.36,1002.71 L903.96,1002.83 L904.57,1002.94 L905.18,1003.06 L905.79,1003.17 L906.40,1003.28 L907.01,1003.40 L907.62,1003.50 L908.23,1003.61 L908.83,1003.72 L909.44,1003.83 L910.05,1003.93 L910.66,1004.03 L911.27,1004.14 L911.88,1004.24 L912.49,1004.34 L913.09,1004.44 L913.70,1004.53 L914.31,1004.63 L914.92,1004.72 L915.53,1004.82 L916.14,1004.91 L916.75,1005.00 L917.36,1005.09 L917.96,1005.18 L918.57,1005.27 L919.18,1005.36 L919.79,1005.45 L920.40,1005.53 L921.01,1005.62 L921.62,1005.70 L922.22,1005.79 L922.83,1005.87 L923.44,1005.95 L924.05,1006.03 L924.66,1006.11 L925.27,1006.19 L925.88,1006.27 L926.49,1006.34 L927.09,1006.42 L927.70,1006.50 L928.31,1006.57 L928.92,1006.65 L929.53,1006.72 L930.14,1006.79 L930.75,1006.86 L931.36,1006.93 L931.96,1007.00 L932.57,1007.07 L933.18,1007.14 L933.79,1007.21 L934.40,1007.28 L935.01,1007.34 L935.62,1007.41 L936.22,1007.48 L936.83,1007.54 L937.44,1007.60 L938.05,1007.67 L938.66,1007.73 L939.27,1007.79 L939.88,1007.85 L940.49,1007.92 L941.09,1007.98 L941.70,1008.04 L942.31,1008.09 L942.92,1008.15 L943.53,1008.21 L944.14,1008.27 L944.75,1008.33 L945.35,1008.38 L945.96,1008.44 L946.57,1008.49 L947.18,1008.55 L947.79,1008.60 L948.40,1008.66 L949.01,1008.71 L949.62,1008.76 L950.22,1008.82 L950.83,1008.87 L951.44,1008.92 L952.05,1008.97 L952.66,1009.02 L953.27,1009.07 L953.88,1009.12 L954.48,1009.17 L955.09,1009.22 L955.70,1009.27 L956.31,1009.31 L956.92,1009.36 L957.53,1009.41 L958.14,1009.45 L958.75,1009.50 L959.35,1009.55 L959.96,1009.59 L960.57,1009.64 L961.18,1009.68 L961.79,1009.73 L962.40,1009.77 L963.01,1009.81 L963.62,1009.86 L964.22,1009.90 L964.83,1009.94 L965.44,1009.98 L966.05,1010.02 L966.66,1010.07 L967.27,1010.11 L967.88,1010.15 L968.48,1010.19 L969.09,1010.23 L969.70,1010.27 L970.31,1010.31 L970.92,1010.34 L971.53,1010.38 L972.14,1010.42 L972.75,1010.46 L973.35,1010.50 L973.96,1010.53 L974.57,1010.57 L975.18,1010.61 L975.79,1010.64 L976.40,1010.68 L977.01,1010.72 L977.61,1010.75 L978.22,1010.79 L978.83,1010.82 L979.44,1010.86 L980.05,1010.89 L980.66,1010.93 L981.27,1010.96 L981.88,1010.99 L982.48,1011.03 L983.09,1011.06 L983.70,1011.09 L984.31,1011.12 L984.92,1011.16 L985.53,1011.19 L986.14,1011.22 L986.75,1011.25 L987.35,1011.28 L987.96,1011.31 L988.57,1011.35 L989.18,1011.38 L989.79,1011.41 L990.40,1011.44 L991.01,1011.47 L991.61,1011.50 L992.22,1011.53 L992.83,1011.56 L993.44,1011.58 L994.05,1011.61 L994.66,1011.64 L995.27,1011.67 L995.88,1011.70 L996.48,1011.73 L997.09,1011.75 L997.70,1011.78 L998.31,1011.81 L998.92,1011.84 L999.53,1011.86 L1000.14,1011.89 L1000.74,1011.92 L1001.35,1011.94 L1001.96,1011.97 L1002.57,1012.00 L1003.18,1012.02 L1003.79,1012.05 L1004.40,1012.07 L1005.01,1012.10 L1005.61,1012.12 L1006.22,1012.15 L1006.83,1012.17 L1007.44,1012.20 L1008.05,1012.22 L1008.66,1012.25 L1009.27,1012.27 L1009.87,1012.30 L1010.48,1012.32 L1011.09,1012.34 L1011.70,1012.37 L1012.31,1012.39 L1012.92,1012.41 L1013.53,1012.44 L1014.14,1012.46 L1014.74,1012.48 L1015.35,1012.50 L1015.96,1012.53 L1016.57,1012.55 L1017.18,1012.57 L1017.79,1012.59 L1018.40,1012.61 L1019.01,1012.64 L1019.61,1012.66 L1020.22,1012.68 L1020.83,1012.70 L1021.44,1012.72 L1022.05,1012.74 L1022.66,1012.76 L1023.27,1012.78 L1023.87,1012.80 L1024.48,1012.82 L1025.09,1012.84 L1025.70,1012.86 L1026.31,1012.88 L1026.92,1012.90 L1027.53,1012.92 L1028.14,1012.94 L1028.74,1012.96 L1029.35,1012.98 L1029.96,1013.00 L1030.57,1013.02 L1031.18,1013.04 L1031.79,1013.06 L1032.40,1013.08 L1033.00,1013.10 L1033.61,1013.12 L1034.22,1013.13 L1034.83,1013.15 L1035.44,1013.17 L1036.05,1013.19 L1036.66,1013.21 L1037.27,1013.22 L1037.87,1013.24 L1038.48,1013.26 L1039.09,1013.28 L1039.70,1013.29 L1040.31,1013.31 L1040.92,1013.33 L1041.53,1013.35 L1042.14,1013.36 L1042.74,1013.38 L1043.35,1013.40 L1043.96,1013.41 L1044.57,1013.43 L1045.18,1013.45 L1045.79,1013.46 L1046.40,1013.48 L1047.00,1013.50 L1047.61,1013.51 L1048.22,1013.53 L1048.83,1013.54 L1049.44,1013.56 L1050.05,1013.57 L1050.66,1013.59 L1051.27,1013.61 L1051.87,1013.62 L1052.48,1013.64 L1053.09,1013.65 L1053.70,1013.67" fill="none" stroke="#3a8fcb" stroke-width="3.7"/><path d="M689.1,1016.5 L689.10,1015.00 L689.71,1014.96 L690.32,1014.91 L690.93,1014.87 L691.53,1014.83 L692.14,1014.79 L692.75,1014.75 L693.36,1014.70 L693.97,1014.66 L694.58,1014.62 L695.19,1014.57 L695.80,1014.53 L696.40,1014.48 L697.01,1014.44 L697.62,1014.39 L698.23,1014.35 L698.84,1014.30 L699.45,1014.25 L700.06,1014.21 L700.66,1014.16 L701.27,1014.11 L701.88,1014.06 L702.49,1014.02 L703.10,1013.97 L703.71,1013.92 L704.32,1013.87 L704.93,1013.82 L705.53,1013.77 L706.14,1013.72 L706.75,1013.67 L707.36,1013.61 L707.97,1013.56 L708.58,1013.51 L709.19,1013.46 L709.80,1013.41 L710.40,1013.35 L711.01,1013.30 L711.62,1013.24 L712.23,1013.19 L712.84,1013.13 L713.45,1013.08 L714.06,1013.02 L714.66,1012.96 L715.27,1012.91 L715.88,1012.85 L716.49,1012.79 L717.10,1012.73 L717.71,1012.67 L718.32,1012.62 L718.93,1012.56 L719.53,1012.50 L720.14,1012.43 L720.75,1012.37 L721.36,1012.31 L721.97,1012.25 L722.58,1012.19 L723.19,1012.12 L723.79,1012.06 L724.40,1011.99 L725.01,1011.93 L725.62,1011.86 L726.23,1011.80 L726.84,1011.73 L727.45,1011.66 L728.06,1011.60 L728.66,1011.53 L729.27,1011.46 L729.88,1011.39 L730.49,1011.32 L731.10,1011.25 L731.71,1011.18 L732.32,1011.11 L732.93,1011.03 L733.53,1010.96 L734.14,1010.89 L734.75,1010.81 L735.36,1010.74 L735.97,1010.66 L736.58,1010.58 L737.19,1010.51 L737.79,1010.43 L738.40,1010.35 L739.01,1010.27 L739.62,1010.19 L740.23,1010.11 L740.84,1010.03 L741.45,1009.95 L742.06,1009.87 L742.66,1009.78 L743.27,1009.70 L743.88,1009.62 L744.49,1009.53 L745.10,1009.44 L745.71,1009.36 L746.32,1009.27 L746.92,1009.18 L747.53,1009.09 L748.14,1009.00 L748.75,1008.91 L749.36,1008.82 L749.97,1008.73 L750.58,1008.63 L751.19,1008.54 L751.79,1008.45 L752.40,1008.35 L753.01,1008.25 L753.62,1008.16 L754.23,1008.06 L754.84,1007.96 L755.45,1007.86 L756.05,1007.76 L756.66,1007.66 L757.27,1007.55 L757.88,1007.45 L758.49,1007.34 L759.10,1007.24 L759.71,1007.13 L760.32,1007.03 L760.92,1006.92 L761.53,1006.81 L762.14,1006.70 L762.75,1006.59 L763.36,1006.47 L763.97,1006.36 L764.58,1006.25 L765.19,1006.13 L765.79,1006.01 L766.40,1005.90 L767.01,1005.78 L767.62,1005.66 L768.23,1005.54 L768.84,1005.41 L769.45,1005.29 L770.05,1005.17 L770.66,1005.04 L771.27,1004.92 L771.88,1004.79 L772.49,1004.66 L773.10,1004.53 L773.71,1004.40 L774.32,1004.27 L774.92,1004.13 L775.53,1004.00 L776.14,1003.86 L776.75,1003.72 L777.36,1003.59 L777.97,1003.45 L778.58,1003.31 L779.18,1003.16 L779.79,1003.02 L780.40,1002.87 L781.01,1002.73 L781.62,1002.58 L782.23,1002.43 L782.84,1002.28 L783.45,1002.13 L784.05,1001.98 L784.66,1001.82 L785.27,1001.67 L785.88,1001.51 L786.49,1001.35 L787.10,1001.19 L787.71,1001.03 L788.32,1000.87 L788.92,1000.70 L789.53,1000.54 L790.14,1000.37 L790.75,1000.20 L791.36,1000.03 L791.97,999.86 L792.58,999.69 L793.18,999.51 L793.79,999.34 L794.40,999.16 L795.01,998.98 L795.62,998.80 L796.23,998.62 L796.84,998.43 L797.45,998.25 L798.05,998.06 L798.66,997.87 L799.27,997.68 L799.88,997.49 L800.49,997.29 L801.10,997.10 L801.71,996.90 L802.31,996.70 L802.92,996.50 L803.53,996.30 L804.14,996.10 L804.75,995.89 L805.36,995.68 L805.97,995.48 L806.58,995.26 L807.18,995.05 L807.79,994.84 L808.40,994.62 L809.01,994.41 L809.62,994.19 L810.23,993.97 L810.84,993.74 L811.44,993.52 L812.05,993.29 L812.66,993.07 L813.27,992.84 L813.88,992.61 L814.49,992.38 L815.10,992.14 L815.71,991.91 L816.31,991.67 L816.92,991.43 L817.53,991.19 L818.14,990.95 L818.75,990.70 L819.36,990.46 L819.97,990.21 L820.58,989.96 L821.18,989.71 L821.79,989.46 L822.40,989.21 L823.01,988.95 L823.62,988.69 L824.23,988.44 L824.84,988.18 L825.44,987.92 L826.05,987.65 L826.66,987.39 L827.27,987.12 L827.88,986.86 L828.49,986.59 L829.10,986.32 L829.71,986.05 L830.31,985.78 L830.92,985.51 L831.53,985.24 L832.14,984.96 L832.75,984.68 L833.36,984.41 L833.97,984.13 L834.57,983.85 L835.18,983.57 L835.79,983.29 L836.40,983.01 L837.01,982.73 L837.62,982.45 L838.23,982.16 L838.84,981.88 L839.44,981.60 L840.05,981.31 L840.66,981.03 L841.27,980.74 L841.88,980.46 L842.49,980.17 L843.10,979.89 L843.71,979.60 L844.31,979.32 L844.92,979.03 L845.53,978.75 L846.14,978.46 L846.75,978.18 L847.36,977.89 L847.97,977.61 L848.57,977.33 L849.18,977.04 L849.79,976.76 L850.40,976.48 L851.01,976.20 L851.62,975.92 L852.23,975.65 L852.84,975.37 L853.44,975.09 L854.05,974.82 L854.66,974.55 L855.27,974.28 L855.88,974.01 L856.49,973.74 L857.10,973.47 L857.70,973.21 L858.31,972.95 L858.92,972.69 L859.53,972.43 L860.14,972.18 L860.75,971.92 L861.36,971.67 L861.97,971.42 L862.57,971.18 L863.18,970.93 L863.79,970.69 L864.40,970.45 L865.01,970.22 L865.62,969.99 L866.23,969.76 L866.83,969.53 L867.44,969.31 L868.05,969.09 L868.66,968.87 L869.27,968.66 L869.88,968.45 L870.49,968.24 L871.10,968.04 L871.70,967.84 L872.31,967.64 L872.92,967.45 L873.53,967.26 L874.14,967.08 L874.75,966.90 L875.36,966.72 L875.97,966.55 L876.57,966.38 L877.18,966.22 L877.79,966.06 L878.40,965.91 L879.01,965.76 L879.62,965.61 L880.23,965.48 L880.83,965.34 L881.44,965.22 L882.05,965.09 L882.66,964.98 L883.27,964.87 L883.88,964.77 L884.49,964.67 L885.10,964.58 L885.70,964.50 L886.31,964.43 L886.92,964.37 L887.53,964.31 L888.14,964.27 L888.75,964.23 L889.36,964.20 L889.96,964.19 L890.57,964.18 L891.18,964.19 L891.79,964.21 L892.40,964.24 L893.01,964.28 L893.62,964.34 L894.23,964.41 L894.83,964.50 L895.44,964.60 L896.05,964.72 L896.66,964.85 L897.27,965.00 L897.88,965.17 L898.49,965.35 L899.09,965.56 L899.70,965.77 L900.31,966.01 L900.92,966.26 L901.53,966.54 L902.14,966.82 L902.75,967.13 L903.36,967.46 L903.96,967.80 L904.57,968.16 L905.18,968.53 L905.79,968.92 L906.40,969.33 L907.01,969.75 L907.62,970.19 L908.23,970.64 L908.83,971.10 L909.44,971.58 L910.05,972.07 L910.66,972.56 L911.27,973.07 L911.88,973.59 L912.49,974.11 L913.09,974.65 L913.70,975.19 L914.31,975.73 L914.92,976.28 L915.53,976.84 L916.14,977.40 L916.75,977.96 L917.36,978.52 L917.96,979.08 L918.57,979.65 L919.18,980.21 L919.79,980.78 L920.40,981.34 L921.01,981.90 L921.62,982.45 L922.22,983.01 L922.83,983.56 L923.44,984.11 L924.05,984.65 L924.66,985.19 L925.27,985.72 L925.88,986.25 L926.49,986.77 L927.09,987.29 L927.70,987.80 L928.31,988.30 L928.92,988.80 L929.53,989.29 L930.14,989.78 L930.75,990.26 L931.36,990.73 L931.96,991.20 L932.57,991.66 L933.18,992.11 L933.79,992.56 L934.40,992.99 L935.01,993.43 L935.62,993.85 L936.22,994.27 L936.83,994.68 L937.44,995.09 L938.05,995.49 L938.66,995.88 L939.27,996.26 L939.88,996.64 L940.49,997.02 L941.09,997.38 L941.70,997.74 L942.31,998.10 L942.92,998.45 L943.53,998.79 L944.14,999.12 L944.75,999.46 L945.35,999.78 L945.96,1000.10 L946.57,1000.41 L947.18,1000.72 L947.79,1001.03 L948.40,1001.32 L949.01,1001.62 L949.62,1001.90 L950.22,1002.19 L950.83,1002.46 L951.44,1002.74 L952.05,1003.01 L952.66,1003.27 L953.27,1003.53 L953.88,1003.78 L954.48,1004.03 L955.09,1004.28 L955.70,1004.52 L956.31,1004.76 L956.92,1004.99 L957.53,1005.22 L958.14,1005.45 L958.75,1005.67 L959.35,1005.89 L959.96,1006.10 L960.57,1006.31 L961.18,1006.52 L961.79,1006.72 L962.40,1006.92 L963.01,1007.12 L963.62,1007.31 L964.22,1007.50 L964.83,1007.69 L965.44,1007.88 L966.05,1008.06 L966.66,1008.24 L967.27,1008.41 L967.88,1008.58 L968.48,1008.75 L969.09,1008.92 L969.70,1009.09 L970.31,1009.25 L970.92,1009.41 L971.53,1009.56 L972.14,1009.72 L972.75,1009.87 L973.35,1010.02 L973.96,1010.16 L974.57,1010.31 L975.18,1010.45 L975.79,1010.59 L976.40,1010.73 L977.01,1010.86 L977.61,1011.00 L978.22,1011.13 L978.83,1011.26 L979.44,1011.39 L980.05,1011.51 L980.66,1011.64 L981.27,1011.76 L981.88,1011.88 L982.48,1012.00 L983.09,1012.11 L983.70,1012.23 L984.31,1012.34 L984.92,1012.45 L985.53,1012.56 L986.14,1012.67 L986.75,1012.78 L987.35,1012.88 L987.96,1012.98 L988.57,1013.09 L989.18,1013.19 L989.79,1013.28 L990.40,1013.38 L991.01,1013.48 L991.61,1013.57 L992.22,1013.67 L992.83,1013.76 L993.44,1013.85 L994.05,1013.94 L994.66,1014.03 L995.27,1014.11 L995.88,1014.20 L996.48,1014.28 L997.09,1014.37 L997.70,1014.45 L998.31,1014.53 L998.92,1014.61 L999.53,1014.69 L1000.14,1014.77 L1000.74,1014.84 L1001.35,1014.92 L1001.96,1014.99 L1002.57,1015.07 L1003.18,1015.14 L1003.79,1015.21 L1004.40,1015.28 L1005.01,1015.35 L1005.61,1015.42 L1006.22,1015.49 L1006.83,1015.56 L1007.44,1015.62 L1008.05,1015.69 L1008.66,1015.75 L1009.27,1015.82 L1009.87,1015.88 L1010.48,1015.94 L1011.09,1016.00 L1011.70,1016.06 L1012.31,1016.12 L1012.92,1016.18 L1013.53,1016.24 L1014.14,1016.30 L1014.74,1016.36 L1015.35,1016.41 L1015.96,1016.47 L1016.57,1016.52 L1017.18,1016.58 L1017.79,1016.63 L1018.40,1016.68 L1019.01,1016.73 L1019.61,1016.79 L1020.22,1016.84 L1020.83,1016.89 L1021.44,1016.94 L1022.05,1016.99 L1022.66,1017.03 L1023.27,1017.08 L1023.87,1017.13 L1024.48,1017.18 L1025.09,1017.22 L1025.70,1017.27 L1026.31,1017.31 L1026.92,1017.36 L1027.53,1017.40 L1028.14,1017.45 L1028.74,1017.49 L1029.35,1017.53 L1029.96,1017.57 L1030.57,1017.61 L1031.18,1017.66 L1031.79,1017.70 L1032.40,1017.74 L1033.00,1017.78 L1033.61,1017.82 L1034.22,1017.85 L1034.83,1017.89 L1035.44,1017.93 L1036.05,1017.97 L1036.66,1018.00 L1037.27,1018.04 L1037.87,1018.08 L1038.48,1018.11 L1039.09,1018.15 L1039.70,1018.18 L1040.31,1018.22 L1040.92,1018.25 L1041.53,1018.29 L1042.14,1018.32 L1042.74,1018.35 L1043.35,1018.39 L1043.96,1018.42 L1044.57,1018.45 L1045.18,1018.48 L1045.79,1018.52 L1046.40,1018.55 L1047.00,1018.58 L1047.61,1018.61 L1048.22,1018.64 L1048.83,1018.67 L1049.44,1018.70 L1050.05,1018.73 L1050.66,1018.76 L1051.27,1018.78 L1051.87,1018.81 L1052.48,1018.84 L1053.09,1018.87 L1053.70,1018.90 L1053.7,1018.5 Z" fill="#ff4a4a" fill-opacity="0.25"/><path d="M689.10,1015.00 L689.71,1014.96 L690.32,1014.91 L690.93,1014.87 L691.53,1014.83 L692.14,1014.79 L692.75,1014.75 L693.36,1014.70 L693.97,1014.66 L694.58,1014.62 L695.19,1014.57 L695.80,1014.53 L696.40,1014.48 L697.01,1014.44 L697.62,1014.39 L698.23,1014.35 L698.84,1014.30 L699.45,1014.25 L700.06,1014.21 L700.66,1014.16 L701.27,1014.11 L701.88,1014.06 L702.49,1014.02 L703.10,1013.97 L703.71,1013.92 L704.32,1013.87 L704.93,1013.82 L705.53,1013.77 L706.14,1013.72 L706.75,1013.67 L707.36,1013.61 L707.97,1013.56 L708.58,1013.51 L709.19,1013.46 L709.80,1013.41 L710.40,1013.35 L711.01,1013.30 L711.62,1013.24 L712.23,1013.19 L712.84,1013.13 L713.45,1013.08 L714.06,1013.02 L714.66,1012.96 L715.27,1012.91 L715.88,1012.85 L716.49,1012.79 L717.10,1012.73 L717.71,1012.67 L718.32,1012.62 L718.93,1012.56 L719.53,1012.50 L720.14,1012.43 L720.75,1012.37 L721.36,1012.31 L721.97,1012.25 L722.58,1012.19 L723.19,1012.12 L723.79,1012.06 L724.40,1011.99 L725.01,1011.93 L725.62,1011.86 L726.23,1011.80 L726.84,1011.73 L727.45,1011.66 L728.06,1011.60 L728.66,1011.53 L729.27,1011.46 L729.88,1011.39 L730.49,1011.32 L731.10,1011.25 L731.71,1011.18 L732.32,1011.11 L732.93,1011.03 L733.53,1010.96 L734.14,1010.89 L734.75,1010.81 L735.36,1010.74 L735.97,1010.66 L736.58,1010.58 L737.19,1010.51 L737.79,1010.43 L738.40,1010.35 L739.01,1010.27 L739.62,1010.19 L740.23,1010.11 L740.84,1010.03 L741.45,1009.95 L742.06,1009.87 L742.66,1009.78 L743.27,1009.70 L743.88,1009.62 L744.49,1009.53 L745.10,1009.44 L745.71,1009.36 L746.32,1009.27 L746.92,1009.18 L747.53,1009.09 L748.14,1009.00 L748.75,1008.91 L749.36,1008.82 L749.97,1008.73 L750.58,1008.63 L751.19,1008.54 L751.79,1008.45 L752.40,1008.35 L753.01,1008.25 L753.62,1008.16 L754.23,1008.06 L754.84,1007.96 L755.45,1007.86 L756.05,1007.76 L756.66,1007.66 L757.27,1007.55 L757.88,1007.45 L758.49,1007.34 L759.10,1007.24 L759.71,1007.13 L760.32,1007.03 L760.92,1006.92 L761.53,1006.81 L762.14,1006.70 L762.75,1006.59 L763.36,1006.47 L763.97,1006.36 L764.58,1006.25 L765.19,1006.13 L765.79,1006.01 L766.40,1005.90 L767.01,1005.78 L767.62,1005.66 L768.23,1005.54 L768.84,1005.41 L769.45,1005.29 L770.05,1005.17 L770.66,1005.04 L771.27,1004.92 L771.88,1004.79 L772.49,1004.66 L773.10,1004.53 L773.71,1004.40 L774.32,1004.27 L774.92,1004.13 L775.53,1004.00 L776.14,1003.86 L776.75,1003.72 L777.36,1003.59 L777.97,1003.45 L778.58,1003.31 L779.18,1003.16 L779.79,1003.02 L780.40,1002.87 L781.01,1002.73 L781.62,1002.58 L782.23,1002.43 L782.84,1002.28 L783.45,1002.13 L784.05,1001.98 L784.66,1001.82 L785.27,1001.67 L785.88,1001.51 L786.49,1001.35 L787.10,1001.19 L787.71,1001.03 L788.32,1000.87 L788.92,1000.70 L789.53,1000.54 L790.14,1000.37 L790.75,1000.20 L791.36,1000.03 L791.97,999.86 L792.58,999.69 L793.18,999.51 L793.79,999.34 L794.40,999.16 L795.01,998.98 L795.62,998.80 L796.23,998.62 L796.84,998.43 L797.45,998.25 L798.05,998.06 L798.66,997.87 L799.27,997.68 L799.88,997.49 L800.49,997.29 L801.10,997.10 L801.71,996.90 L802.31,996.70 L802.92,996.50 L803.53,996.30 L804.14,996.10 L804.75,995.89 L805.36,995.68 L805.97,995.48 L806.58,995.26 L807.18,995.05 L807.79,994.84 L808.40,994.62 L809.01,994.41 L809.62,994.19 L810.23,993.97 L810.84,993.74 L811.44,993.52 L812.05,993.29 L812.66,993.07 L813.27,992.84 L813.88,992.61 L814.49,992.38 L815.10,992.14 L815.71,991.91 L816.31,991.67 L816.92,991.43 L817.53,991.19 L818.14,990.95 L818.75,990.70 L819.36,990.46 L819.97,990.21 L820.58,989.96 L821.18,989.71 L821.79,989.46 L822.40,989.21 L823.01,988.95 L823.62,988.69 L824.23,988.44 L824.84,988.18 L825.44,987.92 L826.05,987.65 L826.66,987.39 L827.27,987.12 L827.88,986.86 L828.49,986.59 L829.10,986.32 L829.71,986.05 L830.31,985.78 L830.92,985.51 L831.53,985.24 L832.14,984.96 L832.75,984.68 L833.36,984.41 L833.97,984.13 L834.57,983.85 L835.18,983.57 L835.79,983.29 L836.40,983.01 L837.01,982.73 L837.62,982.45 L838.23,982.16 L838.84,981.88 L839.44,981.60 L840.05,981.31 L840.66,981.03 L841.27,980.74 L841.88,980.46 L842.49,980.17 L843.10,979.89 L843.71,979.60 L844.31,979.32 L844.92,979.03 L845.53,978.75 L846.14,978.46 L846.75,978.18 L847.36,977.89 L847.97,977.61 L848.57,977.33 L849.18,977.04 L849.79,976.76 L850.40,976.48 L851.01,976.20 L851.62,975.92 L852.23,975.65 L852.84,975.37 L853.44,975.09 L854.05,974.82 L854.66,974.55 L855.27,974.28 L855.88,974.01 L856.49,973.74 L857.10,973.47 L857.70,973.21 L858.31,972.95 L858.92,972.69 L859.53,972.43 L860.14,972.18 L860.75,971.92 L861.36,971.67 L861.97,971.42 L862.57,971.18 L863.18,970.93 L863.79,970.69 L864.40,970.45 L865.01,970.22 L865.62,969.99 L866.23,969.76 L866.83,969.53 L867.44,969.31 L868.05,969.09 L868.66,968.87 L869.27,968.66 L869.88,968.45 L870.49,968.24 L871.10,968.04 L871.70,967.84 L872.31,967.64 L872.92,967.45 L873.53,967.26 L874.14,967.08 L874.75,966.90 L875.36,966.72 L875.97,966.55 L876.57,966.38 L877.18,966.22 L877.79,966.06 L878.40,965.91 L879.01,965.76 L879.62,965.61 L880.23,965.48 L880.83,965.34 L881.44,965.22 L882.05,965.09 L882.66,964.98 L883.27,964.87 L883.88,964.77 L884.49,964.67 L885.10,964.58 L885.70,964.50 L886.31,964.43 L886.92,964.37 L887.53,964.31 L888.14,964.27 L888.75,964.23 L889.36,964.20 L889.96,964.19 L890.57,964.18 L891.18,964.19 L891.79,964.21 L892.40,964.24 L893.01,964.28 L893.62,964.34 L894.23,964.41 L894.83,964.50 L895.44,964.60 L896.05,964.72 L896.66,964.85 L897.27,965.00 L897.88,965.17 L898.49,965.35 L899.09,965.56 L899.70,965.77 L900.31,966.01 L900.92,966.26 L901.53,966.54 L902.14,966.82 L902.75,967.13 L903.36,967.46 L903.96,967.80 L904.57,968.16 L905.18,968.53 L905.79,968.92 L906.40,969.33 L907.01,969.75 L907.62,970.19 L908.23,970.64 L908.83,971.10 L909.44,971.58 L910.05,972.07 L910.66,972.56 L911.27,973.07 L911.88,973.59 L912.49,974.11 L913.09,974.65 L913.70,975.19 L914.31,975.73 L914.92,976.28 L915.53,976.84 L916.14,977.40 L916.75,977.96 L917.36,978.52 L917.96,979.08 L918.57,979.65 L919.18,980.21 L919.79,980.78 L920.40,981.34 L921.01,981.90 L921.62,982.45 L922.22,983.01 L922.83,983.56 L923.44,984.11 L924.05,984.65 L924.66,985.19 L925.27,985.72 L925.88,986.25 L926.49,986.77 L927.09,987.29 L927.70,987.80 L928.31,988.30 L928.92,988.80 L929.53,989.29 L930.14,989.78 L930.75,990.26 L931.36,990.73 L931.96,991.20 L932.57,991.66 L933.18,992.11 L933.79,992.56 L934.40,992.99 L935.01,993.43 L935.62,993.85 L936.22,994.27 L936.83,994.68 L937.44,995.09 L938.05,995.49 L938.66,995.88 L939.27,996.26 L939.88,996.64 L940.49,997.02 L941.09,997.38 L941.70,997.74 L942.31,998.10 L942.92,998.45 L943.53,998.79 L944.14,999.12 L944.75,999.46 L945.35,999.78 L945.96,1000.10 L946.57,1000.41 L947.18,1000.72 L947.79,1001.03 L948.40,1001.32 L949.01,1001.62 L949.62,1001.90 L950.22,1002.19 L950.83,1002.46 L951.44,1002.74 L952.05,1003.01 L952.66,1003.27 L953.27,1003.53 L953.88,1003.78 L954.48,1004.03 L955.09,1004.28 L955.70,1004.52 L956.31,1004.76 L956.92,1004.99 L957.53,1005.22 L958.14,1005.45 L958.75,1005.67 L959.35,1005.89 L959.96,1006.10 L960.57,1006.31 L961.18,1006.52 L961.79,1006.72 L962.40,1006.92 L963.01,1007.12 L963.62,1007.31 L964.22,1007.50 L964.83,1007.69 L965.44,1007.88 L966.05,1008.06 L966.66,1008.24 L967.27,1008.41 L967.88,1008.58 L968.48,1008.75 L969.09,1008.92 L969.70,1009.09 L970.31,1009.25 L970.92,1009.41 L971.53,1009.56 L972.14,1009.72 L972.75,1009.87 L973.35,1010.02 L973.96,1010.16 L974.57,1010.31 L975.18,1010.45 L975.79,1010.59 L976.40,1010.73 L977.01,1010.86 L977.61,1011.00 L978.22,1011.13 L978.83,1011.26 L979.44,1011.39 L980.05,1011.51 L980.66,1011.64 L981.27,1011.76 L981.88,1011.88 L982.48,1012.00 L983.09,1012.11 L983.70,1012.23 L984.31,1012.34 L984.92,1012.45 L985.53,1012.56 L986.14,1012.67 L986.75,1012.78 L987.35,1012.88 L987.96,1012.98 L988.57,1013.09 L989.18,1013.19 L989.79,1013.28 L990.40,1013.38 L991.01,1013.48 L991.61,1013.57 L992.22,1013.67 L992.83,1013.76 L993.44,1013.85 L994.05,1013.94 L994.66,1014.03 L995.27,1014.11 L995.88,1014.20 L996.48,1014.28 L997.09,1014.37 L997.70,1014.45 L998.31,1014.53 L998.92,1014.61 L999.53,1014.69 L1000.14,1014.77 L1000.74,1014.84 L1001.35,1014.92 L1001.96,1014.99 L1002.57,1015.07 L1003.18,1015.14 L1003.79,1015.21 L1004.40,1015.28 L1005.01,1015.35 L1005.61,1015.42 L1006.22,1015.49 L1006.83,1015.56 L1007.44,1015.62 L1008.05,1015.69 L1008.66,1015.75 L1009.27,1015.82 L1009.87,1015.88 L1010.48,1015.94 L1011.09,1016.00 L1011.70,1016.06 L1012.31,1016.12 L1012.92,1016.18 L1013.53,1016.24 L1014.14,1016.30 L1014.74,1016.36 L1015.35,1016.41 L1015.96,1016.47 L1016.57,1016.52 L1017.18,1016.58 L1017.79,1016.63 L1018.40,1016.68 L1019.01,1016.73 L1019.61,1016.79 L1020.22,1016.84 L1020.83,1016.89 L1021.44,1016.94 L1022.05,1016.99 L1022.66,1017.03 L1023.27,1017.08 L1023.87,1017.13 L1024.48,1017.18 L1025.09,1017.22 L1025.70,1017.27 L1026.31,1017.31 L1026.92,1017.36 L1027.53,1017.40 L1028.14,1017.45 L1028.74,1017.49 L1029.35,1017.53 L1029.96,1017.57 L1030.57,1017.61 L1031.18,1017.66 L1031.79,1017.70 L1032.40,1017.74 L1033.00,1017.78 L1033.61,1017.82 L1034.22,1017.85 L1034.83,1017.89 L1035.44,1017.93 L1036.05,1017.97 L1036.66,1018.00 L1037.27,1018.04 L1037.87,1018.08 L1038.48,1018.11 L1039.09,1018.15 L1039.70,1018.18 L1040.31,1018.22 L1040.92,1018.25 L1041.53,1018.29 L1042.14,1018.32 L1042.74,1018.35 L1043.35,1018.39 L1043.96,1018.42 L1044.57,1018.45 L1045.18,1018.48 L1045.79,1018.52 L1046.40,1018.55 L1047.00,1018.58 L1047.61,1018.61 L1048.22,1018.64 L1048.83,1018.67 L1049.44,1018.70 L1050.05,1018.73 L1050.66,1018.76 L1051.27,1018.78 L1051.87,1018.81 L1052.48,1018.84 L1053.09,1018.87 L1053.70,1018.90" fill="none" stroke="#ff4a4a" stroke-width="3.7"/><path d="M689.10,1005.39 L689.71,1005.25 L690.32,1005.11 L690.93,1004.97 L691.53,1004.82 L692.14,1004.67 L692.75,1004.52 L693.36,1004.37 L693.97,1004.21 L694.58,1004.04 L695.19,1003.88 L695.80,1003.70 L696.40,1003.53 L697.01,1003.35 L697.62,1003.17 L698.23,1002.98 L698.84,1002.78 L699.45,1002.59 L700.06,1002.38 L700.66,1002.18 L701.27,1001.96 L701.88,1001.74 L702.49,1001.52 L703.10,1001.29 L703.71,1001.05 L704.32,1000.81 L704.93,1000.56 L705.53,1000.30 L706.14,1000.04 L706.75,999.77 L707.36,999.49 L707.97,999.20 L708.58,998.91 L709.19,998.60 L709.80,998.29 L710.40,997.97 L711.01,997.64 L711.62,997.30 L712.23,996.95 L712.84,996.58 L713.45,996.21 L714.06,995.83 L714.66,995.43 L715.27,995.02 L715.88,994.60 L716.49,994.16 L717.10,993.71 L717.71,993.25 L718.32,992.77 L718.93,992.27 L719.53,991.76 L720.14,991.23 L720.75,990.68 L721.36,990.12 L721.97,989.53 L722.58,988.93 L723.19,988.30 L723.79,987.65 L724.40,986.98 L725.01,986.29 L725.62,985.57 L726.23,984.82 L726.84,984.05 L727.45,983.25 L728.06,982.42 L728.66,981.57 L729.27,980.68 L729.88,979.75 L730.49,978.80 L731.10,977.81 L731.71,976.78 L732.32,975.71 L732.93,974.60 L733.53,973.45 L734.14,972.26 L734.75,971.02 L735.36,969.74 L735.97,968.41 L736.58,967.02 L737.19,965.59 L737.79,964.10 L738.40,962.55 L739.01,960.94 L739.62,959.27 L740.23,957.54 L740.84,955.74 L741.45,953.88 L742.06,951.94 L742.66,949.93 L743.27,947.84 L743.88,945.68 L744.49,943.44 L745.10,941.11 L745.71,938.70 L746.32,936.19 L746.92,933.60 L747.53,930.91 L748.14,928.13 L748.75,925.25 L749.36,922.27 L749.97,919.19 L750.58,916.00 L751.19,912.71 L751.79,909.31 L752.40,905.81 L753.01,902.19 L753.62,898.46 L754.23,894.62 L754.84,890.68 L755.45,886.62 L756.05,882.45 L756.66,878.18 L757.27,873.80 L757.88,869.32 L758.49,864.75 L759.10,860.08 L759.71,855.32 L760.32,850.48 L760.92,845.56 L761.53,840.58 L762.14,835.54 L762.75,830.45 L763.36,825.32 L763.97,820.16 L764.58,814.99 L765.19,809.82 L765.79,804.66 L766.40,799.54 L767.01,794.46 L767.62,789.45 L768.23,784.51 L768.84,779.68 L769.45,774.97 L770.05,770.40 L770.66,765.98 L771.27,761.75 L771.88,757.71 L772.49,753.89 L773.10,750.31 L773.71,746.98 L774.32,743.92 L774.92,741.15 L775.53,738.68 L776.14,736.53 L776.75,734.70 L777.36,733.20 L777.97,732.04 L778.58,731.22 L779.18,730.74 L779.79,730.60 L780.40,730.79 L781.01,731.31 L781.62,732.12 L782.23,733.24 L782.84,734.62 L783.45,736.27 L784.05,738.15 L784.66,740.25 L785.27,742.55 L785.88,745.03 L786.49,747.66 L787.10,750.43 L787.71,753.32 L788.32,756.32 L788.92,759.41 L789.53,762.58 L790.14,765.81 L790.75,769.09 L791.36,772.42 L791.97,775.78 L792.58,779.16 L793.18,782.55 L793.79,785.95 L794.40,789.36 L795.01,792.75 L795.62,796.13 L796.23,799.49 L796.84,802.83 L797.45,806.14 L798.05,809.42 L798.66,812.65 L799.27,815.85 L799.88,819.00 L800.49,822.10 L801.10,825.15 L801.71,828.15 L802.31,831.10 L802.92,833.98 L803.53,836.82 L804.14,839.59 L804.75,842.30 L805.36,844.95 L805.97,847.55 L806.58,850.08 L807.18,852.55 L807.79,854.96 L808.40,857.31 L809.01,859.61 L809.62,861.84 L810.23,864.01 L810.84,866.13 L811.44,868.19 L812.05,870.19 L812.66,872.13 L813.27,874.03 L813.88,875.87 L814.49,877.65 L815.10,879.39 L815.71,881.07 L816.31,882.71 L816.92,884.30 L817.53,885.84 L818.14,887.33 L818.75,888.78 L819.36,890.18 L819.97,891.55 L820.58,892.87 L821.18,894.15 L821.79,895.39 L822.40,896.59 L823.01,897.75 L823.62,898.88 L824.23,899.97 L824.84,901.02 L825.44,902.04 L826.05,903.03 L826.66,903.98 L827.27,904.91 L827.88,905.80 L828.49,906.66 L829.10,907.50 L829.71,908.30 L830.31,909.08 L830.92,909.83 L831.53,910.55 L832.14,911.25 L832.75,911.92 L833.36,912.57 L833.97,913.20 L834.57,913.80 L835.18,914.38 L835.79,914.94 L836.40,915.47 L837.01,915.99 L837.62,916.48 L838.23,916.96 L838.84,917.41 L839.44,917.85 L840.05,918.27 L840.66,918.67 L841.27,919.06 L841.88,919.42 L842.49,919.77 L843.10,920.11 L843.71,920.43 L844.31,920.73 L844.92,921.02 L845.53,921.30 L846.14,921.56 L846.75,921.81 L847.36,922.04 L847.97,922.27 L848.57,922.48 L849.18,922.68 L849.79,922.86 L850.40,923.04 L851.01,923.21 L851.62,923.36 L852.23,923.51 L852.84,923.64 L853.44,923.77 L854.05,923.89 L854.66,923.99 L855.27,924.10 L855.88,924.19 L856.49,924.27 L857.10,924.35 L857.70,924.42 L858.31,924.49 L858.92,924.55 L859.53,924.60 L860.14,924.65 L860.75,924.69 L861.36,924.72 L861.97,924.76 L862.57,924.79 L863.18,924.81 L863.79,924.83 L864.40,924.85 L865.01,924.87 L865.62,924.88 L866.23,924.89 L866.83,924.90 L867.44,924.91 L868.05,924.92 L868.66,924.93 L869.27,924.94 L869.88,924.94 L870.49,924.95 L871.10,924.96 L871.70,924.97 L872.31,924.98 L872.92,925.00 L873.53,925.01 L874.14,925.03 L874.75,925.05 L875.36,925.08 L875.97,925.11 L876.57,925.15 L877.18,925.19 L877.79,925.24 L878.40,925.29 L879.01,925.35 L879.62,925.42 L880.23,925.49 L880.83,925.58 L881.44,925.67 L882.05,925.77 L882.66,925.89 L883.27,926.01 L883.88,926.15 L884.49,926.31 L885.10,926.47 L885.70,926.66 L886.31,926.85 L886.92,927.07 L887.53,927.30 L888.14,927.56 L888.75,927.83 L889.36,928.12 L889.96,928.43 L890.57,928.77 L891.18,929.13 L891.79,929.50 L892.40,929.90 L893.01,930.33 L893.62,930.77 L894.23,931.23 L894.83,931.71 L895.44,932.21 L896.05,932.72 L896.66,933.25 L897.27,933.79 L897.88,934.34 L898.49,934.89 L899.09,935.45 L899.70,936.02 L900.31,936.59 L900.92,937.16 L901.53,937.73 L902.14,938.30 L902.75,938.86 L903.36,939.42 L903.96,939.98 L904.57,940.53 L905.18,941.07 L905.79,941.61 L906.40,942.15 L907.01,942.68 L907.62,943.20 L908.23,943.72 L908.83,944.24 L909.44,944.75 L910.05,945.25 L910.66,945.76 L911.27,946.26 L911.88,946.75 L912.49,947.25 L913.09,947.74 L913.70,948.23 L914.31,948.72 L914.92,949.20 L915.53,949.69 L916.14,950.17 L916.75,950.65 L917.36,951.13 L917.96,951.61 L918.57,952.09 L919.18,952.57 L919.79,953.05 L920.40,953.52 L921.01,954.00 L921.62,954.47 L922.22,954.95 L922.83,955.42 L923.44,955.89 L924.05,956.36 L924.66,956.84 L925.27,957.30 L925.88,957.77 L926.49,958.24 L927.09,958.71 L927.70,959.17 L928.31,959.63 L928.92,960.10 L929.53,960.56 L930.14,961.01 L930.75,961.47 L931.36,961.93 L931.96,962.38 L932.57,962.83 L933.18,963.28 L933.79,963.73 L934.40,964.17 L935.01,964.62 L935.62,965.06 L936.22,965.50 L936.83,965.93 L937.44,966.37 L938.05,966.80 L938.66,967.23 L939.27,967.65 L939.88,968.08 L940.49,968.50 L941.09,968.91 L941.70,969.33 L942.31,969.74 L942.92,970.15 L943.53,970.56 L944.14,970.96 L944.75,971.36 L945.35,971.76 L945.96,972.16 L946.57,972.55 L947.18,972.94 L947.79,973.32 L948.40,973.70 L949.01,974.08 L949.62,974.46 L950.22,974.83 L950.83,975.20 L951.44,975.57 L952.05,975.93 L952.66,976.29 L953.27,976.65 L953.88,977.01 L954.48,977.36 L955.09,977.71 L955.70,978.05 L956.31,978.39 L956.92,978.73 L957.53,979.07 L958.14,979.40 L958.75,979.73 L959.35,980.05 L959.96,980.38 L960.57,980.70 L961.18,981.01 L961.79,981.33 L962.40,981.64 L963.01,981.95 L963.62,982.25 L964.22,982.55 L964.83,982.85 L965.44,983.15 L966.05,983.44 L966.66,983.73 L967.27,984.02 L967.88,984.30 L968.48,984.59 L969.09,984.87 L969.70,985.14 L970.31,985.41 L970.92,985.68 L971.53,985.95 L972.14,986.22 L972.75,986.48 L973.35,986.74 L973.96,987.00 L974.57,987.25 L975.18,987.50 L975.79,987.75 L976.40,988.00 L977.01,988.24 L977.61,988.48 L978.22,988.72 L978.83,988.96 L979.44,989.19 L980.05,989.43 L980.66,989.66 L981.27,989.88 L981.88,990.11 L982.48,990.33 L983.09,990.55 L983.70,990.77 L984.31,990.98 L984.92,991.20 L985.53,991.41 L986.14,991.62 L986.75,991.82 L987.35,992.03 L987.96,992.23 L988.57,992.43 L989.18,992.63 L989.79,992.83 L990.40,993.02 L991.01,993.22 L991.61,993.41 L992.22,993.59 L992.83,993.78 L993.44,993.97 L994.05,994.15 L994.66,994.33 L995.27,994.51 L995.88,994.69 L996.48,994.86 L997.09,995.04 L997.70,995.21 L998.31,995.38 L998.92,995.55 L999.53,995.72 L1000.14,995.88 L1000.74,996.04 L1001.35,996.21 L1001.96,996.37 L1002.57,996.53 L1003.18,996.68 L1003.79,996.84 L1004.40,996.99 L1005.01,997.15 L1005.61,997.30 L1006.22,997.45 L1006.83,997.59 L1007.44,997.74 L1008.05,997.89 L1008.66,998.03 L1009.27,998.17 L1009.87,998.31 L1010.48,998.45 L1011.09,998.59 L1011.70,998.73 L1012.31,998.87 L1012.92,999.00 L1013.53,999.13 L1014.14,999.26 L1014.74,999.39 L1015.35,999.52 L1015.96,999.65 L1016.57,999.78 L1017.18,999.90 L1017.79,1000.03 L1018.40,1000.15 L1019.01,1000.27 L1019.61,1000.40 L1020.22,1000.52 L1020.83,1000.63 L1021.44,1000.75 L1022.05,1000.87 L1022.66,1000.98 L1023.27,1001.10 L1023.87,1001.21 L1024.48,1001.32 L1025.09,1001.43 L1025.70,1001.54 L1026.31,1001.65 L1026.92,1001.76 L1027.53,1001.87 L1028.14,1001.98 L1028.74,1002.08 L1029.35,1002.18 L1029.96,1002.29 L1030.57,1002.39 L1031.18,1002.49 L1031.79,1002.59 L1032.40,1002.69 L1033.00,1002.79 L1033.61,1002.89 L1034.22,1002.99 L1034.83,1003.08 L1035.44,1003.18 L1036.05,1003.27 L1036.66,1003.37 L1037.27,1003.46 L1037.87,1003.55 L1038.48,1003.64 L1039.09,1003.73 L1039.70,1003.82 L1040.31,1003.91 L1040.92,1004.00 L1041.53,1004.09 L1042.14,1004.17 L1042.74,1004.26 L1043.35,1004.34 L1043.96,1004.43 L1044.57,1004.51 L1045.18,1004.59 L1045.79,1004.68 L1046.40,1004.76 L1047.00,1004.84 L1047.61,1004.92 L1048.22,1005.00 L1048.83,1005.08 L1049.44,1005.15 L1050.05,1005.23 L1050.66,1005.31 L1051.27,1005.39 L1051.87,1005.46 L1052.48,1005.54 L1053.09,1005.61 L1053.70,1005.68" fill="none" stroke="#000" stroke-width="3.3" stroke-linejoin="round"/></g>
<rect x="688.80" y="700.52" width="364.60" height="350.16" fill="none" stroke="#000" stroke-width="2.7" stroke-linejoin="miter"/><line x1="688.80" y1="1050.68" x2="688.80" y2="1063.18" stroke="#000" stroke-width="2.6"/><line x1="779.95" y1="1050.68" x2="779.95" y2="1063.18" stroke="#000" stroke-width="2.6"/><line x1="871.10" y1="1050.68" x2="871.10" y2="1063.18" stroke="#000" stroke-width="2.6"/><line x1="962.25" y1="1050.68" x2="962.25" y2="1063.18" stroke="#000" stroke-width="2.6"/><line x1="1053.40" y1="1050.68" x2="1053.40" y2="1063.18" stroke="#000" stroke-width="2.6"/><line x1="676.30" y1="1021.50" x2="688.80" y2="1021.50" stroke="#000" stroke-width="2.6"/><line x1="676.30" y1="875.60" x2="688.80" y2="875.60" stroke="#000" stroke-width="2.6"/><line x1="676.30" y1="729.70" x2="688.80" y2="729.70" stroke="#000" stroke-width="2.6"/>
<text x="679.09" y="1103.20" font-family='"Liberation Sans", sans-serif' font-size="32.94" textLength="19.41" lengthAdjust="spacingAndGlyphs">2</text><text x="771.28" y="1103.20" font-family='"Liberation Sans", sans-serif' font-size="33.43" textLength="17.55" lengthAdjust="spacingAndGlyphs">4</text><text x="861.40" y="1102.88" font-family='"Liberation Sans", sans-serif' font-size="32.49" textLength="19.16" lengthAdjust="spacingAndGlyphs">6</text><text x="952.83" y="1102.88" font-family='"Liberation Sans", sans-serif' font-size="32.49" textLength="18.85" lengthAdjust="spacingAndGlyphs">8</text><text x="1034.44" y="1102.88" font-family='"Liberation Sans", sans-serif' font-size="32.49" textLength="36.70" lengthAdjust="spacingAndGlyphs">10</text><text x="615.61" y="741.95" font-family='"Liberation Sans", sans-serif' font-size="36.02" textLength="47.32" lengthAdjust="spacingAndGlyphs">1.0</text><text x="616.90" y="887.85" font-family='"Liberation Sans", sans-serif' font-size="36.02" textLength="46.09" lengthAdjust="spacingAndGlyphs">0.5</text><text x="616.91" y="1033.75" font-family='"Liberation Sans", sans-serif' font-size="36.02" textLength="45.98" lengthAdjust="spacingAndGlyphs">0.0</text>
<text x="638.82" y="1157.80" font-family='"Liberation Sans", sans-serif' font-size="34" textLength="140.34" lengthAdjust="spacingAndGlyphs">Detuning</text><line x1="789.10" y1="1125.9" x2="789.10" y2="1172" stroke="#000" stroke-width="1.4"/><text x="794.75" y="1158.26" font-family='"Liberation Serif", serif' font-style="italic" font-size="34.9" textLength="24.47" lengthAdjust="spacingAndGlyphs">ω</text><text x="817.86" y="1163.45" font-family='"Liberation Serif", serif' font-size="25.57" textLength="12.72" lengthAdjust="spacingAndGlyphs">s</text><line x1="842.50" y1="1148.7" x2="865.00" y2="1148.7" stroke="#000" stroke-width="1.4"/><text x="874.75" y="1158.26" font-family='"Liberation Serif", serif' font-style="italic" font-size="34.9" textLength="24.47" lengthAdjust="spacingAndGlyphs">ω</text><text x="900.06" y="1142.35" font-family='"Liberation Serif", serif' font-size="25.79" textLength="13.68" lengthAdjust="spacingAndGlyphs">0</text><text x="900.29" y="1167.25" font-family='"Liberation Serif", serif' font-size="20.9" textLength="14.11" lengthAdjust="spacingAndGlyphs">q</text><line x1="922.20" y1="1126" x2="922.20" y2="1172" stroke="#000" stroke-width="1.4"/><line x1="936.80" y1="1166.3" x2="950.20" y2="1131.5" stroke="#000" stroke-width="1.5"/><text x="951.99" y="1158.20" font-family='"Liberation Serif", serif' font-size="31.26" textLength="19.46" lengthAdjust="spacingAndGlyphs">2</text><text x="969.98" y="1158.13" font-family='"Liberation Serif", serif' font-style="italic" font-size="37.55" textLength="20.77" lengthAdjust="spacingAndGlyphs">π</text><text x="1001.49" y="1158.20" font-family='"Liberation Sans", sans-serif' font-size="34" textLength="101.32" lengthAdjust="spacingAndGlyphs">(MHz)</text>
<circle cx="886.80" cy="728.5" r="7.5" fill="#3ecf50"/><text x="924.62" y="739.20" font-family='"Liberation Sans", sans-serif' font-size="34" textLength="71.48" lengthAdjust="spacingAndGlyphs">Data</text><line x1="857.20" y1="770.6" x2="916.20" y2="770.6" stroke="#000" stroke-width="3.0"/><text x="924.28" y="784.80" font-family='"Liberation Sans", sans-serif' font-size="34" textLength="42.19" lengthAdjust="spacingAndGlyphs">Fit</text><rect x="857.30" y="821.80" width="58.5" height="11.1" fill="#3a8fcb" fill-opacity="0.25"/><line x1="857.30" y1="820.00" x2="915.80" y2="820.00" stroke="#3a8fcb" stroke-width="3.4"/><text x="927.24" y="826.30" font-family='"Liberation Serif", serif' font-style="italic" font-size="36.29" textLength="20.87" lengthAdjust="spacingAndGlyphs">n</text><text x="949.59" y="830.50" font-family='"Liberation Serif", serif' font-size="25.26" textLength="22.67" lengthAdjust="spacingAndGlyphs">m</text><line x1="986.00" y1="813.3" x2="1010.20" y2="813.3" stroke="#000" stroke-width="1.6"/><line x1="986.00" y1="820.1" x2="1010.20" y2="820.1" stroke="#000" stroke-width="1.6"/><text x="1022.96" y="829.53" font-family='"Liberation Serif", serif' font-size="37.64" textLength="18.88" lengthAdjust="spacingAndGlyphs">0</text><rect x="857.30" y="870.70" width="58.5" height="11.1" fill="#ff4a4a" fill-opacity="0.34"/><line x1="857.30" y1="868.90" x2="915.80" y2="868.90" stroke="#ff4a4a" stroke-width="3.4"/><text x="927.24" y="875.20" font-family='"Liberation Serif", serif' font-style="italic" font-size="36.29" textLength="20.87" lengthAdjust="spacingAndGlyphs">n</text><text x="949.59" y="879.40" font-family='"Liberation Serif", serif' font-size="25.26" textLength="22.67" lengthAdjust="spacingAndGlyphs">m</text><line x1="986.00" y1="862.1999999999999" x2="1010.20" y2="862.1999999999999" stroke="#000" stroke-width="1.6"/><line x1="986.00" y1="869.0" x2="1010.20" y2="869.0" stroke="#000" stroke-width="1.6"/><text x="1022.55" y="878.70" font-family='"Liberation Serif", serif' font-size="37.57" textLength="18.46" lengthAdjust="spacingAndGlyphs">1</text>
<text x="692.25" y="669.60" font-family='"Liberation Sans", sans-serif' font-size="34" textLength="355.09" lengthAdjust="spacingAndGlyphs">Magnon coherent state</text>
<text x="623.83" y="644.60" font-family='"Liberation Sans", sans-serif' font-size="33" textLength="38.94" lengthAdjust="spacingAndGlyphs" stroke="#000" stroke-width="0.7">(c)</text></svg></body></html>
